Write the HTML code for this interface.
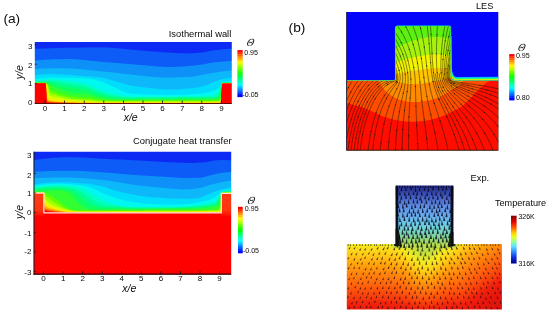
<!DOCTYPE html>
<html><head><meta charset="utf-8"><title>figure</title>
<style>
html,body{margin:0;padding:0;background:#fff;}
body{width:550px;height:314px;overflow:hidden;}
svg{display:block;font-family:"Liberation Sans", sans-serif;fill:#0a0a0a;}
</style></head><body>
<svg width="550" height="314" viewBox="0 0 550 314">
<defs>
<filter id="bl" x="-5%" y="-5%" width="110%" height="110%"><feGaussianBlur stdDeviation="0.45"/></filter>
<filter id="bl2" x="-5%" y="-5%" width="110%" height="110%"><feGaussianBlur stdDeviation="0.3"/></filter>
<linearGradient id="ribg" x1="0" y1="0" x2="0" y2="1"><stop offset="0" stop-color="#ff3a14"/><stop offset="0.75" stop-color="#ff3410"/><stop offset="1" stop-color="#ff0800"/></linearGradient>
<clipPath id="cples"><rect x="346.5" y="12.0" width="151.8" height="138.2"/></clipPath>
<clipPath id="cpsolid"><path d="M344.5,80.8 L393.6,80.8 Q395.8,80.8 395.8,78.6 L395.8,27.6 Q395.8,26.3 397.1,26.3 L449.1,26.3 Q450.4,26.3 450.4,27.6 L450.4,76.3 Q450.7,80.8 455.4,80.8 L500.3,80.8 L500.3,152.2 L344.5,152.2 Z"/></clipPath>
<clipPath id="cpexp"><path d="M346.8,244.0 H395.5 V185.5 H453.5 V244.0 H501.9 V309.6 H346.8 Z"/></clipPath>
<filter id="bl3" x="-5%" y="-5%" width="110%" height="110%"><feGaussianBlur stdDeviation="1.2"/></filter>
<filter id="bl4" x="-5%" y="-5%" width="110%" height="110%"><feGaussianBlur stdDeviation="0.35"/></filter>
<linearGradient id="expg" gradientUnits="userSpaceOnUse" x1="0" y1="185.5" x2="0" y2="250.0"><stop offset="0.000" stop-color="#262a88"/><stop offset="0.070" stop-color="#2e3a9c"/><stop offset="0.163" stop-color="#4058bc"/><stop offset="0.256" stop-color="#5478d4"/><stop offset="0.349" stop-color="#6294e4"/><stop offset="0.457" stop-color="#68a8ec"/><stop offset="0.566" stop-color="#6cc4ea"/><stop offset="0.659" stop-color="#72d4d8"/><stop offset="0.767" stop-color="#7ad4a4"/><stop offset="0.845" stop-color="#94d874"/><stop offset="0.907" stop-color="#b0dc50"/><stop offset="1.000" stop-color="#c8e23c"/></linearGradient>
<linearGradient id="jetg" x1="0" y1="0" x2="0" y2="1"><stop offset="0" stop-color="#800000"/><stop offset="0.12" stop-color="#e00000"/><stop offset="0.25" stop-color="#ff5a00"/><stop offset="0.36" stop-color="#ffd000"/><stop offset="0.45" stop-color="#e8ff20"/><stop offset="0.55" stop-color="#90ffa0"/><stop offset="0.64" stop-color="#60e0ff"/><stop offset="0.75" stop-color="#3090ff"/><stop offset="0.87" stop-color="#1030e0"/><stop offset="1" stop-color="#000080"/></linearGradient>
</defs>
<rect width="550" height="314" fill="#ffffff"/>
<clipPath id="cpa1"><rect x="34.8" y="42.0" width="197.0" height="61.9"/></clipPath>
<g clip-path="url(#cpa1)"><g filter="url(#bl)">
<rect x="31.8" y="39.0" width="203.0" height="67.3" fill="#0a2cf5"/>
<path d="M31.8,107.3 L31.8,49.05 L32.8,49.00 L33.8,48.95 L34.8,48.91 L35.8,48.86 L36.8,48.82 L37.8,48.77 L38.8,48.73 L39.8,48.69 L40.8,48.64 L41.8,48.60 L42.8,48.56 L43.8,48.52 L44.8,48.47 L45.8,48.43 L46.8,48.39 L47.8,48.36 L48.8,48.32 L49.8,48.28 L50.8,48.24 L51.8,48.21 L52.8,48.17 L53.8,48.14 L54.8,48.11 L55.8,48.08 L56.8,48.05 L57.8,48.02 L58.8,47.99 L59.8,47.96 L60.8,47.94 L61.8,47.92 L62.8,47.89 L63.8,47.87 L64.8,47.85 L65.8,47.83 L66.8,47.82 L67.8,47.80 L68.8,47.79 L69.8,47.78 L70.8,47.76 L71.8,47.75 L72.8,47.74 L73.8,47.72 L74.8,47.71 L75.8,47.70 L76.8,47.69 L77.8,47.67 L78.8,47.66 L79.8,47.65 L80.8,47.64 L81.8,47.63 L82.8,47.62 L83.8,47.61 L84.8,47.60 L85.8,47.59 L86.8,47.58 L87.8,47.57 L88.8,47.56 L89.8,47.55 L90.8,47.55 L91.8,47.54 L92.8,47.53 L93.8,47.53 L94.8,47.52 L95.8,47.52 L96.8,47.51 L97.8,47.51 L98.8,47.51 L99.8,47.50 L100.8,47.50 L101.8,47.50 L102.8,47.50 L103.8,47.50 L104.8,47.52 L105.8,47.54 L106.8,47.57 L107.8,47.60 L108.8,47.65 L109.8,47.70 L110.8,47.76 L111.8,47.83 L112.8,47.90 L113.8,47.97 L114.8,48.06 L115.8,48.14 L116.8,48.23 L117.8,48.32 L118.8,48.42 L119.8,48.52 L120.8,48.62 L121.8,48.72 L122.8,48.82 L123.8,48.93 L124.8,49.03 L125.8,49.14 L126.8,49.24 L127.8,49.34 L128.8,49.44 L129.8,49.54 L130.8,49.64 L131.8,49.73 L132.8,49.82 L133.8,49.90 L134.8,49.98 L135.8,50.06 L136.8,50.14 L137.8,50.22 L138.8,50.30 L139.8,50.38 L140.8,50.47 L141.8,50.55 L142.8,50.63 L143.8,50.72 L144.8,50.80 L145.8,50.88 L146.8,50.97 L147.8,51.05 L148.8,51.14 L149.8,51.22 L150.8,51.30 L151.8,51.39 L152.8,51.47 L153.8,51.55 L154.8,51.63 L155.8,51.71 L156.8,51.79 L157.8,51.87 L158.8,51.95 L159.8,52.02 L160.8,52.10 L161.8,52.17 L162.8,52.24 L163.8,52.31 L164.8,52.38 L165.8,52.44 L166.8,52.51 L167.8,52.57 L168.8,52.63 L169.8,52.69 L170.8,52.75 L171.8,52.81 L172.8,52.87 L173.8,52.93 L174.8,52.99 L175.8,53.06 L176.8,53.12 L177.8,53.17 L178.8,53.22 L179.8,53.27 L180.8,53.31 L181.8,53.35 L182.8,53.37 L183.8,53.39 L184.8,53.40 L185.8,53.40 L186.8,53.39 L187.8,53.37 L188.8,53.34 L189.8,53.31 L190.8,53.27 L191.8,53.22 L192.8,53.17 L193.8,53.12 L194.8,53.06 L195.8,52.99 L196.8,52.93 L197.8,52.86 L198.8,52.79 L199.8,52.71 L200.8,52.63 L201.8,52.52 L202.8,52.39 L203.8,52.23 L204.8,52.06 L205.8,51.87 L206.8,51.67 L207.8,51.47 L208.8,51.27 L209.8,51.06 L210.8,50.87 L211.8,50.68 L212.8,50.51 L213.8,50.36 L214.8,50.22 L215.8,50.11 L216.8,49.99 L217.8,49.88 L218.8,49.77 L219.8,49.67 L220.8,49.56 L221.8,49.46 L222.8,49.37 L223.8,49.27 L224.8,49.19 L225.8,49.10 L226.8,49.02 L227.8,48.95 L228.8,48.88 L229.8,48.82 L230.8,48.76 L231.8,48.71 L232.8,48.66 L233.8,48.63 L234.8,48.60 L234.8,107.3 Z" fill="#0a5cf8"/>
<path d="M31.8,107.3 L31.8,60.96 L32.8,60.85 L33.8,60.73 L34.8,60.62 L35.8,60.52 L36.8,60.42 L37.8,60.32 L38.8,60.23 L39.8,60.14 L40.8,60.06 L41.8,59.98 L42.8,59.90 L43.8,59.83 L44.8,59.77 L45.8,59.70 L46.8,59.64 L47.8,59.59 L48.8,59.54 L49.8,59.49 L50.8,59.44 L51.8,59.40 L52.8,59.36 L53.8,59.32 L54.8,59.29 L55.8,59.26 L56.8,59.23 L57.8,59.21 L58.8,59.19 L59.8,59.17 L60.8,59.15 L61.8,59.14 L62.8,59.13 L63.8,59.12 L64.8,59.11 L65.8,59.10 L66.8,59.10 L67.8,59.10 L68.8,59.10 L69.8,59.11 L70.8,59.13 L71.8,59.16 L72.8,59.20 L73.8,59.24 L74.8,59.29 L75.8,59.35 L76.8,59.41 L77.8,59.48 L78.8,59.55 L79.8,59.63 L80.8,59.71 L81.8,59.80 L82.8,59.89 L83.8,59.98 L84.8,60.08 L85.8,60.18 L86.8,60.28 L87.8,60.38 L88.8,60.49 L89.8,60.59 L90.8,60.70 L91.8,60.81 L92.8,60.91 L93.8,61.02 L94.8,61.12 L95.8,61.23 L96.8,61.33 L97.8,61.43 L98.8,61.53 L99.8,61.62 L100.8,61.71 L101.8,61.80 L102.8,61.88 L103.8,61.96 L104.8,62.05 L105.8,62.13 L106.8,62.21 L107.8,62.29 L108.8,62.37 L109.8,62.46 L110.8,62.54 L111.8,62.62 L112.8,62.70 L113.8,62.79 L114.8,62.87 L115.8,62.95 L116.8,63.04 L117.8,63.12 L118.8,63.20 L119.8,63.28 L120.8,63.37 L121.8,63.45 L122.8,63.53 L123.8,63.61 L124.8,63.69 L125.8,63.78 L126.8,63.86 L127.8,63.94 L128.8,64.02 L129.8,64.10 L130.8,64.17 L131.8,64.25 L132.8,64.33 L133.8,64.41 L134.8,64.48 L135.8,64.56 L136.8,64.64 L137.8,64.73 L138.8,64.81 L139.8,64.90 L140.8,64.99 L141.8,65.08 L142.8,65.18 L143.8,65.27 L144.8,65.36 L145.8,65.46 L146.8,65.56 L147.8,65.65 L148.8,65.74 L149.8,65.84 L150.8,65.93 L151.8,66.02 L152.8,66.11 L153.8,66.20 L154.8,66.28 L155.8,66.36 L156.8,66.44 L157.8,66.51 L158.8,66.58 L159.8,66.65 L160.8,66.71 L161.8,66.76 L162.8,66.82 L163.8,66.86 L164.8,66.90 L165.8,66.93 L166.8,66.96 L167.8,66.98 L168.8,66.99 L169.8,67.00 L170.8,67.00 L171.8,66.98 L172.8,66.96 L173.8,66.93 L174.8,66.90 L175.8,66.85 L176.8,66.81 L177.8,66.75 L178.8,66.70 L179.8,66.64 L180.8,66.57 L181.8,66.51 L182.8,66.44 L183.8,66.38 L184.8,66.31 L185.8,66.25 L186.8,66.18 L187.8,66.10 L188.8,66.02 L189.8,65.93 L190.8,65.83 L191.8,65.74 L192.8,65.63 L193.8,65.53 L194.8,65.42 L195.8,65.31 L196.8,65.19 L197.8,65.07 L198.8,64.95 L199.8,64.82 L200.8,64.69 L201.8,64.55 L202.8,64.38 L203.8,64.21 L204.8,64.03 L205.8,63.84 L206.8,63.65 L207.8,63.46 L208.8,63.27 L209.8,63.08 L210.8,62.90 L211.8,62.73 L212.8,62.58 L213.8,62.44 L214.8,62.32 L215.8,62.22 L216.8,62.11 L217.8,62.01 L218.8,61.91 L219.8,61.81 L220.8,61.72 L221.8,61.63 L222.8,61.54 L223.8,61.46 L224.8,61.38 L225.8,61.31 L226.8,61.25 L227.8,61.18 L228.8,61.13 L229.8,61.08 L230.8,61.04 L231.8,61.01 L232.8,60.98 L233.8,60.96 L234.8,60.95 L234.8,107.3 Z" fill="#0a90f8"/>
<path d="M31.8,107.3 L31.8,69.23 L32.8,69.15 L33.8,69.08 L34.8,69.01 L35.8,68.95 L36.8,68.89 L37.8,68.83 L38.8,68.78 L39.8,68.73 L40.8,68.68 L41.8,68.64 L42.8,68.60 L43.8,68.56 L44.8,68.52 L45.8,68.49 L46.8,68.46 L47.8,68.44 L48.8,68.41 L49.8,68.39 L50.8,68.37 L51.8,68.36 L52.8,68.34 L53.8,68.33 L54.8,68.32 L55.8,68.31 L56.8,68.31 L57.8,68.30 L58.8,68.30 L59.8,68.30 L60.8,68.30 L61.8,68.31 L62.8,68.32 L63.8,68.34 L64.8,68.37 L65.8,68.40 L66.8,68.43 L67.8,68.47 L68.8,68.52 L69.8,68.57 L70.8,68.62 L71.8,68.68 L72.8,68.74 L73.8,68.81 L74.8,68.88 L75.8,68.95 L76.8,69.03 L77.8,69.10 L78.8,69.19 L79.8,69.27 L80.8,69.36 L81.8,69.45 L82.8,69.54 L83.8,69.63 L84.8,69.72 L85.8,69.82 L86.8,69.92 L87.8,70.02 L88.8,70.11 L89.8,70.21 L90.8,70.31 L91.8,70.41 L92.8,70.51 L93.8,70.62 L94.8,70.72 L95.8,70.81 L96.8,70.91 L97.8,71.01 L98.8,71.11 L99.8,71.20 L100.8,71.30 L101.8,71.39 L102.8,71.48 L103.8,71.57 L104.8,71.67 L105.8,71.76 L106.8,71.86 L107.8,71.96 L108.8,72.07 L109.8,72.18 L110.8,72.29 L111.8,72.40 L112.8,72.51 L113.8,72.62 L114.8,72.74 L115.8,72.85 L116.8,72.97 L117.8,73.09 L118.8,73.21 L119.8,73.32 L120.8,73.44 L121.8,73.56 L122.8,73.68 L123.8,73.79 L124.8,73.91 L125.8,74.03 L126.8,74.14 L127.8,74.25 L128.8,74.36 L129.8,74.47 L130.8,74.58 L131.8,74.68 L132.8,74.79 L133.8,74.88 L134.8,74.98 L135.8,75.08 L136.8,75.18 L137.8,75.28 L138.8,75.38 L139.8,75.49 L140.8,75.60 L141.8,75.71 L142.8,75.82 L143.8,75.93 L144.8,76.05 L145.8,76.16 L146.8,76.27 L147.8,76.37 L148.8,76.48 L149.8,76.58 L150.8,76.68 L151.8,76.78 L152.8,76.87 L153.8,76.96 L154.8,77.05 L155.8,77.12 L156.8,77.20 L157.8,77.26 L158.8,77.32 L159.8,77.37 L160.8,77.41 L161.8,77.45 L162.8,77.48 L163.8,77.49 L164.8,77.50 L165.8,77.50 L166.8,77.50 L167.8,77.49 L168.8,77.48 L169.8,77.48 L170.8,77.46 L171.8,77.45 L172.8,77.44 L173.8,77.42 L174.8,77.40 L175.8,77.38 L176.8,77.36 L177.8,77.33 L178.8,77.31 L179.8,77.28 L180.8,77.25 L181.8,77.22 L182.8,77.18 L183.8,77.15 L184.8,77.11 L185.8,77.08 L186.8,77.04 L187.8,77.00 L188.8,76.95 L189.8,76.91 L190.8,76.85 L191.8,76.77 L192.8,76.66 L193.8,76.53 L194.8,76.37 L195.8,76.20 L196.8,76.02 L197.8,75.83 L198.8,75.62 L199.8,75.42 L200.8,75.21 L201.8,75.01 L202.8,74.81 L203.8,74.61 L204.8,74.43 L205.8,74.26 L206.8,74.09 L207.8,73.91 L208.8,73.73 L209.8,73.55 L210.8,73.36 L211.8,73.18 L212.8,73.00 L213.8,72.82 L214.8,72.64 L215.8,72.47 L216.8,72.30 L217.8,72.14 L218.8,71.98 L219.8,71.83 L220.8,71.69 L221.8,71.54 L222.8,71.41 L223.8,71.27 L224.8,71.14 L225.8,71.01 L226.8,70.89 L227.8,70.77 L228.8,70.65 L229.8,70.54 L230.8,70.43 L231.8,70.32 L232.8,70.22 L233.8,70.12 L234.8,70.03 L234.8,107.3 Z" fill="#0ab8fa"/>
<path d="M31.8,107.3 L31.8,75.35 L32.8,75.24 L33.8,75.13 L34.8,75.02 L35.8,74.92 L36.8,74.82 L37.8,74.72 L38.8,74.63 L39.8,74.55 L40.8,74.47 L41.8,74.40 L42.8,74.33 L43.8,74.28 L44.8,74.23 L45.8,74.18 L46.8,74.15 L47.8,74.12 L48.8,74.11 L49.8,74.10 L50.8,74.10 L51.8,74.11 L52.8,74.13 L53.8,74.15 L54.8,74.18 L55.8,74.21 L56.8,74.25 L57.8,74.30 L58.8,74.34 L59.8,74.39 L60.8,74.45 L61.8,74.50 L62.8,74.56 L63.8,74.62 L64.8,74.68 L65.8,74.74 L66.8,74.81 L67.8,74.87 L68.8,74.93 L69.8,74.99 L70.8,75.05 L71.8,75.11 L72.8,75.19 L73.8,75.26 L74.8,75.34 L75.8,75.42 L76.8,75.51 L77.8,75.59 L78.8,75.68 L79.8,75.77 L80.8,75.85 L81.8,75.94 L82.8,76.02 L83.8,76.11 L84.8,76.18 L85.8,76.26 L86.8,76.33 L87.8,76.39 L88.8,76.45 L89.8,76.51 L90.8,76.57 L91.8,76.63 L92.8,76.69 L93.8,76.76 L94.8,76.83 L95.8,76.90 L96.8,76.98 L97.8,77.07 L98.8,77.17 L99.8,77.28 L100.8,77.41 L101.8,77.58 L102.8,77.78 L103.8,78.01 L104.8,78.26 L105.8,78.53 L106.8,78.82 L107.8,79.10 L108.8,79.39 L109.8,79.68 L110.8,79.95 L111.8,80.21 L112.8,80.48 L113.8,80.76 L114.8,81.03 L115.8,81.31 L116.8,81.60 L117.8,81.88 L118.8,82.16 L119.8,82.44 L120.8,82.73 L121.8,83.03 L122.8,83.33 L123.8,83.64 L124.8,83.95 L125.8,84.25 L126.8,84.54 L127.8,84.80 L128.8,85.05 L129.8,85.26 L130.8,85.45 L131.8,85.63 L132.8,85.81 L133.8,85.97 L134.8,86.14 L135.8,86.29 L136.8,86.45 L137.8,86.59 L138.8,86.73 L139.8,86.87 L140.8,87.00 L141.8,87.13 L142.8,87.25 L143.8,87.36 L144.8,87.48 L145.8,87.59 L146.8,87.69 L147.8,87.79 L148.8,87.89 L149.8,87.98 L150.8,88.07 L151.8,88.17 L152.8,88.26 L153.8,88.36 L154.8,88.45 L155.8,88.54 L156.8,88.64 L157.8,88.73 L158.8,88.82 L159.8,88.90 L160.8,88.98 L161.8,89.06 L162.8,89.14 L163.8,89.20 L164.8,89.27 L165.8,89.32 L166.8,89.37 L167.8,89.42 L168.8,89.45 L169.8,89.48 L170.8,89.49 L171.8,89.50 L172.8,89.50 L173.8,89.48 L174.8,89.46 L175.8,89.43 L176.8,89.39 L177.8,89.35 L178.8,89.29 L179.8,89.23 L180.8,89.17 L181.8,89.10 L182.8,89.02 L183.8,88.94 L184.8,88.86 L185.8,88.78 L186.8,88.69 L187.8,88.60 L188.8,88.51 L189.8,88.42 L190.8,88.32 L191.8,88.22 L192.8,88.10 L193.8,87.96 L194.8,87.82 L195.8,87.66 L196.8,87.50 L197.8,87.32 L198.8,87.14 L199.8,86.94 L200.8,86.73 L201.8,86.48 L202.8,86.21 L203.8,85.92 L204.8,85.60 L205.8,85.28 L206.8,84.94 L207.8,84.59 L208.8,84.22 L209.8,83.81 L210.8,83.38 L211.8,82.94 L212.8,82.50 L213.8,82.08 L214.8,81.68 L215.8,81.29 L216.8,80.90 L217.8,80.50 L218.8,80.13 L219.8,79.79 L220.8,79.49 L221.8,79.26 L222.8,79.05 L223.8,78.85 L224.8,78.65 L225.8,78.47 L226.8,78.30 L227.8,78.15 L228.8,78.02 L229.8,77.92 L230.8,77.85 L231.8,77.80 L232.8,77.80 L233.8,77.83 L234.8,77.90 L234.8,107.3 Z" fill="#05dcfc"/>
<path d="M31.8,107.3 L31.8,78.43 L32.8,78.47 L33.8,78.49 L34.8,78.50 L35.8,78.50 L36.8,78.48 L37.8,78.46 L38.8,78.42 L39.8,78.38 L40.8,78.33 L41.8,78.27 L42.8,78.21 L43.8,78.15 L44.8,78.08 L45.8,78.01 L46.8,77.90 L47.8,77.74 L48.8,77.59 L49.8,77.50 L50.8,77.50 L51.8,77.50 L52.8,77.50 L53.8,77.50 L54.8,77.50 L55.8,77.51 L56.8,77.55 L57.8,77.61 L58.8,77.66 L59.8,77.70 L60.8,77.71 L61.8,77.72 L62.8,77.73 L63.8,77.74 L64.8,77.74 L65.8,77.75 L66.8,77.75 L67.8,77.76 L68.8,77.76 L69.8,77.77 L70.8,77.78 L71.8,77.79 L72.8,77.80 L73.8,77.81 L74.8,77.83 L75.8,77.85 L76.8,77.88 L77.8,77.92 L78.8,77.95 L79.8,78.00 L80.8,78.04 L81.8,78.09 L82.8,78.15 L83.8,78.21 L84.8,78.27 L85.8,78.34 L86.8,78.41 L87.8,78.48 L88.8,78.57 L89.8,78.69 L90.8,78.83 L91.8,79.00 L92.8,79.19 L93.8,79.40 L94.8,79.63 L95.8,79.87 L96.8,80.13 L97.8,80.39 L98.8,80.67 L99.8,80.94 L100.8,81.24 L101.8,81.58 L102.8,81.96 L103.8,82.37 L104.8,82.81 L105.8,83.27 L106.8,83.75 L107.8,84.25 L108.8,84.75 L109.8,85.25 L110.8,85.75 L111.8,86.25 L112.8,86.72 L113.8,87.18 L114.8,87.62 L115.8,88.04 L116.8,88.49 L117.8,88.96 L118.8,89.43 L119.8,89.92 L120.8,90.40 L121.8,90.87 L122.8,91.32 L123.8,91.76 L124.8,92.16 L125.8,92.52 L126.8,92.85 L127.8,93.12 L128.8,93.33 L129.8,93.48 L130.8,93.58 L131.8,93.67 L132.8,93.76 L133.8,93.84 L134.8,93.92 L135.8,93.99 L136.8,94.06 L137.8,94.12 L138.8,94.18 L139.8,94.23 L140.8,94.28 L141.8,94.33 L142.8,94.38 L143.8,94.42 L144.8,94.45 L145.8,94.49 L146.8,94.52 L147.8,94.55 L148.8,94.57 L149.8,94.60 L150.8,94.62 L151.8,94.64 L152.8,94.66 L153.8,94.68 L154.8,94.70 L155.8,94.72 L156.8,94.74 L157.8,94.76 L158.8,94.78 L159.8,94.79 L160.8,94.81 L161.8,94.82 L162.8,94.84 L163.8,94.85 L164.8,94.86 L165.8,94.87 L166.8,94.88 L167.8,94.89 L168.8,94.89 L169.8,94.90 L170.8,94.90 L171.8,94.90 L172.8,94.90 L173.8,94.89 L174.8,94.88 L175.8,94.87 L176.8,94.85 L177.8,94.83 L178.8,94.81 L179.8,94.78 L180.8,94.75 L181.8,94.71 L182.8,94.68 L183.8,94.63 L184.8,94.59 L185.8,94.54 L186.8,94.49 L187.8,94.44 L188.8,94.38 L189.8,94.33 L190.8,94.26 L191.8,94.20 L192.8,94.14 L193.8,94.07 L194.8,94.00 L195.8,93.92 L196.8,93.85 L197.8,93.77 L198.8,93.70 L199.8,93.62 L200.8,93.53 L201.8,93.42 L202.8,93.29 L203.8,93.15 L204.8,92.98 L205.8,92.80 L206.8,92.60 L207.8,92.38 L208.8,92.15 L209.8,91.91 L210.8,91.65 L211.8,91.36 L212.8,90.99 L213.8,90.56 L214.8,90.09 L215.8,89.64 L216.8,89.20 L217.8,88.65 L218.8,87.89 L219.8,86.38 L220.8,83.95 L221.8,81.82 L222.8,81.62 L223.8,81.54 L224.8,81.47 L225.8,81.41 L226.8,81.37 L227.8,81.34 L228.8,81.32 L229.8,81.31 L230.8,81.30 L231.8,81.30 L232.8,81.30 L233.8,81.30 L234.8,81.30 L234.8,107.3 Z" fill="#00f8f0"/>
<path d="M31.8,107.3 L31.8,80.45 L32.8,80.47 L33.8,80.49 L34.8,80.50 L35.8,80.50 L36.8,80.48 L37.8,80.46 L38.8,80.43 L39.8,80.39 L40.8,80.34 L41.8,80.29 L42.8,80.23 L43.8,80.16 L44.8,80.09 L45.8,80.01 L46.8,79.86 L47.8,79.60 L48.8,79.35 L49.8,79.20 L50.8,79.22 L51.8,79.29 L52.8,79.38 L53.8,79.49 L54.8,79.58 L55.8,79.66 L56.8,79.74 L57.8,79.82 L58.8,79.90 L59.8,79.98 L60.8,80.07 L61.8,80.17 L62.8,80.27 L63.8,80.37 L64.8,80.47 L65.8,80.58 L66.8,80.69 L67.8,80.81 L68.8,80.93 L69.8,81.06 L70.8,81.19 L71.8,81.33 L72.8,81.47 L73.8,81.62 L74.8,81.78 L75.8,81.94 L76.8,82.11 L77.8,82.29 L78.8,82.47 L79.8,82.66 L80.8,82.87 L81.8,83.08 L82.8,83.30 L83.8,83.53 L84.8,83.77 L85.8,84.01 L86.8,84.27 L87.8,84.54 L88.8,84.84 L89.8,85.18 L90.8,85.56 L91.8,85.97 L92.8,86.40 L93.8,86.85 L94.8,87.31 L95.8,87.77 L96.8,88.22 L97.8,88.65 L98.8,89.05 L99.8,89.43 L100.8,89.78 L101.8,90.12 L102.8,90.47 L103.8,90.80 L104.8,91.14 L105.8,91.46 L106.8,91.78 L107.8,92.09 L108.8,92.39 L109.8,92.69 L110.8,92.97 L111.8,93.24 L112.8,93.49 L113.8,93.73 L114.8,93.96 L115.8,94.17 L116.8,94.40 L117.8,94.63 L118.8,94.85 L119.8,95.08 L120.8,95.30 L121.8,95.51 L122.8,95.71 L123.8,95.89 L124.8,96.06 L125.8,96.20 L126.8,96.32 L127.8,96.41 L128.8,96.47 L129.8,96.50 L130.8,96.50 L131.8,96.50 L132.8,96.49 L133.8,96.49 L134.8,96.49 L135.8,96.48 L136.8,96.47 L137.8,96.47 L138.8,96.46 L139.8,96.45 L140.8,96.44 L141.8,96.44 L142.8,96.43 L143.8,96.42 L144.8,96.42 L145.8,96.41 L146.8,96.41 L147.8,96.40 L148.8,96.40 L149.8,96.40 L150.8,96.40 L151.8,96.40 L152.8,96.40 L153.8,96.40 L154.8,96.40 L155.8,96.40 L156.8,96.40 L157.8,96.40 L158.8,96.40 L159.8,96.40 L160.8,96.40 L161.8,96.40 L162.8,96.40 L163.8,96.40 L164.8,96.40 L165.8,96.40 L166.8,96.40 L167.8,96.40 L168.8,96.40 L169.8,96.40 L170.8,96.40 L171.8,96.40 L172.8,96.40 L173.8,96.40 L174.8,96.39 L175.8,96.39 L176.8,96.38 L177.8,96.38 L178.8,96.37 L179.8,96.36 L180.8,96.35 L181.8,96.34 L182.8,96.32 L183.8,96.31 L184.8,96.30 L185.8,96.28 L186.8,96.26 L187.8,96.25 L188.8,96.23 L189.8,96.21 L190.8,96.19 L191.8,96.17 L192.8,96.15 L193.8,96.13 L194.8,96.11 L195.8,96.09 L196.8,96.07 L197.8,96.05 L198.8,96.03 L199.8,96.00 L200.8,95.98 L201.8,95.96 L202.8,95.94 L203.8,95.91 L204.8,95.88 L205.8,95.85 L206.8,95.81 L207.8,95.77 L208.8,95.72 L209.8,95.67 L210.8,95.61 L211.8,95.54 L212.8,95.43 L213.8,95.27 L214.8,95.05 L215.8,94.62 L216.8,93.70 L217.8,92.41 L218.8,90.84 L219.8,88.57 L220.8,85.21 L221.8,82.42 L222.8,82.28 L223.8,82.26 L224.8,82.24 L225.8,82.23 L226.8,82.22 L227.8,82.21 L228.8,82.20 L229.8,82.20 L230.8,82.20 L231.8,82.20 L232.8,82.20 L233.8,82.20 L234.8,82.20 L234.8,107.3 Z" fill="#00ffc0"/>
<path d="M31.8,107.3 L31.8,81.65 L32.8,81.68 L33.8,81.69 L34.8,81.70 L35.8,81.70 L36.8,81.69 L37.8,81.67 L38.8,81.64 L39.8,81.61 L40.8,81.57 L41.8,81.53 L42.8,81.48 L43.8,81.42 L44.8,81.37 L45.8,81.31 L46.8,81.20 L47.8,81.04 L48.8,80.89 L49.8,80.80 L50.8,80.84 L51.8,80.97 L52.8,81.15 L53.8,81.37 L54.8,81.57 L55.8,81.74 L56.8,81.92 L57.8,82.11 L58.8,82.29 L59.8,82.47 L60.8,82.63 L61.8,82.79 L62.8,82.95 L63.8,83.10 L64.8,83.24 L65.8,83.39 L66.8,83.53 L67.8,83.68 L68.8,83.83 L69.8,83.98 L70.8,84.14 L71.8,84.30 L72.8,84.47 L73.8,84.64 L74.8,84.81 L75.8,84.98 L76.8,85.15 L77.8,85.32 L78.8,85.50 L79.8,85.68 L80.8,85.87 L81.8,86.06 L82.8,86.26 L83.8,86.48 L84.8,86.70 L85.8,86.93 L86.8,87.18 L87.8,87.45 L88.8,87.74 L89.8,88.09 L90.8,88.48 L91.8,88.92 L92.8,89.37 L93.8,89.85 L94.8,90.32 L95.8,90.80 L96.8,91.26 L97.8,91.69 L98.8,92.09 L99.8,92.44 L100.8,92.75 L101.8,93.06 L102.8,93.36 L103.8,93.65 L104.8,93.94 L105.8,94.22 L106.8,94.49 L107.8,94.75 L108.8,94.99 L109.8,95.23 L110.8,95.45 L111.8,95.65 L112.8,95.84 L113.8,96.02 L114.8,96.17 L115.8,96.31 L116.8,96.46 L117.8,96.60 L118.8,96.74 L119.8,96.88 L120.8,97.01 L121.8,97.13 L122.8,97.25 L123.8,97.36 L124.8,97.45 L125.8,97.53 L126.8,97.60 L127.8,97.65 L128.8,97.69 L129.8,97.70 L130.8,97.70 L131.8,97.70 L132.8,97.69 L133.8,97.68 L134.8,97.68 L135.8,97.67 L136.8,97.66 L137.8,97.64 L138.8,97.63 L139.8,97.62 L140.8,97.60 L141.8,97.59 L142.8,97.58 L143.8,97.56 L144.8,97.55 L145.8,97.54 L146.8,97.53 L147.8,97.52 L148.8,97.51 L149.8,97.50 L150.8,97.50 L151.8,97.49 L152.8,97.48 L153.8,97.48 L154.8,97.47 L155.8,97.47 L156.8,97.46 L157.8,97.46 L158.8,97.46 L159.8,97.45 L160.8,97.45 L161.8,97.44 L162.8,97.44 L163.8,97.44 L164.8,97.43 L165.8,97.43 L166.8,97.42 L167.8,97.42 L168.8,97.42 L169.8,97.41 L170.8,97.41 L171.8,97.40 L172.8,97.40 L173.8,97.39 L174.8,97.38 L175.8,97.38 L176.8,97.37 L177.8,97.37 L178.8,97.36 L179.8,97.36 L180.8,97.35 L181.8,97.35 L182.8,97.34 L183.8,97.33 L184.8,97.33 L185.8,97.32 L186.8,97.31 L187.8,97.31 L188.8,97.30 L189.8,97.29 L190.8,97.28 L191.8,97.28 L192.8,97.27 L193.8,97.26 L194.8,97.25 L195.8,97.24 L196.8,97.23 L197.8,97.22 L198.8,97.21 L199.8,97.20 L200.8,97.19 L201.8,97.18 L202.8,97.17 L203.8,97.15 L204.8,97.14 L205.8,97.12 L206.8,97.10 L207.8,97.08 L208.8,97.06 L209.8,97.03 L210.8,97.01 L211.8,96.98 L212.8,96.94 L213.8,96.89 L214.8,96.82 L215.8,96.63 L216.8,96.15 L217.8,95.36 L218.8,94.26 L219.8,91.39 L220.8,86.46 L221.8,82.76 L222.8,82.60 L223.8,82.60 L224.8,82.60 L225.8,82.60 L226.8,82.60 L227.8,82.60 L228.8,82.60 L229.8,82.60 L230.8,82.60 L231.8,82.60 L232.8,82.60 L233.8,82.60 L234.8,82.60 L234.8,107.3 Z" fill="#00ff90"/>
<path d="M31.8,107.3 L31.8,82.42 L32.8,82.37 L33.8,82.34 L34.8,82.31 L35.8,82.28 L36.8,82.26 L37.8,82.24 L38.8,82.23 L39.8,82.22 L40.8,82.21 L41.8,82.21 L42.8,82.20 L43.8,82.20 L44.8,82.20 L45.8,82.20 L46.8,82.42 L47.8,82.49 L48.8,82.53 L49.8,82.58 L50.8,82.72 L51.8,82.96 L52.8,83.27 L53.8,83.61 L54.8,83.94 L55.8,84.25 L56.8,84.59 L57.8,84.94 L58.8,85.26 L59.8,85.55 L60.8,85.79 L61.8,86.01 L62.8,86.22 L63.8,86.42 L64.8,86.61 L65.8,86.79 L66.8,86.96 L67.8,87.13 L68.8,87.30 L69.8,87.46 L70.8,87.63 L71.8,87.79 L72.8,87.97 L73.8,88.14 L74.8,88.30 L75.8,88.45 L76.8,88.60 L77.8,88.75 L78.8,88.89 L79.8,89.04 L80.8,89.18 L81.8,89.34 L82.8,89.49 L83.8,89.66 L84.8,89.84 L85.8,90.03 L86.8,90.23 L87.8,90.45 L88.8,90.71 L89.8,91.02 L90.8,91.37 L91.8,91.77 L92.8,92.18 L93.8,92.62 L94.8,93.06 L95.8,93.49 L96.8,93.90 L97.8,94.29 L98.8,94.64 L99.8,94.95 L100.8,95.21 L101.8,95.47 L102.8,95.73 L103.8,95.98 L104.8,96.23 L105.8,96.47 L106.8,96.70 L107.8,96.92 L108.8,97.12 L109.8,97.31 L110.8,97.48 L111.8,97.64 L112.8,97.78 L113.8,97.89 L114.8,97.98 L115.8,98.06 L116.8,98.13 L117.8,98.20 L118.8,98.27 L119.8,98.34 L120.8,98.40 L121.8,98.45 L122.8,98.51 L123.8,98.55 L124.8,98.60 L125.8,98.63 L126.8,98.66 L127.8,98.68 L128.8,98.69 L129.8,98.70 L130.8,98.70 L131.8,98.70 L132.8,98.69 L133.8,98.68 L134.8,98.68 L135.8,98.67 L136.8,98.66 L137.8,98.64 L138.8,98.63 L139.8,98.62 L140.8,98.60 L141.8,98.59 L142.8,98.58 L143.8,98.56 L144.8,98.55 L145.8,98.54 L146.8,98.53 L147.8,98.52 L148.8,98.51 L149.8,98.50 L150.8,98.50 L151.8,98.49 L152.8,98.48 L153.8,98.48 L154.8,98.47 L155.8,98.47 L156.8,98.46 L157.8,98.46 L158.8,98.45 L159.8,98.45 L160.8,98.44 L161.8,98.44 L162.8,98.44 L163.8,98.43 L164.8,98.43 L165.8,98.42 L166.8,98.42 L167.8,98.42 L168.8,98.41 L169.8,98.41 L170.8,98.40 L171.8,98.40 L172.8,98.40 L173.8,98.39 L174.8,98.39 L175.8,98.39 L176.8,98.38 L177.8,98.38 L178.8,98.38 L179.8,98.37 L180.8,98.37 L181.8,98.37 L182.8,98.36 L183.8,98.36 L184.8,98.36 L185.8,98.36 L186.8,98.35 L187.8,98.35 L188.8,98.35 L189.8,98.34 L190.8,98.34 L191.8,98.34 L192.8,98.33 L193.8,98.33 L194.8,98.32 L195.8,98.32 L196.8,98.32 L197.8,98.31 L198.8,98.31 L199.8,98.30 L200.8,98.30 L201.8,98.29 L202.8,98.28 L203.8,98.28 L204.8,98.27 L205.8,98.26 L206.8,98.25 L207.8,98.24 L208.8,98.23 L209.8,98.22 L210.8,98.20 L211.8,98.18 L212.8,98.14 L213.8,98.09 L214.8,98.02 L215.8,97.90 L216.8,97.66 L217.8,97.26 L218.8,96.65 L219.8,93.91 L220.8,88.24 L221.8,83.06 L222.8,82.80 L223.8,82.80 L224.8,82.80 L225.8,82.80 L226.8,82.80 L227.8,82.80 L228.8,82.80 L229.8,82.80 L230.8,82.80 L231.8,82.80 L232.8,82.80 L233.8,82.80 L234.8,82.80 L234.8,107.3 Z" fill="#10ff60"/>
<path d="M31.8,107.3 L31.8,82.60 L32.8,82.60 L33.8,82.60 L34.8,82.60 L35.8,82.60 L36.8,82.60 L37.8,82.60 L38.8,82.60 L39.8,82.60 L40.8,82.60 L41.8,82.60 L42.8,82.60 L43.8,82.60 L44.8,82.60 L45.8,82.60 L46.8,83.09 L47.8,83.48 L48.8,83.93 L49.8,84.86 L50.8,85.42 L51.8,85.86 L52.8,86.22 L53.8,86.56 L54.8,86.92 L55.8,87.33 L56.8,87.75 L57.8,88.17 L58.8,88.57 L59.8,88.93 L60.8,89.26 L61.8,89.59 L62.8,89.91 L63.8,90.22 L64.8,90.52 L65.8,90.82 L66.8,91.10 L67.8,91.37 L68.8,91.62 L69.8,91.86 L70.8,92.08 L71.8,92.28 L72.8,92.47 L73.8,92.63 L74.8,92.77 L75.8,92.90 L76.8,93.02 L77.8,93.13 L78.8,93.23 L79.8,93.33 L80.8,93.43 L81.8,93.53 L82.8,93.63 L83.8,93.73 L84.8,93.85 L85.8,93.97 L86.8,94.11 L87.8,94.27 L88.8,94.45 L89.8,94.67 L90.8,94.93 L91.8,95.21 L92.8,95.52 L93.8,95.83 L94.8,96.14 L95.8,96.45 L96.8,96.74 L97.8,97.02 L98.8,97.26 L99.8,97.46 L100.8,97.64 L101.8,97.81 L102.8,97.99 L103.8,98.16 L104.8,98.32 L105.8,98.48 L106.8,98.63 L107.8,98.77 L108.8,98.90 L109.8,99.02 L110.8,99.13 L111.8,99.22 L112.8,99.30 L113.8,99.36 L114.8,99.39 L115.8,99.42 L116.8,99.44 L117.8,99.46 L118.8,99.48 L119.8,99.50 L120.8,99.52 L121.8,99.54 L122.8,99.55 L123.8,99.56 L124.8,99.57 L125.8,99.58 L126.8,99.59 L127.8,99.59 L128.8,99.60 L129.8,99.60 L130.8,99.60 L131.8,99.60 L132.8,99.60 L133.8,99.59 L134.8,99.59 L135.8,99.59 L136.8,99.58 L137.8,99.58 L138.8,99.57 L139.8,99.56 L140.8,99.56 L141.8,99.55 L142.8,99.54 L143.8,99.54 L144.8,99.53 L145.8,99.52 L146.8,99.52 L147.8,99.51 L148.8,99.51 L149.8,99.50 L150.8,99.50 L151.8,99.49 L152.8,99.49 L153.8,99.48 L154.8,99.48 L155.8,99.47 L156.8,99.47 L157.8,99.46 L158.8,99.46 L159.8,99.45 L160.8,99.45 L161.8,99.44 L162.8,99.44 L163.8,99.44 L164.8,99.43 L165.8,99.43 L166.8,99.42 L167.8,99.42 L168.8,99.41 L169.8,99.41 L170.8,99.40 L171.8,99.40 L172.8,99.40 L173.8,99.39 L174.8,99.39 L175.8,99.38 L176.8,99.38 L177.8,99.37 L178.8,99.37 L179.8,99.36 L180.8,99.36 L181.8,99.36 L182.8,99.35 L183.8,99.35 L184.8,99.34 L185.8,99.34 L186.8,99.33 L187.8,99.33 L188.8,99.32 L189.8,99.32 L190.8,99.32 L191.8,99.31 L192.8,99.31 L193.8,99.31 L194.8,99.31 L195.8,99.30 L196.8,99.30 L197.8,99.30 L198.8,99.30 L199.8,99.30 L200.8,99.30 L201.8,99.30 L202.8,99.30 L203.8,99.30 L204.8,99.30 L205.8,99.30 L206.8,99.30 L207.8,99.30 L208.8,99.30 L209.8,99.30 L210.8,99.30 L211.8,99.30 L212.8,99.28 L213.8,99.25 L214.8,99.21 L215.8,99.15 L216.8,99.05 L217.8,98.86 L218.8,98.57 L219.8,97.14 L220.8,92.30 L221.8,83.42 L222.8,83.00 L223.8,83.00 L224.8,83.00 L225.8,83.00 L226.8,83.00 L227.8,83.00 L228.8,83.00 L229.8,83.00 L230.8,83.00 L231.8,83.00 L232.8,83.00 L233.8,83.00 L234.8,83.00 L234.8,107.3 Z" fill="#30ff30"/>
<path d="M31.8,107.3 L31.8,82.80 L32.8,82.80 L33.8,82.80 L34.8,82.80 L35.8,82.80 L36.8,82.80 L37.8,82.80 L38.8,82.80 L39.8,82.80 L40.8,82.80 L41.8,82.80 L42.8,82.80 L43.8,82.80 L44.8,82.80 L45.8,82.80 L46.8,83.56 L47.8,84.35 L48.8,85.41 L49.8,89.16 L50.8,90.07 L51.8,90.55 L52.8,90.87 L53.8,91.13 L54.8,91.43 L55.8,91.81 L56.8,92.19 L57.8,92.56 L58.8,92.91 L59.8,93.24 L60.8,93.54 L61.8,93.85 L62.8,94.15 L63.8,94.45 L64.8,94.74 L65.8,95.03 L66.8,95.30 L67.8,95.55 L68.8,95.79 L69.8,96.00 L70.8,96.19 L71.8,96.35 L72.8,96.48 L73.8,96.58 L74.8,96.67 L75.8,96.75 L76.8,96.82 L77.8,96.88 L78.8,96.93 L79.8,96.98 L80.8,97.03 L81.8,97.08 L82.8,97.13 L83.8,97.19 L84.8,97.25 L85.8,97.32 L86.8,97.39 L87.8,97.48 L88.8,97.59 L89.8,97.73 L90.8,97.89 L91.8,98.07 L92.8,98.26 L93.8,98.46 L94.8,98.66 L95.8,98.86 L96.8,99.04 L97.8,99.21 L98.8,99.36 L99.8,99.48 L100.8,99.58 L101.8,99.67 L102.8,99.77 L103.8,99.87 L104.8,99.96 L105.8,100.04 L106.8,100.13 L107.8,100.20 L108.8,100.27 L109.8,100.34 L110.8,100.39 L111.8,100.43 L112.8,100.47 L113.8,100.49 L114.8,100.50 L115.8,100.50 L116.8,100.50 L117.8,100.50 L118.8,100.50 L119.8,100.50 L120.8,100.50 L121.8,100.50 L122.8,100.50 L123.8,100.50 L124.8,100.50 L125.8,100.50 L126.8,100.50 L127.8,100.50 L128.8,100.50 L129.8,100.50 L130.8,100.50 L131.8,100.50 L132.8,100.49 L133.8,100.49 L134.8,100.49 L135.8,100.48 L136.8,100.47 L137.8,100.47 L138.8,100.46 L139.8,100.45 L140.8,100.44 L141.8,100.44 L142.8,100.43 L143.8,100.42 L144.8,100.42 L145.8,100.41 L146.8,100.41 L147.8,100.40 L148.8,100.40 L149.8,100.40 L150.8,100.40 L151.8,100.40 L152.8,100.40 L153.8,100.40 L154.8,100.40 L155.8,100.40 L156.8,100.40 L157.8,100.40 L158.8,100.40 L159.8,100.40 L160.8,100.40 L161.8,100.40 L162.8,100.40 L163.8,100.40 L164.8,100.40 L165.8,100.40 L166.8,100.40 L167.8,100.40 L168.8,100.40 L169.8,100.40 L170.8,100.40 L171.8,100.40 L172.8,100.40 L173.8,100.40 L174.8,100.40 L175.8,100.39 L176.8,100.39 L177.8,100.39 L178.8,100.39 L179.8,100.38 L180.8,100.38 L181.8,100.37 L182.8,100.37 L183.8,100.36 L184.8,100.36 L185.8,100.35 L186.8,100.35 L187.8,100.34 L188.8,100.34 L189.8,100.33 L190.8,100.33 L191.8,100.32 L192.8,100.32 L193.8,100.31 L194.8,100.31 L195.8,100.31 L196.8,100.30 L197.8,100.30 L198.8,100.30 L199.8,100.30 L200.8,100.30 L201.8,100.30 L202.8,100.30 L203.8,100.30 L204.8,100.30 L205.8,100.30 L206.8,100.30 L207.8,100.30 L208.8,100.30 L209.8,100.30 L210.8,100.30 L211.8,100.29 L212.8,100.27 L213.8,100.24 L214.8,100.21 L215.8,100.18 L216.8,100.15 L217.8,100.10 L218.8,100.02 L219.8,99.49 L220.8,96.37 L221.8,83.85 L222.8,83.10 L223.8,83.10 L224.8,83.10 L225.8,83.10 L226.8,83.10 L227.8,83.10 L228.8,83.10 L229.8,83.10 L230.8,83.10 L231.8,83.10 L232.8,83.10 L233.8,83.10 L234.8,83.10 L234.8,107.3 Z" fill="#60ff00"/>
<path d="M31.8,107.3 L31.8,83.00 L32.8,83.00 L33.8,83.00 L34.8,83.00 L35.8,83.00 L36.8,83.00 L37.8,83.00 L38.8,83.00 L39.8,83.00 L40.8,83.00 L41.8,83.00 L42.8,83.00 L43.8,83.00 L44.8,83.00 L45.8,83.00 L46.8,84.03 L47.8,85.32 L48.8,87.67 L49.8,92.14 L50.8,93.03 L51.8,93.47 L52.8,93.76 L53.8,93.98 L54.8,94.24 L55.8,94.56 L56.8,94.88 L57.8,95.18 L58.8,95.48 L59.8,95.75 L60.8,96.01 L61.8,96.27 L62.8,96.53 L63.8,96.79 L64.8,97.05 L65.8,97.30 L66.8,97.53 L67.8,97.76 L68.8,97.97 L69.8,98.15 L70.8,98.32 L71.8,98.46 L72.8,98.58 L73.8,98.67 L74.8,98.75 L75.8,98.83 L76.8,98.89 L77.8,98.95 L78.8,99.00 L79.8,99.05 L80.8,99.10 L81.8,99.14 L82.8,99.19 L83.8,99.24 L84.8,99.29 L85.8,99.35 L86.8,99.41 L87.8,99.48 L88.8,99.57 L89.8,99.67 L90.8,99.78 L91.8,99.90 L92.8,100.03 L93.8,100.16 L94.8,100.29 L95.8,100.42 L96.8,100.53 L97.8,100.63 L98.8,100.72 L99.8,100.79 L100.8,100.84 L101.8,100.89 L102.8,100.94 L103.8,100.99 L104.8,101.04 L105.8,101.08 L106.8,101.12 L107.8,101.16 L108.8,101.19 L109.8,101.22 L110.8,101.25 L111.8,101.27 L112.8,101.29 L113.8,101.30 L114.8,101.30 L115.8,101.30 L116.8,101.30 L117.8,101.30 L118.8,101.30 L119.8,101.30 L120.8,101.30 L121.8,101.30 L122.8,101.30 L123.8,101.30 L124.8,101.30 L125.8,101.30 L126.8,101.30 L127.8,101.30 L128.8,101.30 L129.8,101.30 L130.8,101.30 L131.8,101.30 L132.8,101.29 L133.8,101.29 L134.8,101.29 L135.8,101.28 L136.8,101.27 L137.8,101.27 L138.8,101.26 L139.8,101.25 L140.8,101.24 L141.8,101.24 L142.8,101.23 L143.8,101.22 L144.8,101.22 L145.8,101.21 L146.8,101.21 L147.8,101.20 L148.8,101.20 L149.8,101.20 L150.8,101.20 L151.8,101.20 L152.8,101.20 L153.8,101.20 L154.8,101.20 L155.8,101.20 L156.8,101.20 L157.8,101.20 L158.8,101.20 L159.8,101.20 L160.8,101.20 L161.8,101.20 L162.8,101.20 L163.8,101.20 L164.8,101.20 L165.8,101.20 L166.8,101.20 L167.8,101.20 L168.8,101.20 L169.8,101.20 L170.8,101.20 L171.8,101.20 L172.8,101.20 L173.8,101.20 L174.8,101.20 L175.8,101.20 L176.8,101.20 L177.8,101.20 L178.8,101.20 L179.8,101.20 L180.8,101.20 L181.8,101.20 L182.8,101.20 L183.8,101.20 L184.8,101.20 L185.8,101.20 L186.8,101.20 L187.8,101.20 L188.8,101.20 L189.8,101.20 L190.8,101.20 L191.8,101.20 L192.8,101.20 L193.8,101.20 L194.8,101.20 L195.8,101.20 L196.8,101.20 L197.8,101.20 L198.8,101.20 L199.8,101.20 L200.8,101.20 L201.8,101.20 L202.8,101.20 L203.8,101.20 L204.8,101.20 L205.8,101.20 L206.8,101.20 L207.8,101.20 L208.8,101.20 L209.8,101.20 L210.8,101.20 L211.8,101.19 L212.8,101.17 L213.8,101.14 L214.8,101.11 L215.8,101.08 L216.8,101.07 L217.8,101.05 L218.8,101.01 L219.8,100.82 L220.8,99.86 L221.8,85.63 L222.8,83.20 L223.8,83.20 L224.8,83.20 L225.8,83.20 L226.8,83.20 L227.8,83.20 L228.8,83.20 L229.8,83.20 L230.8,83.20 L231.8,83.20 L232.8,83.20 L233.8,83.20 L234.8,83.20 L234.8,107.3 Z" fill="#a0ff00"/>
<path d="M31.8,107.3 L31.8,83.10 L32.8,83.10 L33.8,83.10 L34.8,83.10 L35.8,83.10 L36.8,83.10 L37.8,83.10 L38.8,83.10 L39.8,83.10 L40.8,83.10 L41.8,83.10 L42.8,83.10 L43.8,83.10 L44.8,83.10 L45.8,83.10 L46.8,84.57 L47.8,87.37 L48.8,92.71 L49.8,95.41 L50.8,95.95 L51.8,96.25 L52.8,96.44 L53.8,96.59 L54.8,96.76 L55.8,96.97 L56.8,97.18 L57.8,97.38 L58.8,97.57 L59.8,97.76 L60.8,97.95 L61.8,98.15 L62.8,98.34 L63.8,98.54 L64.8,98.74 L65.8,98.94 L66.8,99.12 L67.8,99.30 L68.8,99.47 L69.8,99.63 L70.8,99.77 L71.8,99.88 L72.8,99.98 L73.8,100.06 L74.8,100.13 L75.8,100.20 L76.8,100.26 L77.8,100.31 L78.8,100.36 L79.8,100.41 L80.8,100.45 L81.8,100.49 L82.8,100.54 L83.8,100.58 L84.8,100.63 L85.8,100.68 L86.8,100.73 L87.8,100.79 L88.8,100.86 L89.8,100.94 L90.8,101.03 L91.8,101.12 L92.8,101.23 L93.8,101.32 L94.8,101.42 L95.8,101.51 L96.8,101.58 L97.8,101.64 L98.8,101.68 L99.8,101.70 L100.8,101.70 L101.8,101.70 L102.8,101.70 L103.8,101.70 L104.8,101.70 L105.8,101.70 L106.8,101.70 L107.8,101.70 L108.8,101.70 L109.8,101.70 L110.8,101.70 L111.8,101.70 L112.8,101.70 L113.8,101.70 L114.8,101.70 L115.8,101.70 L116.8,101.70 L117.8,101.70 L118.8,101.70 L119.8,101.70 L120.8,101.70 L121.8,101.70 L122.8,101.70 L123.8,101.70 L124.8,101.70 L125.8,101.70 L126.8,101.70 L127.8,101.70 L128.8,101.70 L129.8,101.70 L130.8,101.70 L131.8,101.70 L132.8,101.70 L133.8,101.70 L134.8,101.70 L135.8,101.70 L136.8,101.70 L137.8,101.70 L138.8,101.70 L139.8,101.70 L140.8,101.70 L141.8,101.70 L142.8,101.70 L143.8,101.70 L144.8,101.70 L145.8,101.70 L146.8,101.70 L147.8,101.70 L148.8,101.70 L149.8,101.70 L150.8,101.70 L151.8,101.70 L152.8,101.70 L153.8,101.70 L154.8,101.70 L155.8,101.70 L156.8,101.70 L157.8,101.70 L158.8,101.70 L159.8,101.70 L160.8,101.70 L161.8,101.70 L162.8,101.70 L163.8,101.70 L164.8,101.70 L165.8,101.70 L166.8,101.70 L167.8,101.70 L168.8,101.70 L169.8,101.70 L170.8,101.70 L171.8,101.70 L172.8,101.70 L173.8,101.70 L174.8,101.70 L175.8,101.70 L176.8,101.70 L177.8,101.70 L178.8,101.70 L179.8,101.70 L180.8,101.70 L181.8,101.70 L182.8,101.70 L183.8,101.70 L184.8,101.70 L185.8,101.70 L186.8,101.70 L187.8,101.70 L188.8,101.70 L189.8,101.70 L190.8,101.70 L191.8,101.70 L192.8,101.70 L193.8,101.70 L194.8,101.70 L195.8,101.70 L196.8,101.70 L197.8,101.70 L198.8,101.70 L199.8,101.70 L200.8,101.70 L201.8,101.70 L202.8,101.70 L203.8,101.70 L204.8,101.70 L205.8,101.70 L206.8,101.70 L207.8,101.70 L208.8,101.70 L209.8,101.70 L210.8,101.70 L211.8,101.70 L212.8,101.70 L213.8,101.70 L214.8,101.70 L215.8,101.70 L216.8,101.70 L217.8,101.70 L218.8,101.70 L219.8,101.61 L220.8,101.34 L221.8,86.72 L222.8,83.25 L223.8,83.25 L224.8,83.25 L225.8,83.25 L226.8,83.25 L227.8,83.25 L228.8,83.25 L229.8,83.25 L230.8,83.25 L231.8,83.25 L232.8,83.25 L233.8,83.25 L234.8,83.25 L234.8,107.3 Z" fill="#d8ff00"/>
<path d="M31.8,107.3 L31.8,83.20 L32.8,83.20 L33.8,83.20 L34.8,83.20 L35.8,83.20 L36.8,83.20 L37.8,83.20 L38.8,83.20 L39.8,83.20 L40.8,83.20 L41.8,83.20 L42.8,83.20 L43.8,83.20 L44.8,83.20 L45.8,83.20 L46.8,86.41 L47.8,96.91 L48.8,97.96 L49.8,98.53 L50.8,98.80 L51.8,98.98 L52.8,99.12 L53.8,99.24 L54.8,99.37 L55.8,99.52 L56.8,99.67 L57.8,99.81 L58.8,99.95 L59.8,100.08 L60.8,100.19 L61.8,100.31 L62.8,100.42 L63.8,100.53 L64.8,100.63 L65.8,100.74 L66.8,100.83 L67.8,100.93 L68.8,101.02 L69.8,101.10 L70.8,101.17 L71.8,101.23 L72.8,101.29 L73.8,101.34 L74.8,101.38 L75.8,101.42 L76.8,101.46 L77.8,101.50 L78.8,101.53 L79.8,101.56 L80.8,101.59 L81.8,101.62 L82.8,101.65 L83.8,101.67 L84.8,101.70 L85.8,101.73 L86.8,101.76 L87.8,101.79 L88.8,101.83 L89.8,101.87 L90.8,101.91 L91.8,101.95 L92.8,102.00 L93.8,102.04 L94.8,102.08 L95.8,102.12 L96.8,102.15 L97.8,102.18 L98.8,102.19 L99.8,102.20 L100.8,102.20 L101.8,102.20 L102.8,102.20 L103.8,102.20 L104.8,102.20 L105.8,102.20 L106.8,102.20 L107.8,102.20 L108.8,102.20 L109.8,102.20 L110.8,102.20 L111.8,102.20 L112.8,102.20 L113.8,102.20 L114.8,102.20 L115.8,102.20 L116.8,102.20 L117.8,102.20 L118.8,102.20 L119.8,102.20 L120.8,102.20 L121.8,102.20 L122.8,102.20 L123.8,102.20 L124.8,102.20 L125.8,102.20 L126.8,102.20 L127.8,102.20 L128.8,102.20 L129.8,102.20 L130.8,102.20 L131.8,102.20 L132.8,102.20 L133.8,102.20 L134.8,102.20 L135.8,102.20 L136.8,102.20 L137.8,102.20 L138.8,102.20 L139.8,102.20 L140.8,102.20 L141.8,102.20 L142.8,102.20 L143.8,102.20 L144.8,102.20 L145.8,102.20 L146.8,102.20 L147.8,102.20 L148.8,102.20 L149.8,102.20 L150.8,102.20 L151.8,102.20 L152.8,102.20 L153.8,102.20 L154.8,102.20 L155.8,102.20 L156.8,102.20 L157.8,102.20 L158.8,102.20 L159.8,102.20 L160.8,102.20 L161.8,102.20 L162.8,102.20 L163.8,102.20 L164.8,102.20 L165.8,102.20 L166.8,102.20 L167.8,102.20 L168.8,102.20 L169.8,102.20 L170.8,102.20 L171.8,102.20 L172.8,102.20 L173.8,102.20 L174.8,102.20 L175.8,102.20 L176.8,102.20 L177.8,102.20 L178.8,102.20 L179.8,102.20 L180.8,102.20 L181.8,102.20 L182.8,102.20 L183.8,102.20 L184.8,102.20 L185.8,102.20 L186.8,102.20 L187.8,102.20 L188.8,102.20 L189.8,102.20 L190.8,102.20 L191.8,102.20 L192.8,102.20 L193.8,102.20 L194.8,102.20 L195.8,102.20 L196.8,102.20 L197.8,102.20 L198.8,102.20 L199.8,102.20 L200.8,102.20 L201.8,102.20 L202.8,102.20 L203.8,102.20 L204.8,102.20 L205.8,102.20 L206.8,102.20 L207.8,102.20 L208.8,102.20 L209.8,102.20 L210.8,102.20 L211.8,102.20 L212.8,102.20 L213.8,102.20 L214.8,102.20 L215.8,102.20 L216.8,102.20 L217.8,102.20 L218.8,102.20 L219.8,102.17 L220.8,102.08 L221.8,87.00 L222.8,83.30 L223.8,83.30 L224.8,83.30 L225.8,83.30 L226.8,83.30 L227.8,83.30 L228.8,83.30 L229.8,83.30 L230.8,83.30 L231.8,83.30 L232.8,83.30 L233.8,83.30 L234.8,83.30 L234.8,107.3 Z" fill="#ffe800"/>
<path d="M31.8,107.3 L31.8,83.30 L32.8,83.30 L33.8,83.30 L34.8,83.30 L35.8,83.30 L36.8,83.30 L37.8,83.30 L38.8,83.30 L39.8,83.30 L40.8,83.30 L41.8,83.30 L42.8,83.30 L43.8,83.30 L44.8,83.30 L45.8,83.30 L46.8,98.16 L47.8,99.71 L48.8,100.40 L49.8,100.76 L50.8,100.94 L51.8,101.08 L52.8,101.19 L53.8,101.29 L54.8,101.38 L55.8,101.48 L56.8,101.57 L57.8,101.65 L58.8,101.72 L59.8,101.79 L60.8,101.84 L61.8,101.89 L62.8,101.94 L63.8,101.99 L64.8,102.03 L65.8,102.07 L66.8,102.11 L67.8,102.14 L68.8,102.18 L69.8,102.21 L70.8,102.24 L71.8,102.27 L72.8,102.29 L73.8,102.32 L74.8,102.35 L75.8,102.37 L76.8,102.40 L77.8,102.42 L78.8,102.44 L79.8,102.46 L80.8,102.48 L81.8,102.50 L82.8,102.52 L83.8,102.54 L84.8,102.56 L85.8,102.57 L86.8,102.59 L87.8,102.60 L88.8,102.61 L89.8,102.62 L90.8,102.63 L91.8,102.64 L92.8,102.66 L93.8,102.67 L94.8,102.67 L95.8,102.68 L96.8,102.69 L97.8,102.69 L98.8,102.70 L99.8,102.70 L100.8,102.70 L101.8,102.70 L102.8,102.70 L103.8,102.70 L104.8,102.70 L105.8,102.70 L106.8,102.70 L107.8,102.70 L108.8,102.70 L109.8,102.70 L110.8,102.70 L111.8,102.70 L112.8,102.70 L113.8,102.70 L114.8,102.70 L115.8,102.70 L116.8,102.70 L117.8,102.70 L118.8,102.70 L119.8,102.70 L120.8,102.70 L121.8,102.70 L122.8,102.70 L123.8,102.70 L124.8,102.70 L125.8,102.70 L126.8,102.70 L127.8,102.70 L128.8,102.70 L129.8,102.70 L130.8,102.70 L131.8,102.70 L132.8,102.70 L133.8,102.70 L134.8,102.70 L135.8,102.70 L136.8,102.70 L137.8,102.70 L138.8,102.70 L139.8,102.70 L140.8,102.70 L141.8,102.70 L142.8,102.70 L143.8,102.70 L144.8,102.70 L145.8,102.70 L146.8,102.70 L147.8,102.70 L148.8,102.70 L149.8,102.70 L150.8,102.70 L151.8,102.70 L152.8,102.70 L153.8,102.70 L154.8,102.70 L155.8,102.70 L156.8,102.70 L157.8,102.70 L158.8,102.70 L159.8,102.70 L160.8,102.70 L161.8,102.70 L162.8,102.70 L163.8,102.70 L164.8,102.70 L165.8,102.70 L166.8,102.70 L167.8,102.70 L168.8,102.70 L169.8,102.70 L170.8,102.70 L171.8,102.70 L172.8,102.70 L173.8,102.70 L174.8,102.70 L175.8,102.70 L176.8,102.70 L177.8,102.70 L178.8,102.70 L179.8,102.70 L180.8,102.70 L181.8,102.70 L182.8,102.70 L183.8,102.70 L184.8,102.70 L185.8,102.70 L186.8,102.70 L187.8,102.70 L188.8,102.70 L189.8,102.70 L190.8,102.70 L191.8,102.70 L192.8,102.70 L193.8,102.70 L194.8,102.70 L195.8,102.70 L196.8,102.70 L197.8,102.70 L198.8,102.70 L199.8,102.70 L200.8,102.70 L201.8,102.70 L202.8,102.70 L203.8,102.70 L204.8,102.70 L205.8,102.70 L206.8,102.70 L207.8,102.70 L208.8,102.70 L209.8,102.70 L210.8,102.70 L211.8,102.70 L212.8,102.70 L213.8,102.70 L214.8,102.70 L215.8,102.70 L216.8,102.70 L217.8,102.70 L218.8,102.70 L219.8,102.70 L220.8,102.70 L221.8,87.23 L222.8,83.40 L223.8,83.40 L224.8,83.40 L225.8,83.40 L226.8,83.40 L227.8,83.40 L228.8,83.40 L229.8,83.40 L230.8,83.40 L231.8,83.40 L232.8,83.40 L233.8,83.40 L234.8,83.40 L234.8,107.3 Z" fill="#ffb000"/>
<path d="M31.8,107.3 L31.8,83.40 L32.8,83.40 L33.8,83.40 L34.8,83.40 L35.8,83.40 L36.8,83.40 L37.8,83.40 L38.8,83.40 L39.8,83.40 L40.8,83.40 L41.8,83.40 L42.8,83.40 L43.8,83.40 L44.8,83.40 L45.8,83.40 L46.8,99.94 L47.8,100.93 L48.8,101.36 L49.8,101.57 L50.8,101.69 L51.8,101.78 L52.8,101.86 L53.8,101.92 L54.8,101.99 L55.8,102.05 L56.8,102.12 L57.8,102.18 L58.8,102.24 L59.8,102.29 L60.8,102.34 L61.8,102.39 L62.8,102.43 L63.8,102.47 L64.8,102.52 L65.8,102.56 L66.8,102.60 L67.8,102.63 L68.8,102.67 L69.8,102.70 L70.8,102.74 L71.8,102.77 L72.8,102.79 L73.8,102.82 L74.8,102.85 L75.8,102.87 L76.8,102.90 L77.8,102.92 L78.8,102.94 L79.8,102.96 L80.8,102.98 L81.8,103.00 L82.8,103.02 L83.8,103.04 L84.8,103.06 L85.8,103.07 L86.8,103.09 L87.8,103.10 L88.8,103.11 L89.8,103.12 L90.8,103.13 L91.8,103.14 L92.8,103.16 L93.8,103.17 L94.8,103.17 L95.8,103.18 L96.8,103.19 L97.8,103.19 L98.8,103.20 L99.8,103.20 L100.8,103.20 L101.8,103.20 L102.8,103.20 L103.8,103.20 L104.8,103.20 L105.8,103.20 L106.8,103.20 L107.8,103.20 L108.8,103.20 L109.8,103.20 L110.8,103.20 L111.8,103.20 L112.8,103.20 L113.8,103.20 L114.8,103.20 L115.8,103.20 L116.8,103.20 L117.8,103.20 L118.8,103.20 L119.8,103.20 L120.8,103.20 L121.8,103.20 L122.8,103.20 L123.8,103.20 L124.8,103.20 L125.8,103.20 L126.8,103.20 L127.8,103.20 L128.8,103.20 L129.8,103.20 L130.8,103.20 L131.8,103.20 L132.8,103.20 L133.8,103.20 L134.8,103.20 L135.8,103.20 L136.8,103.20 L137.8,103.20 L138.8,103.20 L139.8,103.20 L140.8,103.20 L141.8,103.20 L142.8,103.20 L143.8,103.20 L144.8,103.20 L145.8,103.20 L146.8,103.20 L147.8,103.20 L148.8,103.20 L149.8,103.20 L150.8,103.20 L151.8,103.20 L152.8,103.20 L153.8,103.20 L154.8,103.20 L155.8,103.20 L156.8,103.20 L157.8,103.20 L158.8,103.20 L159.8,103.20 L160.8,103.20 L161.8,103.20 L162.8,103.20 L163.8,103.20 L164.8,103.20 L165.8,103.20 L166.8,103.20 L167.8,103.20 L168.8,103.20 L169.8,103.20 L170.8,103.20 L171.8,103.20 L172.8,103.20 L173.8,103.20 L174.8,103.20 L175.8,103.20 L176.8,103.20 L177.8,103.20 L178.8,103.20 L179.8,103.20 L180.8,103.20 L181.8,103.20 L182.8,103.20 L183.8,103.20 L184.8,103.20 L185.8,103.20 L186.8,103.20 L187.8,103.20 L188.8,103.20 L189.8,103.20 L190.8,103.20 L191.8,103.20 L192.8,103.20 L193.8,103.20 L194.8,103.20 L195.8,103.20 L196.8,103.20 L197.8,103.20 L198.8,103.20 L199.8,103.20 L200.8,103.20 L201.8,103.20 L202.8,103.20 L203.8,103.20 L204.8,103.20 L205.8,103.20 L206.8,103.20 L207.8,103.20 L208.8,103.20 L209.8,103.20 L210.8,103.20 L211.8,103.20 L212.8,103.20 L213.8,103.20 L214.8,103.20 L215.8,103.20 L216.8,103.20 L217.8,103.20 L218.8,103.20 L219.8,103.20 L220.8,103.20 L221.8,87.41 L222.8,83.50 L223.8,83.50 L224.8,83.50 L225.8,83.50 L226.8,83.50 L227.8,83.50 L228.8,83.50 L229.8,83.50 L230.8,83.50 L231.8,83.50 L232.8,83.50 L233.8,83.50 L234.8,83.50 L234.8,107.3 Z" fill="#ff7000"/>
<path d="M31.8,107.3 L31.8,83.50 L32.8,83.50 L33.8,83.50 L34.8,83.50 L35.8,83.50 L36.8,83.50 L37.8,83.50 L38.8,83.50 L39.8,83.50 L40.8,83.50 L41.8,83.50 L42.8,83.50 L43.8,83.50 L44.8,83.50 L45.8,83.50 L46.8,101.28 L47.8,101.88 L48.8,102.12 L49.8,102.19 L50.8,102.25 L51.8,102.32 L52.8,102.38 L53.8,102.44 L54.8,102.49 L55.8,102.54 L56.8,102.58 L57.8,102.62 L58.8,102.66 L59.8,102.69 L60.8,102.73 L61.8,102.76 L62.8,102.80 L63.8,102.84 L64.8,102.87 L65.8,102.90 L66.8,102.94 L67.8,102.97 L68.8,103.00 L69.8,103.03 L70.8,103.05 L71.8,103.08 L72.8,103.10 L73.8,103.11 L74.8,103.13 L75.8,103.15 L76.8,103.16 L77.8,103.18 L78.8,103.19 L79.8,103.21 L80.8,103.22 L81.8,103.23 L82.8,103.24 L83.8,103.26 L84.8,103.27 L85.8,103.28 L86.8,103.29 L87.8,103.30 L88.8,103.31 L89.8,103.32 L90.8,103.33 L91.8,103.34 L92.8,103.35 L93.8,103.36 L94.8,103.37 L95.8,103.38 L96.8,103.39 L97.8,103.39 L98.8,103.40 L99.8,103.40 L100.8,103.40 L101.8,103.40 L102.8,103.40 L103.8,103.40 L104.8,103.40 L105.8,103.40 L106.8,103.40 L107.8,103.40 L108.8,103.40 L109.8,103.40 L110.8,103.40 L111.8,103.40 L112.8,103.40 L113.8,103.40 L114.8,103.40 L115.8,103.40 L116.8,103.40 L117.8,103.40 L118.8,103.40 L119.8,103.40 L120.8,103.40 L121.8,103.40 L122.8,103.40 L123.8,103.40 L124.8,103.40 L125.8,103.40 L126.8,103.40 L127.8,103.40 L128.8,103.40 L129.8,103.40 L130.8,103.40 L131.8,103.40 L132.8,103.40 L133.8,103.40 L134.8,103.40 L135.8,103.40 L136.8,103.40 L137.8,103.40 L138.8,103.40 L139.8,103.40 L140.8,103.40 L141.8,103.40 L142.8,103.40 L143.8,103.40 L144.8,103.40 L145.8,103.40 L146.8,103.40 L147.8,103.40 L148.8,103.40 L149.8,103.40 L150.8,103.40 L151.8,103.40 L152.8,103.40 L153.8,103.40 L154.8,103.40 L155.8,103.40 L156.8,103.40 L157.8,103.40 L158.8,103.40 L159.8,103.40 L160.8,103.40 L161.8,103.40 L162.8,103.40 L163.8,103.40 L164.8,103.40 L165.8,103.40 L166.8,103.40 L167.8,103.40 L168.8,103.40 L169.8,103.40 L170.8,103.40 L171.8,103.40 L172.8,103.40 L173.8,103.40 L174.8,103.40 L175.8,103.40 L176.8,103.40 L177.8,103.40 L178.8,103.40 L179.8,103.40 L180.8,103.40 L181.8,103.40 L182.8,103.40 L183.8,103.40 L184.8,103.40 L185.8,103.40 L186.8,103.40 L187.8,103.40 L188.8,103.40 L189.8,103.40 L190.8,103.40 L191.8,103.40 L192.8,103.40 L193.8,103.40 L194.8,103.40 L195.8,103.40 L196.8,103.40 L197.8,103.40 L198.8,103.40 L199.8,103.40 L200.8,103.40 L201.8,103.40 L202.8,103.40 L203.8,103.40 L204.8,103.40 L205.8,103.40 L206.8,103.40 L207.8,103.40 L208.8,103.40 L209.8,103.40 L210.8,103.40 L211.8,103.40 L212.8,103.40 L213.8,103.40 L214.8,103.40 L215.8,103.40 L216.8,103.40 L217.8,103.40 L218.8,103.40 L219.8,103.40 L220.8,103.40 L221.8,87.53 L222.8,83.60 L223.8,83.60 L224.8,83.60 L225.8,83.60 L226.8,83.60 L227.8,83.60 L228.8,83.60 L229.8,83.60 L230.8,83.60 L231.8,83.60 L232.8,83.60 L233.8,83.60 L234.8,83.60 L234.8,107.3 Z" fill="#ff3000"/>
<path d="M31.8,107.3 L31.8,83.60 L32.8,83.60 L33.8,83.60 L34.8,83.60 L35.8,83.60 L36.8,83.60 L37.8,83.60 L38.8,83.60 L39.8,83.60 L40.8,83.60 L41.8,83.60 L42.8,83.60 L43.8,83.60 L44.8,83.60 L45.8,83.60 L46.8,102.34 L47.8,102.64 L48.8,102.76 L49.8,102.79 L50.8,102.82 L51.8,102.84 L52.8,102.86 L53.8,102.88 L54.8,102.90 L55.8,102.92 L56.8,102.93 L57.8,102.95 L58.8,102.97 L59.8,103.00 L60.8,103.02 L61.8,103.05 L62.8,103.08 L63.8,103.12 L64.8,103.16 L65.8,103.19 L66.8,103.23 L67.8,103.27 L68.8,103.30 L69.8,103.33 L70.8,103.36 L71.8,103.38 L72.8,103.40 L73.8,103.41 L74.8,103.42 L75.8,103.43 L76.8,103.43 L77.8,103.44 L78.8,103.45 L79.8,103.45 L80.8,103.46 L81.8,103.46 L82.8,103.47 L83.8,103.47 L84.8,103.48 L85.8,103.49 L86.8,103.49 L87.8,103.50 L88.8,103.51 L89.8,103.52 L90.8,103.53 L91.8,103.54 L92.8,103.55 L93.8,103.56 L94.8,103.57 L95.8,103.58 L96.8,103.59 L97.8,103.59 L98.8,103.60 L99.8,103.60 L100.8,103.60 L101.8,103.60 L102.8,103.60 L103.8,103.60 L104.8,103.60 L105.8,103.60 L106.8,103.60 L107.8,103.60 L108.8,103.60 L109.8,103.60 L110.8,103.60 L111.8,103.60 L112.8,103.60 L113.8,103.60 L114.8,103.60 L115.8,103.60 L116.8,103.60 L117.8,103.60 L118.8,103.60 L119.8,103.60 L120.8,103.60 L121.8,103.60 L122.8,103.60 L123.8,103.60 L124.8,103.60 L125.8,103.60 L126.8,103.60 L127.8,103.60 L128.8,103.60 L129.8,103.60 L130.8,103.60 L131.8,103.60 L132.8,103.60 L133.8,103.60 L134.8,103.60 L135.8,103.60 L136.8,103.60 L137.8,103.60 L138.8,103.60 L139.8,103.60 L140.8,103.60 L141.8,103.60 L142.8,103.60 L143.8,103.60 L144.8,103.60 L145.8,103.60 L146.8,103.60 L147.8,103.60 L148.8,103.60 L149.8,103.60 L150.8,103.60 L151.8,103.60 L152.8,103.60 L153.8,103.60 L154.8,103.60 L155.8,103.60 L156.8,103.60 L157.8,103.60 L158.8,103.60 L159.8,103.60 L160.8,103.60 L161.8,103.60 L162.8,103.60 L163.8,103.60 L164.8,103.60 L165.8,103.60 L166.8,103.60 L167.8,103.60 L168.8,103.60 L169.8,103.60 L170.8,103.60 L171.8,103.60 L172.8,103.60 L173.8,103.60 L174.8,103.60 L175.8,103.60 L176.8,103.60 L177.8,103.60 L178.8,103.60 L179.8,103.60 L180.8,103.60 L181.8,103.60 L182.8,103.60 L183.8,103.60 L184.8,103.60 L185.8,103.60 L186.8,103.60 L187.8,103.60 L188.8,103.60 L189.8,103.60 L190.8,103.60 L191.8,103.60 L192.8,103.60 L193.8,103.60 L194.8,103.60 L195.8,103.60 L196.8,103.60 L197.8,103.60 L198.8,103.60 L199.8,103.60 L200.8,103.60 L201.8,103.60 L202.8,103.60 L203.8,103.60 L204.8,103.60 L205.8,103.60 L206.8,103.60 L207.8,103.60 L208.8,103.60 L209.8,103.60 L210.8,103.60 L211.8,103.60 L212.8,103.60 L213.8,103.60 L214.8,103.60 L215.8,103.60 L216.8,103.60 L217.8,103.60 L218.8,103.60 L219.8,103.60 L220.8,103.60 L221.8,87.65 L222.8,83.70 L223.8,83.70 L224.8,83.70 L225.8,83.70 L226.8,83.70 L227.8,83.70 L228.8,83.70 L229.8,83.70 L230.8,83.70 L231.8,83.70 L232.8,83.70 L233.8,83.70 L234.8,83.70 L234.8,107.3 Z" fill="#ff0000"/>
<rect x="31.8" y="83.7" width="14.0" height="23.6" fill="#ff0000"/>
<rect x="221.8" y="83.8" width="13.0" height="23.6" fill="#ff0000"/>
</g></g>
<rect x="34.8" y="103.1" width="197.0" height="0.8" fill="#3a0c00"/>
<rect x="44.60" y="100.50" width="0.8" height="3.0" fill="#111"/><text x="45.00" y="110.60" font-size="8.00" text-anchor="middle"  >0</text><rect x="64.20" y="100.50" width="0.8" height="3.0" fill="#111"/><text x="64.60" y="110.60" font-size="8.00" text-anchor="middle"  >1</text><rect x="83.80" y="100.50" width="0.8" height="3.0" fill="#111"/><text x="84.20" y="110.60" font-size="8.00" text-anchor="middle"  >2</text><rect x="103.40" y="100.50" width="0.8" height="3.0" fill="#111"/><text x="103.80" y="110.60" font-size="8.00" text-anchor="middle"  >3</text><rect x="123.00" y="100.50" width="0.8" height="3.0" fill="#111"/><text x="123.40" y="110.60" font-size="8.00" text-anchor="middle"  >4</text><rect x="142.60" y="100.50" width="0.8" height="3.0" fill="#111"/><text x="143.00" y="110.60" font-size="8.00" text-anchor="middle"  >5</text><rect x="162.20" y="100.50" width="0.8" height="3.0" fill="#111"/><text x="162.60" y="110.60" font-size="8.00" text-anchor="middle"  >6</text><rect x="181.80" y="100.50" width="0.8" height="3.0" fill="#111"/><text x="182.20" y="110.60" font-size="8.00" text-anchor="middle"  >7</text><rect x="201.40" y="100.50" width="0.8" height="3.0" fill="#111"/><text x="201.80" y="110.60" font-size="8.00" text-anchor="middle"  >8</text><rect x="221.00" y="100.50" width="0.8" height="3.0" fill="#111"/><text x="221.40" y="110.60" font-size="8.00" text-anchor="middle"  >9</text><rect x="34.80" y="102.90" width="2.2" height="0.8" fill="#222"/><text x="32.40" y="105.36" font-size="8.00" text-anchor="end"  >0</text><rect x="34.80" y="83.35" width="2.2" height="0.8" fill="#222"/><text x="32.40" y="85.76" font-size="8.00" text-anchor="end"  >1</text><rect x="34.80" y="63.80" width="2.2" height="0.8" fill="#222"/><text x="32.40" y="67.96" font-size="8.00" text-anchor="end"  >2</text><rect x="34.80" y="44.25" width="2.2" height="0.8" fill="#222"/><text x="32.40" y="48.86" font-size="8.00" text-anchor="end"  >3</text>
<text x="130.70" y="120.80" font-size="10.50" text-anchor="middle" font-style="italic" >x/e</text>
<text transform="translate(23.2,72.2) rotate(-90)" font-size="10.5" text-anchor="middle" font-style="italic">y/e</text>
<text x="231.30" y="36.70" font-size="9.40" text-anchor="end"  >Isothermal wall</text>
<rect x="237.40" y="50.10" width="5.30" height="2.42" fill="#ff0000"/><rect x="237.40" y="52.22" width="5.30" height="2.42" fill="#ff3000"/><rect x="237.40" y="54.35" width="5.30" height="2.42" fill="#ff6100"/><rect x="237.40" y="56.47" width="5.30" height="2.42" fill="#ff9100"/><rect x="237.40" y="58.59" width="5.30" height="2.42" fill="#ffc200"/><rect x="237.40" y="60.71" width="5.30" height="2.42" fill="#fff200"/><rect x="237.40" y="62.84" width="5.30" height="2.42" fill="#daff00"/><rect x="237.40" y="64.96" width="5.30" height="2.42" fill="#aaff00"/><rect x="237.40" y="67.08" width="5.30" height="2.42" fill="#79ff00"/><rect x="237.40" y="69.20" width="5.30" height="2.42" fill="#48ff00"/><rect x="237.40" y="71.33" width="5.30" height="2.42" fill="#18ff00"/><rect x="237.40" y="73.45" width="5.30" height="2.42" fill="#00ff18"/><rect x="237.40" y="75.57" width="5.30" height="2.42" fill="#00ff48"/><rect x="237.40" y="77.70" width="5.30" height="2.42" fill="#00ff79"/><rect x="237.40" y="79.82" width="5.30" height="2.42" fill="#00ffa9"/><rect x="237.40" y="81.94" width="5.30" height="2.42" fill="#00ffda"/><rect x="237.40" y="84.06" width="5.30" height="2.42" fill="#00f2ff"/><rect x="237.40" y="86.19" width="5.30" height="2.42" fill="#00c2ff"/><rect x="237.40" y="88.31" width="5.30" height="2.42" fill="#0091ff"/><rect x="237.40" y="90.43" width="5.30" height="2.42" fill="#0061ff"/><rect x="237.40" y="92.55" width="5.30" height="2.42" fill="#0030ff"/><rect x="237.40" y="94.68" width="5.30" height="2.42" fill="#0000ff"/>
<text x="244.20" y="54.70" font-size="7.10" text-anchor="start"  >0.95</text>
<text x="242.40" y="97.20" font-size="7.10" text-anchor="start"  >-0.05</text>
<text transform="translate(249.60,46.40) skewX(-14) scale(0.92,1)" font-size="11.00" text-anchor="middle" font-style="italic" font-family="'Liberation Serif', serif">Θ</text>
<text x="3.40" y="23.30" font-size="13.70" text-anchor="start"  >(a)</text>
<clipPath id="cpa2"><rect x="33.8" y="151.7" width="197.4" height="122.8"/></clipPath>
<g clip-path="url(#cpa2)"><g filter="url(#bl)">
<rect x="30.8" y="148.7" width="203.4" height="128.3" fill="#0a2cf5"/>
<path d="M30.8,214.8 L30.8,160.59 L31.3,160.51 L31.8,160.43 L32.3,160.35 L32.8,160.28 L33.3,160.20 L33.8,160.13 L34.3,160.06 L34.8,159.98 L35.3,159.91 L35.8,159.84 L36.3,159.77 L36.8,159.70 L37.3,159.63 L37.8,159.56 L38.3,159.50 L38.8,159.43 L39.3,159.37 L39.8,159.30 L40.3,159.24 L40.8,159.18 L41.3,159.11 L41.8,159.05 L42.3,158.99 L42.8,158.93 L43.3,158.88 L43.8,158.82 L44.3,158.76 L44.8,158.71 L45.3,158.65 L45.8,158.60 L46.3,158.54 L46.8,158.49 L47.3,158.44 L47.8,158.39 L48.3,158.34 L48.8,158.29 L49.3,158.25 L49.8,158.20 L50.3,158.16 L50.8,158.11 L51.3,158.07 L51.8,158.03 L52.3,157.99 L52.8,157.95 L53.3,157.91 L53.8,157.87 L54.3,157.83 L54.8,157.79 L55.3,157.76 L55.8,157.72 L56.3,157.69 L56.8,157.66 L57.3,157.63 L57.8,157.60 L58.3,157.57 L58.8,157.54 L59.3,157.51 L59.8,157.49 L60.3,157.46 L60.8,157.44 L61.3,157.42 L61.8,157.40 L62.3,157.38 L62.8,157.36 L63.3,157.34 L63.8,157.32 L64.3,157.30 L64.8,157.29 L65.3,157.28 L65.8,157.26 L66.3,157.25 L66.8,157.24 L67.3,157.23 L67.8,157.22 L68.3,157.22 L68.8,157.21 L69.3,157.21 L69.8,157.20 L70.3,157.20 L70.8,157.20 L71.3,157.20 L71.8,157.20 L72.3,157.21 L72.8,157.21 L73.3,157.22 L73.8,157.22 L74.3,157.23 L74.8,157.24 L75.3,157.25 L75.8,157.27 L76.3,157.28 L76.8,157.30 L77.3,157.31 L77.8,157.33 L78.3,157.35 L78.8,157.37 L79.3,157.39 L79.8,157.41 L80.3,157.43 L80.8,157.46 L81.3,157.48 L81.8,157.51 L82.3,157.53 L82.8,157.56 L83.3,157.59 L83.8,157.61 L84.3,157.64 L84.8,157.67 L85.3,157.70 L85.8,157.73 L86.3,157.76 L86.8,157.79 L87.3,157.83 L87.8,157.86 L88.3,157.89 L88.8,157.92 L89.3,157.95 L89.8,157.99 L90.3,158.02 L90.8,158.05 L91.3,158.09 L91.8,158.12 L92.3,158.15 L92.8,158.19 L93.3,158.22 L93.8,158.25 L94.3,158.29 L94.8,158.32 L95.3,158.35 L95.8,158.38 L96.3,158.42 L96.8,158.45 L97.3,158.48 L97.8,158.51 L98.3,158.54 L98.8,158.57 L99.3,158.60 L99.8,158.63 L100.3,158.66 L100.8,158.69 L101.3,158.71 L101.8,158.74 L102.3,158.77 L102.8,158.79 L103.3,158.81 L103.8,158.84 L104.3,158.86 L104.8,158.89 L105.3,158.91 L105.8,158.93 L106.3,158.96 L106.8,158.98 L107.3,159.00 L107.8,159.03 L108.3,159.05 L108.8,159.07 L109.3,159.10 L109.8,159.12 L110.3,159.14 L110.8,159.17 L111.3,159.19 L111.8,159.21 L112.3,159.23 L112.8,159.26 L113.3,159.28 L113.8,159.30 L114.3,159.33 L114.8,159.35 L115.3,159.37 L115.8,159.39 L116.3,159.42 L116.8,159.44 L117.3,159.46 L117.8,159.48 L118.3,159.51 L118.8,159.53 L119.3,159.55 L119.8,159.57 L120.3,159.60 L120.8,159.62 L121.3,159.64 L121.8,159.67 L122.3,159.69 L122.8,159.71 L123.3,159.73 L123.8,159.76 L124.3,159.78 L124.8,159.80 L125.3,159.83 L125.8,159.85 L126.3,159.87 L126.8,159.90 L127.3,159.92 L127.8,159.94 L128.3,159.97 L128.8,159.99 L129.3,160.02 L129.8,160.04 L130.3,160.07 L130.8,160.09 L131.3,160.11 L131.8,160.14 L132.3,160.16 L132.8,160.19 L133.3,160.21 L133.8,160.24 L134.3,160.26 L134.8,160.29 L135.3,160.32 L135.8,160.34 L136.3,160.37 L136.8,160.39 L137.3,160.42 L137.8,160.45 L138.3,160.48 L138.8,160.51 L139.3,160.53 L139.8,160.56 L140.3,160.59 L140.8,160.62 L141.3,160.65 L141.8,160.68 L142.3,160.71 L142.8,160.74 L143.3,160.77 L143.8,160.80 L144.3,160.83 L144.8,160.86 L145.3,160.89 L145.8,160.92 L146.3,160.95 L146.8,160.98 L147.3,161.01 L147.8,161.05 L148.3,161.08 L148.8,161.11 L149.3,161.14 L149.8,161.17 L150.3,161.20 L150.8,161.23 L151.3,161.26 L151.8,161.30 L152.3,161.33 L152.8,161.36 L153.3,161.39 L153.8,161.42 L154.3,161.45 L154.8,161.48 L155.3,161.51 L155.8,161.54 L156.3,161.57 L156.8,161.60 L157.3,161.63 L157.8,161.66 L158.3,161.69 L158.8,161.72 L159.3,161.75 L159.8,161.78 L160.3,161.81 L160.8,161.84 L161.3,161.87 L161.8,161.89 L162.3,161.92 L162.8,161.95 L163.3,161.98 L163.8,162.00 L164.3,162.03 L164.8,162.05 L165.3,162.08 L165.8,162.11 L166.3,162.13 L166.8,162.15 L167.3,162.18 L167.8,162.20 L168.3,162.22 L168.8,162.25 L169.3,162.27 L169.8,162.29 L170.3,162.31 L170.8,162.33 L171.3,162.36 L171.8,162.38 L172.3,162.40 L172.8,162.43 L173.3,162.45 L173.8,162.47 L174.3,162.50 L174.8,162.52 L175.3,162.54 L175.8,162.57 L176.3,162.59 L176.8,162.61 L177.3,162.64 L177.8,162.66 L178.3,162.68 L178.8,162.70 L179.3,162.73 L179.8,162.75 L180.3,162.77 L180.8,162.79 L181.3,162.81 L181.8,162.83 L182.3,162.85 L182.8,162.86 L183.3,162.88 L183.8,162.90 L184.3,162.91 L184.8,162.93 L185.3,162.94 L185.8,162.95 L186.3,162.96 L186.8,162.97 L187.3,162.98 L187.8,162.99 L188.3,162.99 L188.8,163.00 L189.3,163.00 L189.8,163.00 L190.3,163.00 L190.8,163.00 L191.3,162.99 L191.8,162.99 L192.3,162.98 L192.8,162.97 L193.3,162.96 L193.8,162.94 L194.3,162.93 L194.8,162.91 L195.3,162.89 L195.8,162.87 L196.3,162.85 L196.8,162.83 L197.3,162.80 L197.8,162.78 L198.3,162.75 L198.8,162.72 L199.3,162.70 L199.8,162.67 L200.3,162.63 L200.8,162.60 L201.3,162.57 L201.8,162.53 L202.3,162.50 L202.8,162.46 L203.3,162.43 L203.8,162.39 L204.3,162.35 L204.8,162.32 L205.3,162.27 L205.8,162.22 L206.3,162.16 L206.8,162.08 L207.3,161.99 L207.8,161.90 L208.3,161.80 L208.8,161.69 L209.3,161.59 L209.8,161.47 L210.3,161.36 L210.8,161.25 L211.3,161.14 L211.8,161.03 L212.3,160.93 L212.8,160.83 L213.3,160.74 L213.8,160.65 L214.3,160.58 L214.8,160.52 L215.3,160.47 L215.8,160.42 L216.3,160.37 L216.8,160.32 L217.3,160.27 L217.8,160.22 L218.3,160.18 L218.8,160.14 L219.3,160.10 L219.8,160.07 L220.3,160.04 L220.8,160.02 L221.3,160.01 L221.8,160.00 L222.3,160.00 L222.8,160.00 L223.3,160.01 L223.8,160.01 L224.3,160.02 L224.8,160.03 L225.3,160.04 L225.8,160.05 L226.3,160.07 L226.8,160.09 L227.3,160.11 L227.8,160.14 L228.3,160.17 L228.8,160.20 L229.3,160.24 L229.8,160.28 L230.3,160.32 L230.8,160.37 L231.3,160.42 L231.8,160.48 L232.3,160.54 L232.8,160.60 L233.3,160.67 L233.8,160.75 L234.2,214.8 Z" fill="#0a5cf8"/>
<path d="M30.8,214.8 L30.8,172.17 L31.3,172.12 L31.8,172.08 L32.3,172.04 L32.8,172.00 L33.3,171.96 L33.8,171.92 L34.3,171.88 L34.8,171.84 L35.3,171.80 L35.8,171.76 L36.3,171.73 L36.8,171.69 L37.3,171.66 L37.8,171.63 L38.3,171.59 L38.8,171.56 L39.3,171.53 L39.8,171.50 L40.3,171.47 L40.8,171.44 L41.3,171.41 L41.8,171.38 L42.3,171.35 L42.8,171.33 L43.3,171.30 L43.8,171.28 L44.3,171.25 L44.8,171.23 L45.3,171.21 L45.8,171.18 L46.3,171.16 L46.8,171.14 L47.3,171.12 L47.8,171.10 L48.3,171.08 L48.8,171.06 L49.3,171.04 L49.8,171.02 L50.3,171.01 L50.8,170.99 L51.3,170.97 L51.8,170.96 L52.3,170.94 L52.8,170.93 L53.3,170.92 L53.8,170.90 L54.3,170.89 L54.8,170.88 L55.3,170.86 L55.8,170.85 L56.3,170.84 L56.8,170.83 L57.3,170.82 L57.8,170.81 L58.3,170.80 L58.8,170.79 L59.3,170.79 L59.8,170.78 L60.3,170.77 L60.8,170.76 L61.3,170.76 L61.8,170.75 L62.3,170.75 L62.8,170.74 L63.3,170.73 L63.8,170.73 L64.3,170.73 L64.8,170.72 L65.3,170.72 L65.8,170.72 L66.3,170.71 L66.8,170.71 L67.3,170.71 L67.8,170.71 L68.3,170.70 L68.8,170.70 L69.3,170.70 L69.8,170.70 L70.3,170.70 L70.8,170.70 L71.3,170.70 L71.8,170.70 L72.3,170.70 L72.8,170.71 L73.3,170.72 L73.8,170.72 L74.3,170.73 L74.8,170.74 L75.3,170.75 L75.8,170.76 L76.3,170.78 L76.8,170.79 L77.3,170.81 L77.8,170.82 L78.3,170.84 L78.8,170.86 L79.3,170.88 L79.8,170.90 L80.3,170.92 L80.8,170.95 L81.3,170.97 L81.8,171.00 L82.3,171.02 L82.8,171.05 L83.3,171.07 L83.8,171.10 L84.3,171.13 L84.8,171.16 L85.3,171.19 L85.8,171.22 L86.3,171.25 L86.8,171.28 L87.3,171.31 L87.8,171.34 L88.3,171.38 L88.8,171.41 L89.3,171.44 L89.8,171.48 L90.3,171.51 L90.8,171.55 L91.3,171.58 L91.8,171.62 L92.3,171.65 L92.8,171.69 L93.3,171.72 L93.8,171.76 L94.3,171.80 L94.8,171.83 L95.3,171.87 L95.8,171.90 L96.3,171.94 L96.8,171.97 L97.3,172.01 L97.8,172.05 L98.3,172.08 L98.8,172.12 L99.3,172.15 L99.8,172.19 L100.3,172.22 L100.8,172.25 L101.3,172.29 L101.8,172.32 L102.3,172.35 L102.8,172.39 L103.3,172.42 L103.8,172.45 L104.3,172.49 L104.8,172.52 L105.3,172.56 L105.8,172.59 L106.3,172.63 L106.8,172.66 L107.3,172.70 L107.8,172.74 L108.3,172.78 L108.8,172.82 L109.3,172.86 L109.8,172.89 L110.3,172.94 L110.8,172.98 L111.3,173.02 L111.8,173.06 L112.3,173.10 L112.8,173.14 L113.3,173.18 L113.8,173.23 L114.3,173.27 L114.8,173.31 L115.3,173.36 L115.8,173.40 L116.3,173.44 L116.8,173.49 L117.3,173.53 L117.8,173.58 L118.3,173.62 L118.8,173.66 L119.3,173.71 L119.8,173.75 L120.3,173.80 L120.8,173.84 L121.3,173.89 L121.8,173.93 L122.3,173.97 L122.8,174.02 L123.3,174.06 L123.8,174.11 L124.3,174.15 L124.8,174.19 L125.3,174.24 L125.8,174.28 L126.3,174.32 L126.8,174.36 L127.3,174.41 L127.8,174.45 L128.3,174.49 L128.8,174.53 L129.3,174.57 L129.8,174.61 L130.3,174.65 L130.8,174.69 L131.3,174.73 L131.8,174.77 L132.3,174.80 L132.8,174.84 L133.3,174.88 L133.8,174.92 L134.3,174.95 L134.8,174.99 L135.3,175.02 L135.8,175.05 L136.3,175.09 L136.8,175.12 L137.3,175.16 L137.8,175.19 L138.3,175.22 L138.8,175.26 L139.3,175.29 L139.8,175.32 L140.3,175.35 L140.8,175.38 L141.3,175.42 L141.8,175.45 L142.3,175.48 L142.8,175.51 L143.3,175.54 L143.8,175.57 L144.3,175.60 L144.8,175.63 L145.3,175.66 L145.8,175.69 L146.3,175.72 L146.8,175.75 L147.3,175.78 L147.8,175.81 L148.3,175.84 L148.8,175.87 L149.3,175.90 L149.8,175.93 L150.3,175.96 L150.8,175.99 L151.3,176.02 L151.8,176.05 L152.3,176.08 L152.8,176.11 L153.3,176.13 L153.8,176.16 L154.3,176.19 L154.8,176.22 L155.3,176.25 L155.8,176.28 L156.3,176.31 L156.8,176.33 L157.3,176.36 L157.8,176.39 L158.3,176.42 L158.8,176.45 L159.3,176.48 L159.8,176.50 L160.3,176.53 L160.8,176.56 L161.3,176.59 L161.8,176.62 L162.3,176.65 L162.8,176.67 L163.3,176.70 L163.8,176.73 L164.3,176.76 L164.8,176.79 L165.3,176.82 L165.8,176.85 L166.3,176.88 L166.8,176.91 L167.3,176.94 L167.8,176.98 L168.3,177.01 L168.8,177.05 L169.3,177.08 L169.8,177.12 L170.3,177.15 L170.8,177.19 L171.3,177.23 L171.8,177.26 L172.3,177.30 L172.8,177.34 L173.3,177.37 L173.8,177.41 L174.3,177.44 L174.8,177.48 L175.3,177.51 L175.8,177.55 L176.3,177.58 L176.8,177.61 L177.3,177.64 L177.8,177.67 L178.3,177.70 L178.8,177.72 L179.3,177.75 L179.8,177.77 L180.3,177.79 L180.8,177.81 L181.3,177.83 L181.8,177.85 L182.3,177.86 L182.8,177.88 L183.3,177.89 L183.8,177.89 L184.3,177.90 L184.8,177.90 L185.3,177.90 L185.8,177.90 L186.3,177.90 L186.8,177.90 L187.3,177.90 L187.8,177.89 L188.3,177.89 L188.8,177.89 L189.3,177.88 L189.8,177.88 L190.3,177.88 L190.8,177.87 L191.3,177.86 L191.8,177.86 L192.3,177.85 L192.8,177.85 L193.3,177.84 L193.8,177.83 L194.3,177.82 L194.8,177.81 L195.3,177.81 L195.8,177.80 L196.3,177.79 L196.8,177.78 L197.3,177.77 L197.8,177.75 L198.3,177.74 L198.8,177.73 L199.3,177.72 L199.8,177.71 L200.3,177.69 L200.8,177.65 L201.3,177.60 L201.8,177.53 L202.3,177.45 L202.8,177.35 L203.3,177.24 L203.8,177.12 L204.3,176.99 L204.8,176.85 L205.3,176.71 L205.8,176.56 L206.3,176.42 L206.8,176.27 L207.3,176.12 L207.8,175.97 L208.3,175.83 L208.8,175.70 L209.3,175.57 L209.8,175.45 L210.3,175.33 L210.8,175.22 L211.3,175.10 L211.8,174.98 L212.3,174.86 L212.8,174.74 L213.3,174.61 L213.8,174.49 L214.3,174.37 L214.8,174.24 L215.3,174.12 L215.8,174.00 L216.3,173.88 L216.8,173.77 L217.3,173.65 L217.8,173.54 L218.3,173.44 L218.8,173.33 L219.3,173.23 L219.8,173.14 L220.3,173.05 L220.8,172.97 L221.3,172.89 L221.8,172.83 L222.3,172.76 L222.8,172.70 L223.3,172.64 L223.8,172.58 L224.3,172.52 L224.8,172.46 L225.3,172.41 L225.8,172.35 L226.3,172.30 L226.8,172.25 L227.3,172.21 L227.8,172.16 L228.3,172.12 L228.8,172.08 L229.3,172.04 L229.8,172.01 L230.3,171.98 L230.8,171.95 L231.3,171.93 L231.8,171.91 L232.3,171.89 L232.8,171.88 L233.3,171.87 L233.8,171.87 L234.2,214.8 Z" fill="#0a90f8"/>
<path d="M30.8,214.8 L30.8,178.53 L31.3,178.49 L31.8,178.46 L32.3,178.42 L32.8,178.38 L33.3,178.35 L33.8,178.31 L34.3,178.28 L34.8,178.25 L35.3,178.22 L35.8,178.19 L36.3,178.16 L36.8,178.13 L37.3,178.10 L37.8,178.07 L38.3,178.04 L38.8,178.02 L39.3,177.99 L39.8,177.97 L40.3,177.95 L40.8,177.92 L41.3,177.90 L41.8,177.88 L42.3,177.86 L42.8,177.84 L43.3,177.82 L43.8,177.80 L44.3,177.79 L44.8,177.77 L45.3,177.75 L45.8,177.74 L46.3,177.72 L46.8,177.71 L47.3,177.69 L47.8,177.68 L48.3,177.67 L48.8,177.66 L49.3,177.64 L49.8,177.63 L50.3,177.62 L50.8,177.61 L51.3,177.60 L51.8,177.60 L52.3,177.59 L52.8,177.58 L53.3,177.57 L53.8,177.56 L54.3,177.56 L54.8,177.55 L55.3,177.55 L55.8,177.54 L56.3,177.54 L56.8,177.53 L57.3,177.53 L57.8,177.52 L58.3,177.52 L58.8,177.52 L59.3,177.51 L59.8,177.51 L60.3,177.51 L60.8,177.51 L61.3,177.51 L61.8,177.50 L62.3,177.50 L62.8,177.50 L63.3,177.50 L63.8,177.50 L64.3,177.50 L64.8,177.50 L65.3,177.50 L65.8,177.50 L66.3,177.50 L66.8,177.51 L67.3,177.51 L67.8,177.52 L68.3,177.53 L68.8,177.54 L69.3,177.55 L69.8,177.56 L70.3,177.57 L70.8,177.59 L71.3,177.60 L71.8,177.62 L72.3,177.64 L72.8,177.65 L73.3,177.67 L73.8,177.69 L74.3,177.71 L74.8,177.74 L75.3,177.76 L75.8,177.79 L76.3,177.81 L76.8,177.84 L77.3,177.86 L77.8,177.89 L78.3,177.92 L78.8,177.95 L79.3,177.98 L79.8,178.01 L80.3,178.04 L80.8,178.08 L81.3,178.11 L81.8,178.15 L82.3,178.18 L82.8,178.22 L83.3,178.25 L83.8,178.29 L84.3,178.33 L84.8,178.37 L85.3,178.40 L85.8,178.44 L86.3,178.48 L86.8,178.52 L87.3,178.57 L87.8,178.61 L88.3,178.65 L88.8,178.69 L89.3,178.73 L89.8,178.78 L90.3,178.82 L90.8,178.87 L91.3,178.91 L91.8,178.95 L92.3,179.00 L92.8,179.04 L93.3,179.09 L93.8,179.14 L94.3,179.18 L94.8,179.23 L95.3,179.28 L95.8,179.32 L96.3,179.37 L96.8,179.42 L97.3,179.46 L97.8,179.51 L98.3,179.56 L98.8,179.60 L99.3,179.65 L99.8,179.70 L100.3,179.75 L100.8,179.79 L101.3,179.84 L101.8,179.89 L102.3,179.93 L102.8,179.98 L103.3,180.03 L103.8,180.08 L104.3,180.13 L104.8,180.18 L105.3,180.24 L105.8,180.30 L106.3,180.36 L106.8,180.42 L107.3,180.49 L107.8,180.55 L108.3,180.62 L108.8,180.69 L109.3,180.76 L109.8,180.84 L110.3,180.91 L110.8,180.99 L111.3,181.07 L111.8,181.15 L112.3,181.23 L112.8,181.31 L113.3,181.39 L113.8,181.47 L114.3,181.56 L114.8,181.64 L115.3,181.73 L115.8,181.82 L116.3,181.91 L116.8,181.99 L117.3,182.08 L117.8,182.17 L118.3,182.26 L118.8,182.35 L119.3,182.44 L119.8,182.53 L120.3,182.62 L120.8,182.71 L121.3,182.80 L121.8,182.89 L122.3,182.99 L122.8,183.08 L123.3,183.16 L123.8,183.25 L124.3,183.34 L124.8,183.43 L125.3,183.52 L125.8,183.61 L126.3,183.69 L126.8,183.78 L127.3,183.86 L127.8,183.95 L128.3,184.03 L128.8,184.11 L129.3,184.19 L129.8,184.27 L130.3,184.35 L130.8,184.42 L131.3,184.50 L131.8,184.57 L132.3,184.64 L132.8,184.71 L133.3,184.78 L133.8,184.85 L134.3,184.91 L134.8,184.98 L135.3,185.04 L135.8,185.10 L136.3,185.16 L136.8,185.22 L137.3,185.27 L137.8,185.33 L138.3,185.39 L138.8,185.45 L139.3,185.51 L139.8,185.56 L140.3,185.62 L140.8,185.68 L141.3,185.73 L141.8,185.79 L142.3,185.84 L142.8,185.90 L143.3,185.95 L143.8,186.00 L144.3,186.06 L144.8,186.11 L145.3,186.16 L145.8,186.21 L146.3,186.27 L146.8,186.32 L147.3,186.37 L147.8,186.42 L148.3,186.47 L148.8,186.52 L149.3,186.57 L149.8,186.62 L150.3,186.67 L150.8,186.72 L151.3,186.76 L151.8,186.81 L152.3,186.86 L152.8,186.91 L153.3,186.96 L153.8,187.00 L154.3,187.05 L154.8,187.10 L155.3,187.14 L155.8,187.19 L156.3,187.24 L156.8,187.28 L157.3,187.33 L157.8,187.37 L158.3,187.42 L158.8,187.46 L159.3,187.51 L159.8,187.55 L160.3,187.59 L160.8,187.64 L161.3,187.68 L161.8,187.73 L162.3,187.77 L162.8,187.81 L163.3,187.85 L163.8,187.90 L164.3,187.94 L164.8,187.98 L165.3,188.03 L165.8,188.07 L166.3,188.11 L166.8,188.16 L167.3,188.21 L167.8,188.26 L168.3,188.30 L168.8,188.35 L169.3,188.40 L169.8,188.45 L170.3,188.50 L170.8,188.55 L171.3,188.60 L171.8,188.65 L172.3,188.70 L172.8,188.75 L173.3,188.80 L173.8,188.85 L174.3,188.90 L174.8,188.94 L175.3,188.99 L175.8,189.03 L176.3,189.08 L176.8,189.12 L177.3,189.16 L177.8,189.20 L178.3,189.23 L178.8,189.27 L179.3,189.30 L179.8,189.33 L180.3,189.36 L180.8,189.39 L181.3,189.41 L181.8,189.43 L182.3,189.45 L182.8,189.47 L183.3,189.48 L183.8,189.49 L184.3,189.50 L184.8,189.50 L185.3,189.50 L185.8,189.49 L186.3,189.48 L186.8,189.47 L187.3,189.45 L187.8,189.42 L188.3,189.39 L188.8,189.36 L189.3,189.32 L189.8,189.28 L190.3,189.24 L190.8,189.19 L191.3,189.14 L191.8,189.08 L192.3,189.03 L192.8,188.97 L193.3,188.90 L193.8,188.84 L194.3,188.77 L194.8,188.70 L195.3,188.63 L195.8,188.56 L196.3,188.48 L196.8,188.41 L197.3,188.33 L197.8,188.25 L198.3,188.17 L198.8,188.09 L199.3,188.01 L199.8,187.93 L200.3,187.85 L200.8,187.75 L201.3,187.65 L201.8,187.53 L202.3,187.40 L202.8,187.26 L203.3,187.12 L203.8,186.97 L204.3,186.81 L204.8,186.65 L205.3,186.49 L205.8,186.32 L206.3,186.15 L206.8,185.99 L207.3,185.82 L207.8,185.66 L208.3,185.50 L208.8,185.34 L209.3,185.20 L209.8,185.05 L210.3,184.92 L210.8,184.78 L211.3,184.65 L211.8,184.51 L212.3,184.38 L212.8,184.24 L213.3,184.11 L213.8,183.97 L214.3,183.84 L214.8,183.71 L215.3,183.58 L215.8,183.45 L216.3,183.33 L216.8,183.21 L217.3,183.09 L217.8,182.97 L218.3,182.86 L218.8,182.75 L219.3,182.64 L219.8,182.54 L220.3,182.44 L220.8,182.35 L221.3,182.25 L221.8,182.16 L222.3,182.06 L222.8,181.97 L223.3,181.88 L223.8,181.79 L224.3,181.70 L224.8,181.62 L225.3,181.53 L225.8,181.45 L226.3,181.37 L226.8,181.29 L227.3,181.22 L227.8,181.14 L228.3,181.07 L228.8,181.00 L229.3,180.93 L229.8,180.86 L230.3,180.80 L230.8,180.74 L231.3,180.68 L231.8,180.62 L232.3,180.57 L232.8,180.52 L233.3,180.47 L233.8,180.42 L234.2,214.8 Z" fill="#0ab8fa"/>
<path d="M30.8,214.8 L30.8,184.86 L31.3,184.78 L31.8,184.69 L32.3,184.61 L32.8,184.53 L33.3,184.45 L33.8,184.37 L34.3,184.30 L34.8,184.22 L35.3,184.14 L35.8,184.07 L36.3,184.00 L36.8,183.92 L37.3,183.85 L37.8,183.78 L38.3,183.71 L38.8,183.65 L39.3,183.58 L39.8,183.51 L40.3,183.45 L40.8,183.39 L41.3,183.33 L41.8,183.27 L42.3,183.21 L42.8,183.15 L43.3,183.10 L43.8,183.04 L44.3,182.99 L44.8,182.94 L45.3,182.89 L45.8,182.84 L46.3,182.79 L46.8,182.75 L47.3,182.70 L47.8,182.66 L48.3,182.62 L48.8,182.58 L49.3,182.54 L49.8,182.51 L50.3,182.48 L50.8,182.44 L51.3,182.41 L51.8,182.39 L52.3,182.36 L52.8,182.34 L53.3,182.31 L53.8,182.29 L54.3,182.27 L54.8,182.26 L55.3,182.24 L55.8,182.23 L56.3,182.22 L56.8,182.21 L57.3,182.21 L57.8,182.20 L58.3,182.20 L58.8,182.20 L59.3,182.20 L59.8,182.20 L60.3,182.21 L60.8,182.21 L61.3,182.22 L61.8,182.23 L62.3,182.24 L62.8,182.25 L63.3,182.26 L63.8,182.27 L64.3,182.28 L64.8,182.30 L65.3,182.31 L65.8,182.33 L66.3,182.34 L66.8,182.36 L67.3,182.38 L67.8,182.40 L68.3,182.42 L68.8,182.44 L69.3,182.47 L69.8,182.49 L70.3,182.51 L70.8,182.54 L71.3,182.56 L71.8,182.59 L72.3,182.62 L72.8,182.65 L73.3,182.68 L73.8,182.70 L74.3,182.73 L74.8,182.76 L75.3,182.80 L75.8,182.83 L76.3,182.86 L76.8,182.89 L77.3,182.93 L77.8,182.96 L78.3,182.99 L78.8,183.03 L79.3,183.06 L79.8,183.10 L80.3,183.13 L80.8,183.17 L81.3,183.21 L81.8,183.24 L82.3,183.28 L82.8,183.32 L83.3,183.35 L83.8,183.39 L84.3,183.43 L84.8,183.47 L85.3,183.52 L85.8,183.57 L86.3,183.62 L86.8,183.67 L87.3,183.73 L87.8,183.79 L88.3,183.85 L88.8,183.91 L89.3,183.98 L89.8,184.05 L90.3,184.12 L90.8,184.20 L91.3,184.27 L91.8,184.35 L92.3,184.43 L92.8,184.52 L93.3,184.60 L93.8,184.69 L94.3,184.78 L94.8,184.87 L95.3,184.97 L95.8,185.06 L96.3,185.16 L96.8,185.26 L97.3,185.36 L97.8,185.46 L98.3,185.56 L98.8,185.67 L99.3,185.78 L99.8,185.88 L100.3,185.99 L100.8,186.10 L101.3,186.21 L101.8,186.33 L102.3,186.44 L102.8,186.55 L103.3,186.67 L103.8,186.80 L104.3,186.94 L104.8,187.09 L105.3,187.25 L105.8,187.41 L106.3,187.58 L106.8,187.76 L107.3,187.94 L107.8,188.12 L108.3,188.31 L108.8,188.50 L109.3,188.68 L109.8,188.87 L110.3,189.05 L110.8,189.23 L111.3,189.40 L111.8,189.57 L112.3,189.73 L112.8,189.88 L113.3,190.03 L113.8,190.17 L114.3,190.31 L114.8,190.44 L115.3,190.58 L115.8,190.72 L116.3,190.85 L116.8,190.98 L117.3,191.12 L117.8,191.25 L118.3,191.38 L118.8,191.51 L119.3,191.63 L119.8,191.76 L120.3,191.88 L120.8,192.01 L121.3,192.13 L121.8,192.25 L122.3,192.37 L122.8,192.48 L123.3,192.60 L123.8,192.71 L124.3,192.83 L124.8,192.94 L125.3,193.05 L125.8,193.16 L126.3,193.26 L126.8,193.37 L127.3,193.47 L127.8,193.57 L128.3,193.67 L128.8,193.77 L129.3,193.87 L129.8,193.96 L130.3,194.06 L130.8,194.15 L131.3,194.24 L131.8,194.33 L132.3,194.43 L132.8,194.52 L133.3,194.61 L133.8,194.70 L134.3,194.79 L134.8,194.88 L135.3,194.97 L135.8,195.05 L136.3,195.14 L136.8,195.23 L137.3,195.31 L137.8,195.40 L138.3,195.48 L138.8,195.56 L139.3,195.64 L139.8,195.72 L140.3,195.80 L140.8,195.88 L141.3,195.95 L141.8,196.03 L142.3,196.10 L142.8,196.17 L143.3,196.24 L143.8,196.31 L144.3,196.37 L144.8,196.44 L145.3,196.50 L145.8,196.56 L146.3,196.62 L146.8,196.68 L147.3,196.73 L147.8,196.78 L148.3,196.83 L148.8,196.88 L149.3,196.93 L149.8,196.97 L150.3,197.02 L150.8,197.06 L151.3,197.11 L151.8,197.15 L152.3,197.19 L152.8,197.24 L153.3,197.28 L153.8,197.32 L154.3,197.36 L154.8,197.40 L155.3,197.44 L155.8,197.48 L156.3,197.51 L156.8,197.55 L157.3,197.59 L157.8,197.63 L158.3,197.66 L158.8,197.70 L159.3,197.73 L159.8,197.77 L160.3,197.80 L160.8,197.83 L161.3,197.86 L161.8,197.90 L162.3,197.93 L162.8,197.96 L163.3,197.99 L163.8,198.01 L164.3,198.04 L164.8,198.07 L165.3,198.10 L165.8,198.12 L166.3,198.15 L166.8,198.18 L167.3,198.20 L167.8,198.22 L168.3,198.25 L168.8,198.27 L169.3,198.29 L169.8,198.31 L170.3,198.33 L170.8,198.35 L171.3,198.37 L171.8,198.39 L172.3,198.41 L172.8,198.43 L173.3,198.45 L173.8,198.47 L174.3,198.48 L174.8,198.50 L175.3,198.52 L175.8,198.54 L176.3,198.56 L176.8,198.58 L177.3,198.59 L177.8,198.61 L178.3,198.63 L178.8,198.64 L179.3,198.66 L179.8,198.67 L180.3,198.69 L180.8,198.70 L181.3,198.72 L181.8,198.73 L182.3,198.74 L182.8,198.75 L183.3,198.76 L183.8,198.77 L184.3,198.78 L184.8,198.78 L185.3,198.79 L185.8,198.79 L186.3,198.80 L186.8,198.80 L187.3,198.80 L187.8,198.80 L188.3,198.79 L188.8,198.78 L189.3,198.77 L189.8,198.76 L190.3,198.74 L190.8,198.72 L191.3,198.69 L191.8,198.66 L192.3,198.63 L192.8,198.60 L193.3,198.56 L193.8,198.52 L194.3,198.48 L194.8,198.44 L195.3,198.39 L195.8,198.34 L196.3,198.29 L196.8,198.23 L197.3,198.17 L197.8,198.11 L198.3,198.05 L198.8,197.99 L199.3,197.89 L199.8,197.76 L200.3,197.59 L200.8,197.40 L201.3,197.19 L201.8,196.97 L202.3,196.75 L202.8,196.53 L203.3,196.32 L203.8,196.12 L204.3,195.93 L204.8,195.73 L205.3,195.53 L205.8,195.33 L206.3,195.13 L206.8,194.92 L207.3,194.72 L207.8,194.51 L208.3,194.30 L208.8,194.09 L209.3,193.88 L209.8,193.68 L210.3,193.47 L210.8,193.26 L211.3,193.06 L211.8,192.85 L212.3,192.65 L212.8,192.45 L213.3,192.25 L213.8,192.06 L214.3,191.86 L214.8,191.67 L215.3,191.49 L215.8,191.30 L216.3,191.11 L216.8,190.91 L217.3,190.72 L217.8,190.53 L218.3,190.35 L218.8,190.16 L219.3,189.99 L219.8,189.82 L220.3,189.66 L220.8,189.51 L221.3,189.38 L221.8,189.25 L222.3,189.13 L222.8,189.01 L223.3,188.89 L223.8,188.78 L224.3,188.66 L224.8,188.55 L225.3,188.44 L225.8,188.34 L226.3,188.23 L226.8,188.14 L227.3,188.04 L227.8,187.95 L228.3,187.87 L228.8,187.79 L229.3,187.71 L229.8,187.64 L230.3,187.58 L230.8,187.52 L231.3,187.46 L231.8,187.42 L232.3,187.38 L232.8,187.34 L233.3,187.32 L233.8,187.30 L234.2,214.8 Z" fill="#05dcfc"/>
<path d="M30.8,214.8 L30.8,186.49 L31.3,186.40 L31.8,186.31 L32.3,186.22 L32.8,186.13 L33.3,186.05 L33.8,185.96 L34.3,185.88 L34.8,185.80 L35.3,185.72 L35.8,185.64 L36.3,185.56 L36.8,185.49 L37.3,185.41 L37.8,185.34 L38.3,185.27 L38.8,185.20 L39.3,185.13 L39.8,185.06 L40.3,185.00 L40.8,184.94 L41.3,184.87 L41.8,184.81 L42.3,184.76 L42.8,184.70 L43.3,184.64 L43.8,184.59 L44.3,184.54 L44.8,184.49 L45.3,184.44 L45.8,184.39 L46.3,184.35 L46.8,184.31 L47.3,184.26 L47.8,184.22 L48.3,184.19 L48.8,184.15 L49.3,184.12 L49.8,184.08 L50.3,184.05 L50.8,184.02 L51.3,183.99 L51.8,183.97 L52.3,183.94 L52.8,183.92 L53.3,183.90 L53.8,183.88 L54.3,183.87 L54.8,183.85 L55.3,183.84 L55.8,183.83 L56.3,183.82 L56.8,183.81 L57.3,183.81 L57.8,183.80 L58.3,183.80 L58.8,183.80 L59.3,183.80 L59.8,183.81 L60.3,183.81 L60.8,183.82 L61.3,183.83 L61.8,183.84 L62.3,183.85 L62.8,183.86 L63.3,183.88 L63.8,183.90 L64.3,183.92 L64.8,183.94 L65.3,183.96 L65.8,183.98 L66.3,184.01 L66.8,184.03 L67.3,184.06 L67.8,184.09 L68.3,184.12 L68.8,184.15 L69.3,184.19 L69.8,184.22 L70.3,184.26 L70.8,184.30 L71.3,184.34 L71.8,184.38 L72.3,184.42 L72.8,184.46 L73.3,184.50 L73.8,184.55 L74.3,184.60 L74.8,184.64 L75.3,184.69 L75.8,184.74 L76.3,184.79 L76.8,184.85 L77.3,184.90 L77.8,184.95 L78.3,185.01 L78.8,185.07 L79.3,185.12 L79.8,185.18 L80.3,185.24 L80.8,185.30 L81.3,185.37 L81.8,185.43 L82.3,185.49 L82.8,185.56 L83.3,185.62 L83.8,185.69 L84.3,185.76 L84.8,185.84 L85.3,185.94 L85.8,186.06 L86.3,186.18 L86.8,186.32 L87.3,186.46 L87.8,186.62 L88.3,186.79 L88.8,186.96 L89.3,187.15 L89.8,187.33 L90.3,187.53 L90.8,187.73 L91.3,187.94 L91.8,188.15 L92.3,188.36 L92.8,188.57 L93.3,188.79 L93.8,189.01 L94.3,189.22 L94.8,189.44 L95.3,189.65 L95.8,189.87 L96.3,190.08 L96.8,190.28 L97.3,190.50 L97.8,190.72 L98.3,190.96 L98.8,191.20 L99.3,191.44 L99.8,191.69 L100.3,191.94 L100.8,192.18 L101.3,192.43 L101.8,192.66 L102.3,192.89 L102.8,193.11 L103.3,193.33 L103.8,193.54 L104.3,193.74 L104.8,193.95 L105.3,194.16 L105.8,194.36 L106.3,194.57 L106.8,194.77 L107.3,194.97 L107.8,195.16 L108.3,195.36 L108.8,195.55 L109.3,195.74 L109.8,195.93 L110.3,196.11 L110.8,196.29 L111.3,196.47 L111.8,196.65 L112.3,196.82 L112.8,196.99 L113.3,197.16 L113.8,197.32 L114.3,197.48 L114.8,197.63 L115.3,197.78 L115.8,197.94 L116.3,198.09 L116.8,198.24 L117.3,198.39 L117.8,198.54 L118.3,198.69 L118.8,198.83 L119.3,198.98 L119.8,199.12 L120.3,199.27 L120.8,199.41 L121.3,199.54 L121.8,199.68 L122.3,199.82 L122.8,199.95 L123.3,200.08 L123.8,200.20 L124.3,200.33 L124.8,200.45 L125.3,200.57 L125.8,200.68 L126.3,200.79 L126.8,200.90 L127.3,201.00 L127.8,201.10 L128.3,201.20 L128.8,201.29 L129.3,201.38 L129.8,201.47 L130.3,201.55 L130.8,201.63 L131.3,201.71 L131.8,201.78 L132.3,201.86 L132.8,201.94 L133.3,202.01 L133.8,202.09 L134.3,202.16 L134.8,202.24 L135.3,202.31 L135.8,202.38 L136.3,202.45 L136.8,202.52 L137.3,202.59 L137.8,202.66 L138.3,202.72 L138.8,202.79 L139.3,202.85 L139.8,202.92 L140.3,202.98 L140.8,203.04 L141.3,203.10 L141.8,203.16 L142.3,203.22 L142.8,203.27 L143.3,203.33 L143.8,203.38 L144.3,203.43 L144.8,203.48 L145.3,203.53 L145.8,203.58 L146.3,203.63 L146.8,203.67 L147.3,203.71 L147.8,203.76 L148.3,203.80 L148.8,203.84 L149.3,203.87 L149.8,203.91 L150.3,203.94 L150.8,203.98 L151.3,204.01 L151.8,204.04 L152.3,204.06 L152.8,204.09 L153.3,204.11 L153.8,204.14 L154.3,204.16 L154.8,204.19 L155.3,204.21 L155.8,204.23 L156.3,204.26 L156.8,204.28 L157.3,204.30 L157.8,204.33 L158.3,204.35 L158.8,204.37 L159.3,204.39 L159.8,204.41 L160.3,204.43 L160.8,204.45 L161.3,204.47 L161.8,204.49 L162.3,204.51 L162.8,204.53 L163.3,204.54 L163.8,204.56 L164.3,204.57 L164.8,204.59 L165.3,204.60 L165.8,204.62 L166.3,204.63 L166.8,204.64 L167.3,204.65 L167.8,204.66 L168.3,204.67 L168.8,204.68 L169.3,204.68 L169.8,204.69 L170.3,204.69 L170.8,204.70 L171.3,204.70 L171.8,204.70 L172.3,204.70 L172.8,204.70 L173.3,204.69 L173.8,204.69 L174.3,204.68 L174.8,204.67 L175.3,204.66 L175.8,204.65 L176.3,204.63 L176.8,204.62 L177.3,204.60 L177.8,204.58 L178.3,204.56 L178.8,204.54 L179.3,204.52 L179.8,204.50 L180.3,204.47 L180.8,204.44 L181.3,204.42 L181.8,204.39 L182.3,204.36 L182.8,204.33 L183.3,204.30 L183.8,204.26 L184.3,204.23 L184.8,204.19 L185.3,204.16 L185.8,204.12 L186.3,204.08 L186.8,204.05 L187.3,204.01 L187.8,203.97 L188.3,203.93 L188.8,203.89 L189.3,203.84 L189.8,203.80 L190.3,203.76 L190.8,203.72 L191.3,203.67 L191.8,203.62 L192.3,203.56 L192.8,203.49 L193.3,203.42 L193.8,203.34 L194.3,203.25 L194.8,203.16 L195.3,203.07 L195.8,202.97 L196.3,202.87 L196.8,202.76 L197.3,202.65 L197.8,202.54 L198.3,202.43 L198.8,202.32 L199.3,202.20 L199.8,202.09 L200.3,201.98 L200.8,201.87 L201.3,201.76 L201.8,201.65 L202.3,201.54 L202.8,201.44 L203.3,201.34 L203.8,201.24 L204.3,201.14 L204.8,201.04 L205.3,200.94 L205.8,200.83 L206.3,200.72 L206.8,200.59 L207.3,200.46 L207.8,200.31 L208.3,200.15 L208.8,199.98 L209.3,199.80 L209.8,199.61 L210.3,199.41 L210.8,199.19 L211.3,198.97 L211.8,198.73 L212.3,198.49 L212.8,198.24 L213.3,197.97 L213.8,197.70 L214.3,197.41 L214.8,197.12 L215.3,196.81 L215.8,196.45 L216.3,196.06 L216.8,195.63 L217.3,195.18 L217.8,194.71 L218.3,194.24 L218.8,193.77 L219.3,193.31 L219.8,192.88 L220.3,192.48 L220.8,192.08 L221.3,191.65 L221.8,191.24 L222.3,190.89 L222.8,190.65 L223.3,190.54 L223.8,190.45 L224.3,190.36 L224.8,190.27 L225.3,190.20 L225.8,190.12 L226.3,190.06 L226.8,190.00 L227.3,189.94 L227.8,189.89 L228.3,189.85 L228.8,189.81 L229.3,189.78 L229.8,189.75 L230.3,189.73 L230.8,189.72 L231.3,189.71 L231.8,189.70 L232.3,189.70 L232.8,189.71 L233.3,189.72 L233.8,189.73 L234.2,214.8 Z" fill="#00f8f0"/>
<path d="M30.8,214.8 L30.8,188.05 L31.3,187.94 L31.8,187.84 L32.3,187.74 L32.8,187.64 L33.3,187.54 L33.8,187.45 L34.3,187.36 L34.8,187.27 L35.3,187.18 L35.8,187.09 L36.3,187.01 L36.8,186.93 L37.3,186.85 L37.8,186.78 L38.3,186.70 L38.8,186.63 L39.3,186.56 L39.8,186.49 L40.3,186.42 L40.8,186.36 L41.3,186.30 L41.8,186.24 L42.3,186.18 L42.8,186.12 L43.3,186.07 L43.8,186.02 L44.3,185.97 L44.8,185.92 L45.3,185.87 L45.8,185.83 L46.3,185.79 L46.8,185.75 L47.3,185.71 L47.8,185.67 L48.3,185.64 L48.8,185.60 L49.3,185.57 L49.8,185.54 L50.3,185.52 L50.8,185.49 L51.3,185.46 L51.8,185.44 L52.3,185.42 L52.8,185.40 L53.3,185.38 L53.8,185.37 L54.3,185.36 L54.8,185.34 L55.3,185.33 L55.8,185.32 L56.3,185.31 L56.8,185.31 L57.3,185.30 L57.8,185.30 L58.3,185.30 L58.8,185.30 L59.3,185.30 L59.8,185.31 L60.3,185.32 L60.8,185.33 L61.3,185.35 L61.8,185.36 L62.3,185.38 L62.8,185.40 L63.3,185.43 L63.8,185.46 L64.3,185.49 L64.8,185.52 L65.3,185.55 L65.8,185.59 L66.3,185.63 L66.8,185.67 L67.3,185.72 L67.8,185.76 L68.3,185.81 L68.8,185.86 L69.3,185.91 L69.8,185.96 L70.3,186.02 L70.8,186.08 L71.3,186.14 L71.8,186.20 L72.3,186.26 L72.8,186.32 L73.3,186.39 L73.8,186.46 L74.3,186.53 L74.8,186.60 L75.3,186.67 L75.8,186.74 L76.3,186.82 L76.8,186.89 L77.3,186.97 L77.8,187.05 L78.3,187.15 L78.8,187.27 L79.3,187.40 L79.8,187.55 L80.3,187.72 L80.8,187.90 L81.3,188.09 L81.8,188.30 L82.3,188.52 L82.8,188.75 L83.3,188.98 L83.8,189.23 L84.3,189.48 L84.8,189.74 L85.3,190.00 L85.8,190.27 L86.3,190.54 L86.8,190.81 L87.3,191.09 L87.8,191.36 L88.3,191.64 L88.8,191.91 L89.3,192.18 L89.8,192.44 L90.3,192.70 L90.8,192.96 L91.3,193.24 L91.8,193.53 L92.3,193.83 L92.8,194.14 L93.3,194.46 L93.8,194.78 L94.3,195.11 L94.8,195.45 L95.3,195.78 L95.8,196.12 L96.3,196.46 L96.8,196.80 L97.3,197.14 L97.8,197.47 L98.3,197.80 L98.8,198.12 L99.3,198.43 L99.8,198.74 L100.3,199.03 L100.8,199.32 L101.3,199.59 L101.8,199.85 L102.3,200.09 L102.8,200.31 L103.3,200.53 L103.8,200.73 L104.3,200.94 L104.8,201.14 L105.3,201.34 L105.8,201.54 L106.3,201.74 L106.8,201.93 L107.3,202.12 L107.8,202.31 L108.3,202.50 L108.8,202.68 L109.3,202.86 L109.8,203.03 L110.3,203.20 L110.8,203.36 L111.3,203.53 L111.8,203.68 L112.3,203.84 L112.8,203.99 L113.3,204.13 L113.8,204.27 L114.3,204.40 L114.8,204.53 L115.3,204.65 L115.8,204.77 L116.3,204.88 L116.8,204.99 L117.3,205.09 L117.8,205.18 L118.3,205.27 L118.8,205.35 L119.3,205.43 L119.8,205.51 L120.3,205.59 L120.8,205.66 L121.3,205.74 L121.8,205.81 L122.3,205.89 L122.8,205.96 L123.3,206.02 L123.8,206.09 L124.3,206.15 L124.8,206.21 L125.3,206.26 L125.8,206.32 L126.3,206.37 L126.8,206.41 L127.3,206.45 L127.8,206.49 L128.3,206.52 L128.8,206.55 L129.3,206.58 L129.8,206.59 L130.3,206.61 L130.8,206.62 L131.3,206.64 L131.8,206.65 L132.3,206.66 L132.8,206.67 L133.3,206.69 L133.8,206.70 L134.3,206.71 L134.8,206.72 L135.3,206.73 L135.8,206.74 L136.3,206.75 L136.8,206.76 L137.3,206.77 L137.8,206.78 L138.3,206.79 L138.8,206.80 L139.3,206.81 L139.8,206.82 L140.3,206.83 L140.8,206.83 L141.3,206.84 L141.8,206.85 L142.3,206.85 L142.8,206.86 L143.3,206.86 L143.8,206.87 L144.3,206.87 L144.8,206.88 L145.3,206.88 L145.8,206.89 L146.3,206.89 L146.8,206.89 L147.3,206.89 L147.8,206.90 L148.3,206.90 L148.8,206.90 L149.3,206.90 L149.8,206.90 L150.3,206.90 L150.8,206.90 L151.3,206.90 L151.8,206.90 L152.3,206.90 L152.8,206.90 L153.3,206.90 L153.8,206.90 L154.3,206.90 L154.8,206.89 L155.3,206.89 L155.8,206.89 L156.3,206.89 L156.8,206.89 L157.3,206.89 L157.8,206.89 L158.3,206.88 L158.8,206.88 L159.3,206.88 L159.8,206.88 L160.3,206.88 L160.8,206.87 L161.3,206.87 L161.8,206.87 L162.3,206.87 L162.8,206.86 L163.3,206.86 L163.8,206.86 L164.3,206.86 L164.8,206.85 L165.3,206.85 L165.8,206.85 L166.3,206.84 L166.8,206.84 L167.3,206.84 L167.8,206.83 L168.3,206.83 L168.8,206.83 L169.3,206.82 L169.8,206.82 L170.3,206.81 L170.8,206.81 L171.3,206.81 L171.8,206.80 L172.3,206.80 L172.8,206.79 L173.3,206.78 L173.8,206.78 L174.3,206.77 L174.8,206.76 L175.3,206.75 L175.8,206.73 L176.3,206.72 L176.8,206.70 L177.3,206.69 L177.8,206.67 L178.3,206.65 L178.8,206.63 L179.3,206.61 L179.8,206.59 L180.3,206.57 L180.8,206.55 L181.3,206.52 L181.8,206.50 L182.3,206.47 L182.8,206.45 L183.3,206.42 L183.8,206.39 L184.3,206.36 L184.8,206.33 L185.3,206.30 L185.8,206.27 L186.3,206.24 L186.8,206.21 L187.3,206.17 L187.8,206.14 L188.3,206.10 L188.8,206.07 L189.3,206.03 L189.8,206.00 L190.3,205.96 L190.8,205.93 L191.3,205.89 L191.8,205.85 L192.3,205.81 L192.8,205.77 L193.3,205.73 L193.8,205.70 L194.3,205.66 L194.8,205.62 L195.3,205.58 L195.8,205.53 L196.3,205.49 L196.8,205.44 L197.3,205.38 L197.8,205.33 L198.3,205.27 L198.8,205.21 L199.3,205.15 L199.8,205.08 L200.3,205.01 L200.8,204.94 L201.3,204.87 L201.8,204.79 L202.3,204.72 L202.8,204.64 L203.3,204.55 L203.8,204.47 L204.3,204.38 L204.8,204.29 L205.3,204.20 L205.8,204.11 L206.3,204.02 L206.8,203.92 L207.3,203.83 L207.8,203.74 L208.3,203.64 L208.8,203.54 L209.3,203.44 L209.8,203.33 L210.3,203.22 L210.8,203.10 L211.3,202.97 L211.8,202.83 L212.3,202.67 L212.8,202.51 L213.3,202.33 L213.8,202.14 L214.3,201.92 L214.8,201.70 L215.3,201.43 L215.8,201.06 L216.3,200.58 L216.8,200.01 L217.3,199.36 L217.8,198.64 L218.3,197.87 L218.8,197.05 L219.3,196.20 L219.8,195.31 L220.3,194.00 L220.8,192.64 L221.3,191.93 L221.8,191.61 L222.3,191.38 L222.8,191.23 L223.3,191.16 L223.8,191.09 L224.3,191.03 L224.8,190.98 L225.3,190.93 L225.8,190.88 L226.3,190.83 L226.8,190.79 L227.3,190.76 L227.8,190.73 L228.3,190.70 L228.8,190.67 L229.3,190.65 L229.8,190.63 L230.3,190.62 L230.8,190.61 L231.3,190.60 L231.8,190.60 L232.3,190.60 L232.8,190.60 L233.3,190.61 L233.8,190.62 L234.2,214.8 Z" fill="#00ffc0"/>
<path d="M30.8,214.8 L30.8,189.42 L31.3,189.30 L31.8,189.18 L32.3,189.06 L32.8,188.94 L33.3,188.83 L33.8,188.73 L34.3,188.63 L34.8,188.53 L35.3,188.43 L35.8,188.34 L36.3,188.25 L36.8,188.17 L37.3,188.09 L37.8,188.01 L38.3,187.93 L38.8,187.86 L39.3,187.79 L39.8,187.73 L40.3,187.66 L40.8,187.60 L41.3,187.54 L41.8,187.49 L42.3,187.44 L42.8,187.39 L43.3,187.34 L43.8,187.30 L44.3,187.26 L44.8,187.22 L45.3,187.18 L45.8,187.14 L46.3,187.11 L46.8,187.08 L47.3,187.05 L47.8,187.02 L48.3,187.00 L48.8,186.98 L49.3,186.95 L49.8,186.94 L50.3,186.92 L50.8,186.90 L51.3,186.89 L51.8,186.87 L52.3,186.86 L52.8,186.85 L53.3,186.84 L53.8,186.83 L54.3,186.82 L54.8,186.82 L55.3,186.81 L55.8,186.81 L56.3,186.81 L56.8,186.80 L57.3,186.80 L57.8,186.80 L58.3,186.80 L58.8,186.80 L59.3,186.81 L59.8,186.82 L60.3,186.84 L60.8,186.86 L61.3,186.89 L61.8,186.93 L62.3,186.97 L62.8,187.01 L63.3,187.06 L63.8,187.12 L64.3,187.18 L64.8,187.24 L65.3,187.31 L65.8,187.38 L66.3,187.45 L66.8,187.53 L67.3,187.61 L67.8,187.70 L68.3,187.79 L68.8,187.88 L69.3,187.97 L69.8,188.07 L70.3,188.17 L70.8,188.27 L71.3,188.38 L71.8,188.48 L72.3,188.59 L72.8,188.70 L73.3,188.81 L73.8,188.92 L74.3,189.05 L74.8,189.20 L75.3,189.37 L75.8,189.55 L76.3,189.76 L76.8,189.98 L77.3,190.21 L77.8,190.46 L78.3,190.71 L78.8,190.98 L79.3,191.26 L79.8,191.54 L80.3,191.83 L80.8,192.13 L81.3,192.43 L81.8,192.73 L82.3,193.04 L82.8,193.34 L83.3,193.64 L83.8,193.94 L84.3,194.24 L84.8,194.57 L85.3,194.91 L85.8,195.26 L86.3,195.63 L86.8,196.01 L87.3,196.40 L87.8,196.79 L88.3,197.18 L88.8,197.58 L89.3,197.97 L89.8,198.35 L90.3,198.73 L90.8,199.09 L91.3,199.45 L91.8,199.78 L92.3,200.10 L92.8,200.40 L93.3,200.69 L93.8,200.98 L94.3,201.27 L94.8,201.57 L95.3,201.86 L95.8,202.16 L96.3,202.45 L96.8,202.73 L97.3,203.01 L97.8,203.27 L98.3,203.53 L98.8,203.78 L99.3,204.01 L99.8,204.23 L100.3,204.44 L100.8,204.62 L101.3,204.79 L101.8,204.94 L102.3,205.06 L102.8,205.17 L103.3,205.25 L103.8,205.32 L104.3,205.39 L104.8,205.46 L105.3,205.52 L105.8,205.58 L106.3,205.64 L106.8,205.69 L107.3,205.74 L107.8,205.79 L108.3,205.84 L108.8,205.88 L109.3,205.92 L109.8,205.96 L110.3,206.00 L110.8,206.04 L111.3,206.08 L111.8,206.11 L112.3,206.15 L112.8,206.18 L113.3,206.21 L113.8,206.25 L114.3,206.28 L114.8,206.32 L115.3,206.35 L115.8,206.39 L116.3,206.42 L116.8,206.46 L117.3,206.50 L117.8,206.54 L118.3,206.58 L118.8,206.63 L119.3,206.67 L119.8,206.72 L120.3,206.78 L120.8,206.83 L121.3,206.89 L121.8,206.94 L122.3,207.00 L122.8,207.05 L123.3,207.11 L123.8,207.16 L124.3,207.22 L124.8,207.27 L125.3,207.32 L125.8,207.37 L126.3,207.41 L126.8,207.45 L127.3,207.49 L127.8,207.52 L128.3,207.55 L128.8,207.57 L129.3,207.59 L129.8,207.60 L130.3,207.60 L130.8,207.61 L131.3,207.61 L131.8,207.62 L132.3,207.62 L132.8,207.63 L133.3,207.63 L133.8,207.64 L134.3,207.64 L134.8,207.64 L135.3,207.65 L135.8,207.65 L136.3,207.65 L136.8,207.66 L137.3,207.66 L137.8,207.66 L138.3,207.67 L138.8,207.67 L139.3,207.67 L139.8,207.67 L140.3,207.68 L140.8,207.68 L141.3,207.68 L141.8,207.68 L142.3,207.69 L142.8,207.69 L143.3,207.69 L143.8,207.69 L144.3,207.69 L144.8,207.69 L145.3,207.69 L145.8,207.70 L146.3,207.70 L146.8,207.70 L147.3,207.70 L147.8,207.70 L148.3,207.70 L148.8,207.70 L149.3,207.70 L149.8,207.70 L150.3,207.70 L150.8,207.70 L151.3,207.70 L151.8,207.70 L152.3,207.70 L152.8,207.70 L153.3,207.69 L153.8,207.69 L154.3,207.69 L154.8,207.69 L155.3,207.69 L155.8,207.68 L156.3,207.68 L156.8,207.68 L157.3,207.67 L157.8,207.67 L158.3,207.66 L158.8,207.66 L159.3,207.66 L159.8,207.65 L160.3,207.65 L160.8,207.64 L161.3,207.64 L161.8,207.63 L162.3,207.63 L162.8,207.62 L163.3,207.62 L163.8,207.61 L164.3,207.60 L164.8,207.60 L165.3,207.59 L165.8,207.59 L166.3,207.58 L166.8,207.57 L167.3,207.57 L167.8,207.56 L168.3,207.55 L168.8,207.55 L169.3,207.54 L169.8,207.53 L170.3,207.52 L170.8,207.52 L171.3,207.51 L171.8,207.50 L172.3,207.50 L172.8,207.49 L173.3,207.48 L173.8,207.47 L174.3,207.46 L174.8,207.45 L175.3,207.44 L175.8,207.43 L176.3,207.42 L176.8,207.40 L177.3,207.39 L177.8,207.38 L178.3,207.36 L178.8,207.35 L179.3,207.34 L179.8,207.32 L180.3,207.30 L180.8,207.29 L181.3,207.27 L181.8,207.25 L182.3,207.23 L182.8,207.22 L183.3,207.20 L183.8,207.18 L184.3,207.16 L184.8,207.14 L185.3,207.11 L185.8,207.09 L186.3,207.07 L186.8,207.05 L187.3,207.02 L187.8,207.00 L188.3,206.98 L188.8,206.95 L189.3,206.93 L189.8,206.90 L190.3,206.87 L190.8,206.85 L191.3,206.82 L191.8,206.79 L192.3,206.76 L192.8,206.73 L193.3,206.70 L193.8,206.67 L194.3,206.64 L194.8,206.61 L195.3,206.58 L195.8,206.54 L196.3,206.51 L196.8,206.46 L197.3,206.42 L197.8,206.37 L198.3,206.31 L198.8,206.26 L199.3,206.20 L199.8,206.14 L200.3,206.08 L200.8,206.02 L201.3,205.95 L201.8,205.88 L202.3,205.81 L202.8,205.74 L203.3,205.67 L203.8,205.59 L204.3,205.52 L204.8,205.44 L205.3,205.37 L205.8,205.29 L206.3,205.22 L206.8,205.14 L207.3,205.07 L207.8,205.00 L208.3,204.93 L208.8,204.87 L209.3,204.80 L209.8,204.73 L210.3,204.65 L210.8,204.57 L211.3,204.48 L211.8,204.39 L212.3,204.28 L212.8,204.17 L213.3,204.04 L213.8,203.90 L214.3,203.74 L214.8,203.57 L215.3,203.36 L215.8,203.02 L216.3,202.56 L216.8,201.98 L217.3,201.29 L217.8,200.52 L218.3,199.66 L218.8,198.73 L219.3,197.75 L219.8,196.71 L220.3,195.24 L220.8,193.30 L221.3,192.32 L221.8,191.99 L222.3,191.76 L222.8,191.63 L223.3,191.56 L223.8,191.51 L224.3,191.46 L224.8,191.41 L225.3,191.37 L225.8,191.33 L226.3,191.29 L226.8,191.26 L227.3,191.23 L227.8,191.20 L228.3,191.18 L228.8,191.16 L229.3,191.14 L229.8,191.13 L230.3,191.12 L230.8,191.11 L231.3,191.10 L231.8,191.10 L232.3,191.10 L232.8,191.10 L233.3,191.11 L233.8,191.12 L234.2,214.8 Z" fill="#00ff90"/>
<path d="M30.8,214.8 L30.8,190.71 L31.3,190.58 L31.8,190.47 L32.3,190.35 L32.8,190.24 L33.3,190.14 L33.8,190.04 L34.3,189.94 L34.8,189.85 L35.3,189.76 L35.8,189.67 L36.3,189.59 L36.8,189.51 L37.3,189.43 L37.8,189.36 L38.3,189.29 L38.8,189.23 L39.3,189.17 L39.8,189.11 L40.3,189.05 L40.8,189.00 L41.3,188.95 L41.8,188.91 L42.3,188.86 L42.8,188.82 L43.3,188.78 L43.8,188.74 L44.3,188.71 L44.8,188.68 L45.3,188.65 L45.8,188.62 L46.3,188.60 L46.8,188.57 L47.3,188.55 L47.8,188.53 L48.3,188.52 L48.8,188.50 L49.3,188.48 L49.8,188.47 L50.3,188.46 L50.8,188.45 L51.3,188.44 L51.8,188.43 L52.3,188.43 L52.8,188.42 L53.3,188.42 L53.8,188.41 L54.3,188.41 L54.8,188.41 L55.3,188.40 L55.8,188.40 L56.3,188.40 L56.8,188.40 L57.3,188.40 L57.8,188.40 L58.3,188.40 L58.8,188.40 L59.3,188.41 L59.8,188.43 L60.3,188.46 L60.8,188.50 L61.3,188.55 L61.8,188.61 L62.3,188.68 L62.8,188.75 L63.3,188.83 L63.8,188.92 L64.3,189.01 L64.8,189.11 L65.3,189.22 L65.8,189.33 L66.3,189.45 L66.8,189.57 L67.3,189.70 L67.8,189.83 L68.3,189.96 L68.8,190.10 L69.3,190.24 L69.8,190.38 L70.3,190.53 L70.8,190.68 L71.3,190.83 L71.8,191.00 L72.3,191.21 L72.8,191.44 L73.3,191.70 L73.8,191.98 L74.3,192.28 L74.8,192.60 L75.3,192.93 L75.8,193.28 L76.3,193.64 L76.8,194.01 L77.3,194.38 L77.8,194.76 L78.3,195.15 L78.8,195.53 L79.3,195.91 L79.8,196.28 L80.3,196.65 L80.8,197.04 L81.3,197.45 L81.8,197.89 L82.3,198.34 L82.8,198.80 L83.3,199.26 L83.8,199.73 L84.3,200.19 L84.8,200.65 L85.3,201.09 L85.8,201.52 L86.3,201.92 L86.8,202.30 L87.3,202.65 L87.8,202.96 L88.3,203.26 L88.8,203.56 L89.3,203.85 L89.8,204.14 L90.3,204.42 L90.8,204.70 L91.3,204.97 L91.8,205.23 L92.3,205.48 L92.8,205.72 L93.3,205.94 L93.8,206.15 L94.3,206.34 L94.8,206.52 L95.3,206.68 L95.8,206.82 L96.3,206.94 L96.8,207.04 L97.3,207.13 L97.8,207.22 L98.3,207.31 L98.8,207.40 L99.3,207.48 L99.8,207.55 L100.3,207.62 L100.8,207.68 L101.3,207.72 L101.8,207.76 L102.3,207.79 L102.8,207.80 L103.3,207.80 L103.8,207.80 L104.3,207.80 L104.8,207.80 L105.3,207.80 L105.8,207.80 L106.3,207.80 L106.8,207.80 L107.3,207.80 L107.8,207.80 L108.3,207.80 L108.8,207.80 L109.3,207.80 L109.8,207.80 L110.3,207.80 L110.8,207.80 L111.3,207.80 L111.8,207.80 L112.3,207.80 L112.8,207.80 L113.3,207.80 L113.8,207.80 L114.3,207.80 L114.8,207.80 L115.3,207.80 L115.8,207.80 L116.3,207.80 L116.8,207.80 L117.3,207.80 L117.8,207.80 L118.3,207.80 L118.8,207.80 L119.3,207.81 L119.8,207.83 L120.3,207.85 L120.8,207.88 L121.3,207.92 L121.8,207.96 L122.3,208.00 L122.8,208.05 L123.3,208.10 L123.8,208.15 L124.3,208.21 L124.8,208.26 L125.3,208.31 L125.8,208.36 L126.3,208.40 L126.8,208.45 L127.3,208.49 L127.8,208.52 L128.3,208.55 L128.8,208.58 L129.3,208.59 L129.8,208.60 L130.3,208.60 L130.8,208.60 L131.3,208.60 L131.8,208.60 L132.3,208.59 L132.8,208.59 L133.3,208.59 L133.8,208.59 L134.3,208.58 L134.8,208.58 L135.3,208.58 L135.8,208.57 L136.3,208.57 L136.8,208.56 L137.3,208.56 L137.8,208.55 L138.3,208.54 L138.8,208.54 L139.3,208.53 L139.8,208.53 L140.3,208.52 L140.8,208.51 L141.3,208.51 L141.8,208.50 L142.3,208.49 L142.8,208.49 L143.3,208.48 L143.8,208.47 L144.3,208.47 L144.8,208.46 L145.3,208.45 L145.8,208.45 L146.3,208.44 L146.8,208.44 L147.3,208.43 L147.8,208.42 L148.3,208.42 L148.8,208.41 L149.3,208.41 L149.8,208.40 L150.3,208.40 L150.8,208.39 L151.3,208.39 L151.8,208.38 L152.3,208.38 L152.8,208.37 L153.3,208.37 L153.8,208.37 L154.3,208.36 L154.8,208.36 L155.3,208.35 L155.8,208.35 L156.3,208.35 L156.8,208.34 L157.3,208.34 L157.8,208.34 L158.3,208.33 L158.8,208.33 L159.3,208.32 L159.8,208.32 L160.3,208.32 L160.8,208.31 L161.3,208.31 L161.8,208.30 L162.3,208.30 L162.8,208.30 L163.3,208.29 L163.8,208.29 L164.3,208.28 L164.8,208.28 L165.3,208.27 L165.8,208.27 L166.3,208.26 L166.8,208.26 L167.3,208.25 L167.8,208.25 L168.3,208.24 L168.8,208.24 L169.3,208.23 L169.8,208.23 L170.3,208.22 L170.8,208.22 L171.3,208.21 L171.8,208.20 L172.3,208.20 L172.8,208.19 L173.3,208.18 L173.8,208.18 L174.3,208.17 L174.8,208.16 L175.3,208.15 L175.8,208.15 L176.3,208.14 L176.8,208.13 L177.3,208.12 L177.8,208.11 L178.3,208.11 L178.8,208.10 L179.3,208.09 L179.8,208.08 L180.3,208.07 L180.8,208.06 L181.3,208.05 L181.8,208.04 L182.3,208.03 L182.8,208.02 L183.3,208.01 L183.8,208.00 L184.3,207.99 L184.8,207.97 L185.3,207.96 L185.8,207.95 L186.3,207.94 L186.8,207.92 L187.3,207.91 L187.8,207.90 L188.3,207.88 L188.8,207.87 L189.3,207.85 L189.8,207.84 L190.3,207.82 L190.8,207.81 L191.3,207.79 L191.8,207.78 L192.3,207.76 L192.8,207.74 L193.3,207.72 L193.8,207.70 L194.3,207.69 L194.8,207.67 L195.3,207.65 L195.8,207.63 L196.3,207.61 L196.8,207.58 L197.3,207.56 L197.8,207.54 L198.3,207.52 L198.8,207.50 L199.3,207.47 L199.8,207.44 L200.3,207.40 L200.8,207.36 L201.3,207.32 L201.8,207.27 L202.3,207.22 L202.8,207.17 L203.3,207.11 L203.8,207.06 L204.3,206.99 L204.8,206.93 L205.3,206.87 L205.8,206.80 L206.3,206.73 L206.8,206.66 L207.3,206.59 L207.8,206.52 L208.3,206.45 L208.8,206.37 L209.3,206.30 L209.8,206.23 L210.3,206.16 L210.8,206.09 L211.3,206.03 L211.8,205.96 L212.3,205.89 L212.8,205.82 L213.3,205.73 L213.8,205.63 L214.3,205.50 L214.8,205.36 L215.3,205.17 L215.8,204.82 L216.3,204.31 L216.8,203.69 L217.3,202.95 L217.8,202.14 L218.3,201.27 L218.8,200.37 L219.3,199.40 L219.8,198.16 L220.3,196.65 L220.8,194.24 L221.3,192.60 L221.8,192.27 L222.3,192.05 L222.8,191.93 L223.3,191.87 L223.8,191.83 L224.3,191.78 L224.8,191.75 L225.3,191.71 L225.8,191.68 L226.3,191.65 L226.8,191.62 L227.3,191.60 L227.8,191.58 L228.3,191.56 L228.8,191.54 L229.3,191.53 L229.8,191.52 L230.3,191.51 L230.8,191.51 L231.3,191.50 L231.8,191.50 L232.3,191.50 L232.8,191.50 L233.3,191.51 L233.8,191.51 L234.2,214.8 Z" fill="#10ff60"/>
<path d="M30.8,214.8 L30.8,191.30 L31.3,191.30 L31.8,191.30 L32.3,191.30 L32.8,191.30 L33.3,191.30 L33.8,191.30 L34.3,191.30 L34.8,191.30 L35.3,191.30 L35.8,191.29 L36.3,191.29 L36.8,191.29 L37.3,191.29 L37.8,191.28 L38.3,191.28 L38.8,191.28 L39.3,191.27 L39.8,191.27 L40.3,191.26 L40.8,191.26 L41.3,191.25 L41.8,191.25 L42.3,191.24 L42.8,191.24 L43.3,191.23 L43.8,191.23 L44.3,191.22 L44.8,191.21 L45.3,191.21 L45.8,191.20 L46.3,191.19 L46.8,191.17 L47.3,191.14 L47.8,191.11 L48.3,191.07 L48.8,191.03 L49.3,190.98 L49.8,190.93 L50.3,190.88 L50.8,190.82 L51.3,190.77 L51.8,190.71 L52.3,190.65 L52.8,190.60 L53.3,190.54 L53.8,190.49 L54.3,190.44 L54.8,190.39 L55.3,190.35 L55.8,190.31 L56.3,190.27 L56.8,190.25 L57.3,190.22 L57.8,190.21 L58.3,190.20 L58.8,190.20 L59.3,190.22 L59.8,190.25 L60.3,190.30 L60.8,190.36 L61.3,190.44 L61.8,190.52 L62.3,190.62 L62.8,190.74 L63.3,190.86 L63.8,190.99 L64.3,191.14 L64.8,191.29 L65.3,191.45 L65.8,191.62 L66.3,191.80 L66.8,191.98 L67.3,192.18 L67.8,192.37 L68.3,192.58 L68.8,192.79 L69.3,193.08 L69.8,193.44 L70.3,193.86 L70.8,194.35 L71.3,194.87 L71.8,195.43 L72.3,196.02 L72.8,196.61 L73.3,197.21 L73.8,197.79 L74.3,198.36 L74.8,198.90 L75.3,199.41 L75.8,199.93 L76.3,200.48 L76.8,201.04 L77.3,201.61 L77.8,202.17 L78.3,202.72 L78.8,203.26 L79.3,203.77 L79.8,204.25 L80.3,204.69 L80.8,205.09 L81.3,205.44 L81.8,205.74 L82.3,206.05 L82.8,206.35 L83.3,206.64 L83.8,206.93 L84.3,207.21 L84.8,207.47 L85.3,207.73 L85.8,207.97 L86.3,208.20 L86.8,208.41 L87.3,208.61 L87.8,208.78 L88.3,208.93 L88.8,209.06 L89.3,209.17 L89.8,209.25 L90.3,209.30 L90.8,209.34 L91.3,209.37 L91.8,209.41 L92.3,209.44 L92.8,209.47 L93.3,209.50 L93.8,209.53 L94.3,209.56 L94.8,209.59 L95.3,209.61 L95.8,209.63 L96.3,209.66 L96.8,209.68 L97.3,209.70 L97.8,209.71 L98.3,209.73 L98.8,209.74 L99.3,209.76 L99.8,209.77 L100.3,209.78 L100.8,209.78 L101.3,209.79 L101.8,209.80 L102.3,209.80 L102.8,209.80 L103.3,209.80 L103.8,209.80 L104.3,209.79 L104.8,209.78 L105.3,209.76 L105.8,209.75 L106.3,209.73 L106.8,209.70 L107.3,209.68 L107.8,209.66 L108.3,209.63 L108.8,209.60 L109.3,209.57 L109.8,209.54 L110.3,209.51 L110.8,209.48 L111.3,209.45 L111.8,209.42 L112.3,209.39 L112.8,209.37 L113.3,209.34 L113.8,209.31 L114.3,209.29 L114.8,209.27 L115.3,209.25 L115.8,209.23 L116.3,209.22 L116.8,209.21 L117.3,209.20 L117.8,209.20 L118.3,209.20 L118.8,209.20 L119.3,209.21 L119.8,209.22 L120.3,209.23 L120.8,209.24 L121.3,209.26 L121.8,209.27 L122.3,209.29 L122.8,209.31 L123.3,209.32 L123.8,209.34 L124.3,209.36 L124.8,209.38 L125.3,209.40 L125.8,209.42 L126.3,209.43 L126.8,209.45 L127.3,209.46 L127.8,209.47 L128.3,209.48 L128.8,209.49 L129.3,209.50 L129.8,209.50 L130.3,209.50 L130.8,209.50 L131.3,209.50 L131.8,209.49 L132.3,209.49 L132.8,209.48 L133.3,209.48 L133.8,209.47 L134.3,209.46 L134.8,209.46 L135.3,209.45 L135.8,209.44 L136.3,209.43 L136.8,209.42 L137.3,209.41 L137.8,209.40 L138.3,209.38 L138.8,209.37 L139.3,209.36 L139.8,209.35 L140.3,209.33 L140.8,209.32 L141.3,209.31 L141.8,209.29 L142.3,209.28 L142.8,209.27 L143.3,209.25 L143.8,209.24 L144.3,209.23 L144.8,209.21 L145.3,209.20 L145.8,209.19 L146.3,209.18 L146.8,209.16 L147.3,209.15 L147.8,209.14 L148.3,209.13 L148.8,209.12 L149.3,209.11 L149.8,209.10 L150.3,209.10 L150.8,209.09 L151.3,209.08 L151.8,209.07 L152.3,209.06 L152.8,209.06 L153.3,209.05 L153.8,209.04 L154.3,209.03 L154.8,209.03 L155.3,209.02 L155.8,209.01 L156.3,209.01 L156.8,209.00 L157.3,208.99 L157.8,208.99 L158.3,208.98 L158.8,208.97 L159.3,208.97 L159.8,208.96 L160.3,208.95 L160.8,208.95 L161.3,208.94 L161.8,208.93 L162.3,208.93 L162.8,208.92 L163.3,208.92 L163.8,208.91 L164.3,208.90 L164.8,208.90 L165.3,208.89 L165.8,208.88 L166.3,208.88 L166.8,208.87 L167.3,208.86 L167.8,208.86 L168.3,208.85 L168.8,208.84 L169.3,208.84 L169.8,208.83 L170.3,208.82 L170.8,208.82 L171.3,208.81 L171.8,208.80 L172.3,208.80 L172.8,208.79 L173.3,208.78 L173.8,208.78 L174.3,208.77 L174.8,208.76 L175.3,208.76 L175.8,208.75 L176.3,208.75 L176.8,208.74 L177.3,208.73 L177.8,208.73 L178.3,208.72 L178.8,208.72 L179.3,208.71 L179.8,208.71 L180.3,208.70 L180.8,208.70 L181.3,208.69 L181.8,208.69 L182.3,208.68 L182.8,208.68 L183.3,208.67 L183.8,208.67 L184.3,208.66 L184.8,208.65 L185.3,208.65 L185.8,208.64 L186.3,208.64 L186.8,208.63 L187.3,208.62 L187.8,208.62 L188.3,208.61 L188.8,208.60 L189.3,208.60 L189.8,208.59 L190.3,208.58 L190.8,208.57 L191.3,208.56 L191.8,208.56 L192.3,208.55 L192.8,208.54 L193.3,208.53 L193.8,208.52 L194.3,208.51 L194.8,208.50 L195.3,208.49 L195.8,208.47 L196.3,208.46 L196.8,208.45 L197.3,208.44 L197.8,208.42 L198.3,208.41 L198.8,208.40 L199.3,208.38 L199.8,208.36 L200.3,208.34 L200.8,208.31 L201.3,208.28 L201.8,208.24 L202.3,208.20 L202.8,208.16 L203.3,208.12 L203.8,208.07 L204.3,208.02 L204.8,207.97 L205.3,207.91 L205.8,207.85 L206.3,207.79 L206.8,207.73 L207.3,207.66 L207.8,207.60 L208.3,207.53 L208.8,207.45 L209.3,207.38 L209.8,207.30 L210.3,207.23 L210.8,207.15 L211.3,207.06 L211.8,206.98 L212.3,206.90 L212.8,206.81 L213.3,206.72 L213.8,206.64 L214.3,206.55 L214.8,206.45 L215.3,206.35 L215.8,206.22 L216.3,206.07 L216.8,205.89 L217.3,205.64 L217.8,205.23 L218.3,204.67 L218.8,203.92 L219.3,203.00 L219.8,201.26 L220.3,198.72 L220.8,195.83 L221.3,192.98 L221.8,192.54 L222.3,192.33 L222.8,192.22 L223.3,192.18 L223.8,192.14 L224.3,192.11 L224.8,192.08 L225.3,192.05 L225.8,192.03 L226.3,192.01 L226.8,191.99 L227.3,191.97 L227.8,191.96 L228.3,191.94 L228.8,191.93 L229.3,191.92 L229.8,191.91 L230.3,191.91 L230.8,191.90 L231.3,191.90 L231.8,191.90 L232.3,191.90 L232.8,191.90 L233.3,191.90 L233.8,191.91 L234.2,214.8 Z" fill="#30ff30"/>
<path d="M30.8,214.8 L30.8,192.14 L31.3,192.11 L31.8,192.09 L32.3,192.06 L32.8,192.04 L33.3,192.02 L33.8,192.01 L34.3,191.99 L34.8,191.98 L35.3,191.96 L35.8,191.95 L36.3,191.94 L36.8,191.94 L37.3,191.93 L37.8,191.92 L38.3,191.92 L38.8,191.91 L39.3,191.91 L39.8,191.91 L40.3,191.90 L40.8,191.90 L41.3,191.90 L41.8,191.90 L42.3,191.90 L42.8,191.90 L43.3,191.90 L43.8,191.98 L44.3,192.32 L44.8,192.60 L45.3,192.69 L45.8,192.76 L46.3,192.88 L46.8,193.07 L47.3,193.31 L47.8,193.60 L48.3,193.92 L48.8,194.27 L49.3,194.62 L49.8,194.99 L50.3,195.34 L50.8,195.67 L51.3,195.99 L51.8,196.30 L52.3,196.61 L52.8,196.92 L53.3,197.24 L53.8,197.55 L54.3,197.87 L54.8,198.19 L55.3,198.52 L55.8,198.85 L56.3,199.18 L56.8,199.52 L57.3,199.86 L57.8,200.21 L58.3,200.59 L58.8,200.98 L59.3,201.39 L59.8,201.81 L60.3,202.24 L60.8,202.67 L61.3,203.11 L61.8,203.55 L62.3,203.99 L62.8,204.42 L63.3,204.85 L63.8,205.26 L64.3,205.66 L64.8,206.04 L65.3,206.39 L65.8,206.73 L66.3,207.04 L66.8,207.31 L67.3,207.56 L67.8,207.77 L68.3,207.99 L68.8,208.21 L69.3,208.42 L69.8,208.63 L70.3,208.84 L70.8,209.04 L71.3,209.23 L71.8,209.41 L72.3,209.58 L72.8,209.73 L73.3,209.88 L73.8,210.01 L74.3,210.12 L74.8,210.22 L75.3,210.30 L75.8,210.35 L76.3,210.39 L76.8,210.41 L77.3,210.43 L77.8,210.44 L78.3,210.46 L78.8,210.47 L79.3,210.48 L79.8,210.50 L80.3,210.51 L80.8,210.52 L81.3,210.53 L81.8,210.54 L82.3,210.55 L82.8,210.56 L83.3,210.57 L83.8,210.57 L84.3,210.58 L84.8,210.58 L85.3,210.59 L85.8,210.59 L86.3,210.60 L86.8,210.60 L87.3,210.60 L87.8,210.60 L88.3,210.60 L88.8,210.60 L89.3,210.60 L89.8,210.59 L90.3,210.59 L90.8,210.58 L91.3,210.58 L91.8,210.57 L92.3,210.56 L92.8,210.55 L93.3,210.54 L93.8,210.53 L94.3,210.52 L94.8,210.51 L95.3,210.50 L95.8,210.49 L96.3,210.48 L96.8,210.47 L97.3,210.46 L97.8,210.46 L98.3,210.45 L98.8,210.44 L99.3,210.43 L99.8,210.42 L100.3,210.42 L100.8,210.41 L101.3,210.41 L101.8,210.40 L102.3,210.40 L102.8,210.40 L103.3,210.40 L103.8,210.40 L104.3,210.40 L104.8,210.40 L105.3,210.40 L105.8,210.40 L106.3,210.40 L106.8,210.40 L107.3,210.40 L107.8,210.40 L108.3,210.40 L108.8,210.40 L109.3,210.40 L109.8,210.40 L110.3,210.40 L110.8,210.40 L111.3,210.40 L111.8,210.40 L112.3,210.40 L112.8,210.40 L113.3,210.40 L113.8,210.40 L114.3,210.40 L114.8,210.40 L115.3,210.40 L115.8,210.40 L116.3,210.40 L116.8,210.40 L117.3,210.40 L117.8,210.40 L118.3,210.40 L118.8,210.40 L119.3,210.40 L119.8,210.40 L120.3,210.40 L120.8,210.40 L121.3,210.40 L121.8,210.40 L122.3,210.40 L122.8,210.40 L123.3,210.40 L123.8,210.40 L124.3,210.40 L124.8,210.40 L125.3,210.40 L125.8,210.40 L126.3,210.40 L126.8,210.40 L127.3,210.40 L127.8,210.40 L128.3,210.40 L128.8,210.40 L129.3,210.40 L129.8,210.40 L130.3,210.40 L130.8,210.40 L131.3,210.40 L131.8,210.40 L132.3,210.40 L132.8,210.40 L133.3,210.40 L133.8,210.40 L134.3,210.40 L134.8,210.40 L135.3,210.40 L135.8,210.40 L136.3,210.40 L136.8,210.40 L137.3,210.40 L137.8,210.39 L138.3,210.39 L138.8,210.39 L139.3,210.39 L139.8,210.39 L140.3,210.39 L140.8,210.39 L141.3,210.39 L141.8,210.39 L142.3,210.39 L142.8,210.39 L143.3,210.38 L143.8,210.38 L144.3,210.38 L144.8,210.38 L145.3,210.38 L145.8,210.38 L146.3,210.38 L146.8,210.38 L147.3,210.38 L147.8,210.37 L148.3,210.37 L148.8,210.37 L149.3,210.37 L149.8,210.37 L150.3,210.37 L150.8,210.37 L151.3,210.36 L151.8,210.36 L152.3,210.36 L152.8,210.36 L153.3,210.36 L153.8,210.36 L154.3,210.36 L154.8,210.35 L155.3,210.35 L155.8,210.35 L156.3,210.35 L156.8,210.35 L157.3,210.35 L157.8,210.34 L158.3,210.34 L158.8,210.34 L159.3,210.34 L159.8,210.34 L160.3,210.34 L160.8,210.33 L161.3,210.33 L161.8,210.33 L162.3,210.33 L162.8,210.33 L163.3,210.33 L163.8,210.33 L164.3,210.32 L164.8,210.32 L165.3,210.32 L165.8,210.32 L166.3,210.32 L166.8,210.32 L167.3,210.31 L167.8,210.31 L168.3,210.31 L168.8,210.31 L169.3,210.31 L169.8,210.31 L170.3,210.31 L170.8,210.30 L171.3,210.30 L171.8,210.30 L172.3,210.30 L172.8,210.30 L173.3,210.30 L173.8,210.30 L174.3,210.29 L174.8,210.29 L175.3,210.29 L175.8,210.29 L176.3,210.29 L176.8,210.29 L177.3,210.29 L177.8,210.29 L178.3,210.28 L178.8,210.28 L179.3,210.28 L179.8,210.28 L180.3,210.28 L180.8,210.28 L181.3,210.28 L181.8,210.28 L182.3,210.27 L182.8,210.27 L183.3,210.27 L183.8,210.27 L184.3,210.27 L184.8,210.27 L185.3,210.27 L185.8,210.27 L186.3,210.26 L186.8,210.26 L187.3,210.26 L187.8,210.26 L188.3,210.26 L188.8,210.26 L189.3,210.25 L189.8,210.25 L190.3,210.25 L190.8,210.25 L191.3,210.25 L191.8,210.25 L192.3,210.24 L192.8,210.24 L193.3,210.24 L193.8,210.24 L194.3,210.23 L194.8,210.23 L195.3,210.23 L195.8,210.23 L196.3,210.22 L196.8,210.22 L197.3,210.22 L197.8,210.21 L198.3,210.21 L198.8,210.21 L199.3,210.20 L199.8,210.20 L200.3,210.20 L200.8,210.19 L201.3,210.19 L201.8,210.18 L202.3,210.18 L202.8,210.17 L203.3,210.16 L203.8,210.15 L204.3,210.14 L204.8,210.13 L205.3,210.12 L205.8,210.10 L206.3,210.09 L206.8,210.07 L207.3,210.05 L207.8,210.03 L208.3,210.01 L208.8,209.99 L209.3,209.97 L209.8,209.95 L210.3,209.92 L210.8,209.89 L211.3,209.86 L211.8,209.83 L212.3,209.80 L212.8,209.77 L213.3,209.73 L213.8,209.70 L214.3,209.66 L214.8,209.62 L215.3,209.57 L215.8,209.50 L216.3,209.39 L216.8,209.25 L217.3,209.08 L217.8,208.87 L218.3,208.62 L218.8,208.33 L219.3,207.96 L219.8,207.30 L220.3,206.09 L220.8,201.96 L221.3,194.33 L221.8,192.86 L222.3,192.62 L222.8,192.52 L223.3,192.48 L223.8,192.46 L224.3,192.44 L224.8,192.42 L225.3,192.40 L225.8,192.38 L226.3,192.37 L226.8,192.36 L227.3,192.34 L227.8,192.33 L228.3,192.33 L228.8,192.32 L229.3,192.31 L229.8,192.31 L230.3,192.30 L230.8,192.30 L231.3,192.30 L231.8,192.30 L232.3,192.30 L232.8,192.30 L233.3,192.30 L233.8,192.30 L234.2,214.8 Z" fill="#60ff00"/>
<path d="M30.8,214.8 L30.8,192.54 L31.3,192.51 L31.8,192.49 L32.3,192.46 L32.8,192.44 L33.3,192.42 L33.8,192.41 L34.3,192.39 L34.8,192.38 L35.3,192.36 L35.8,192.35 L36.3,192.34 L36.8,192.34 L37.3,192.33 L37.8,192.32 L38.3,192.32 L38.8,192.31 L39.3,192.31 L39.8,192.31 L40.3,192.30 L40.8,192.30 L41.3,192.30 L41.8,192.30 L42.3,192.30 L42.8,192.30 L43.3,192.30 L43.8,192.48 L44.3,193.30 L44.8,194.15 L45.3,194.97 L45.8,195.75 L46.3,196.33 L46.8,196.83 L47.3,197.29 L47.8,197.72 L48.3,198.11 L48.8,198.48 L49.3,198.84 L49.8,199.18 L50.3,199.52 L50.8,199.86 L51.3,200.21 L51.8,200.55 L52.3,200.88 L52.8,201.20 L53.3,201.51 L53.8,201.82 L54.3,202.12 L54.8,202.42 L55.3,202.71 L55.8,203.00 L56.3,203.30 L56.8,203.59 L57.3,203.88 L57.8,204.18 L58.3,204.49 L58.8,204.80 L59.3,205.12 L59.8,205.45 L60.3,205.77 L60.8,206.09 L61.3,206.41 L61.8,206.73 L62.3,207.03 L62.8,207.33 L63.3,207.61 L63.8,207.88 L64.3,208.12 L64.8,208.35 L65.3,208.56 L65.8,208.74 L66.3,208.89 L66.8,209.05 L67.3,209.20 L67.8,209.35 L68.3,209.50 L68.8,209.64 L69.3,209.78 L69.8,209.92 L70.3,210.05 L70.8,210.17 L71.3,210.29 L71.8,210.39 L72.3,210.49 L72.8,210.58 L73.3,210.66 L73.8,210.73 L74.3,210.79 L74.8,210.84 L75.3,210.87 L75.8,210.90 L76.3,210.90 L76.8,210.91 L77.3,210.92 L77.8,210.93 L78.3,210.93 L78.8,210.94 L79.3,210.95 L79.8,210.95 L80.3,210.96 L80.8,210.96 L81.3,210.97 L81.8,210.97 L82.3,210.98 L82.8,210.98 L83.3,210.98 L83.8,210.99 L84.3,210.99 L84.8,210.99 L85.3,210.99 L85.8,211.00 L86.3,211.00 L86.8,211.00 L87.3,211.00 L87.8,211.00 L88.3,211.00 L88.8,211.00 L89.3,211.00 L89.8,211.00 L90.3,211.00 L90.8,211.00 L91.3,211.00 L91.8,211.00 L92.3,211.00 L92.8,211.00 L93.3,211.00 L93.8,211.00 L94.3,211.00 L94.8,211.00 L95.3,210.99 L95.8,210.99 L96.3,210.99 L96.8,210.99 L97.3,210.99 L97.8,210.99 L98.3,210.99 L98.8,210.99 L99.3,210.99 L99.8,210.99 L100.3,210.99 L100.8,210.98 L101.3,210.98 L101.8,210.98 L102.3,210.98 L102.8,210.98 L103.3,210.98 L103.8,210.98 L104.3,210.98 L104.8,210.98 L105.3,210.97 L105.8,210.97 L106.3,210.97 L106.8,210.97 L107.3,210.97 L107.8,210.97 L108.3,210.97 L108.8,210.96 L109.3,210.96 L109.8,210.96 L110.3,210.96 L110.8,210.96 L111.3,210.96 L111.8,210.96 L112.3,210.95 L112.8,210.95 L113.3,210.95 L113.8,210.95 L114.3,210.95 L114.8,210.95 L115.3,210.94 L115.8,210.94 L116.3,210.94 L116.8,210.94 L117.3,210.94 L117.8,210.94 L118.3,210.93 L118.8,210.93 L119.3,210.93 L119.8,210.93 L120.3,210.93 L120.8,210.93 L121.3,210.93 L121.8,210.92 L122.3,210.92 L122.8,210.92 L123.3,210.92 L123.8,210.92 L124.3,210.92 L124.8,210.91 L125.3,210.91 L125.8,210.91 L126.3,210.91 L126.8,210.91 L127.3,210.91 L127.8,210.91 L128.3,210.90 L128.8,210.90 L129.3,210.90 L129.8,210.90 L130.3,210.90 L130.8,210.90 L131.3,210.90 L131.8,210.90 L132.3,210.89 L132.8,210.89 L133.3,210.89 L133.8,210.89 L134.3,210.89 L134.8,210.89 L135.3,210.89 L135.8,210.89 L136.3,210.89 L136.8,210.88 L137.3,210.88 L137.8,210.88 L138.3,210.88 L138.8,210.88 L139.3,210.88 L139.8,210.88 L140.3,210.88 L140.8,210.88 L141.3,210.87 L141.8,210.87 L142.3,210.87 L142.8,210.87 L143.3,210.87 L143.8,210.87 L144.3,210.87 L144.8,210.87 L145.3,210.87 L145.8,210.87 L146.3,210.87 L146.8,210.86 L147.3,210.86 L147.8,210.86 L148.3,210.86 L148.8,210.86 L149.3,210.86 L149.8,210.86 L150.3,210.86 L150.8,210.86 L151.3,210.86 L151.8,210.86 L152.3,210.86 L152.8,210.85 L153.3,210.85 L153.8,210.85 L154.3,210.85 L154.8,210.85 L155.3,210.85 L155.8,210.85 L156.3,210.85 L156.8,210.85 L157.3,210.85 L157.8,210.85 L158.3,210.84 L158.8,210.84 L159.3,210.84 L159.8,210.84 L160.3,210.84 L160.8,210.84 L161.3,210.84 L161.8,210.84 L162.3,210.84 L162.8,210.84 L163.3,210.83 L163.8,210.83 L164.3,210.83 L164.8,210.83 L165.3,210.83 L165.8,210.83 L166.3,210.83 L166.8,210.83 L167.3,210.83 L167.8,210.83 L168.3,210.82 L168.8,210.82 L169.3,210.82 L169.8,210.82 L170.3,210.82 L170.8,210.82 L171.3,210.82 L171.8,210.82 L172.3,210.81 L172.8,210.81 L173.3,210.81 L173.8,210.81 L174.3,210.81 L174.8,210.81 L175.3,210.81 L175.8,210.80 L176.3,210.80 L176.8,210.80 L177.3,210.80 L177.8,210.80 L178.3,210.80 L178.8,210.80 L179.3,210.79 L179.8,210.79 L180.3,210.79 L180.8,210.79 L181.3,210.79 L181.8,210.79 L182.3,210.78 L182.8,210.78 L183.3,210.78 L183.8,210.78 L184.3,210.78 L184.8,210.77 L185.3,210.77 L185.8,210.77 L186.3,210.77 L186.8,210.77 L187.3,210.76 L187.8,210.76 L188.3,210.76 L188.8,210.76 L189.3,210.76 L189.8,210.75 L190.3,210.75 L190.8,210.75 L191.3,210.75 L191.8,210.74 L192.3,210.74 L192.8,210.74 L193.3,210.74 L193.8,210.73 L194.3,210.73 L194.8,210.73 L195.3,210.73 L195.8,210.72 L196.3,210.72 L196.8,210.72 L197.3,210.72 L197.8,210.71 L198.3,210.71 L198.8,210.71 L199.3,210.70 L199.8,210.70 L200.3,210.70 L200.8,210.69 L201.3,210.69 L201.8,210.69 L202.3,210.68 L202.8,210.68 L203.3,210.67 L203.8,210.67 L204.3,210.66 L204.8,210.65 L205.3,210.65 L205.8,210.64 L206.3,210.63 L206.8,210.62 L207.3,210.61 L207.8,210.60 L208.3,210.59 L208.8,210.58 L209.3,210.56 L209.8,210.55 L210.3,210.54 L210.8,210.52 L211.3,210.50 L211.8,210.49 L212.3,210.47 L212.8,210.45 L213.3,210.43 L213.8,210.41 L214.3,210.38 L214.8,210.36 L215.3,210.34 L215.8,210.31 L216.3,210.28 L216.8,210.24 L217.3,210.17 L217.8,210.08 L218.3,209.97 L218.8,209.82 L219.3,209.63 L219.8,209.37 L220.3,208.64 L220.8,207.00 L221.3,196.61 L221.8,193.09 L222.3,193.02 L222.8,192.96 L223.3,192.91 L223.8,192.86 L224.3,192.82 L224.8,192.78 L225.3,192.75 L225.8,192.72 L226.3,192.70 L226.8,192.67 L227.3,192.66 L227.8,192.64 L228.3,192.63 L228.8,192.62 L229.3,192.61 L229.8,192.61 L230.3,192.60 L230.8,192.60 L231.3,192.60 L231.8,192.60 L232.3,192.60 L232.8,192.60 L233.3,192.60 L233.8,192.60 L234.2,214.8 Z" fill="#a0ff00"/>
<path d="M30.8,214.8 L30.8,192.84 L31.3,192.81 L31.8,192.79 L32.3,192.76 L32.8,192.74 L33.3,192.72 L33.8,192.71 L34.3,192.69 L34.8,192.68 L35.3,192.66 L35.8,192.65 L36.3,192.64 L36.8,192.64 L37.3,192.63 L37.8,192.62 L38.3,192.62 L38.8,192.61 L39.3,192.61 L39.8,192.61 L40.3,192.60 L40.8,192.60 L41.3,192.60 L41.8,192.60 L42.3,192.60 L42.8,192.60 L43.3,192.60 L43.8,193.24 L44.3,195.75 L44.8,197.55 L45.3,198.77 L45.8,199.72 L46.3,200.37 L46.8,200.93 L47.3,201.43 L47.8,201.88 L48.3,202.28 L48.8,202.64 L49.3,202.97 L49.8,203.29 L50.3,203.59 L50.8,203.88 L51.3,204.18 L51.8,204.46 L52.3,204.72 L52.8,204.98 L53.3,205.23 L53.8,205.46 L54.3,205.69 L54.8,205.91 L55.3,206.12 L55.8,206.33 L56.3,206.53 L56.8,206.73 L57.3,206.92 L57.8,207.12 L58.3,207.31 L58.8,207.51 L59.3,207.70 L59.8,207.89 L60.3,208.08 L60.8,208.27 L61.3,208.45 L61.8,208.63 L62.3,208.80 L62.8,208.97 L63.3,209.12 L63.8,209.27 L64.3,209.41 L64.8,209.54 L65.3,209.66 L65.8,209.76 L66.3,209.86 L66.8,209.95 L67.3,210.04 L67.8,210.13 L68.3,210.22 L68.8,210.30 L69.3,210.39 L69.8,210.47 L70.3,210.55 L70.8,210.63 L71.3,210.70 L71.8,210.77 L72.3,210.84 L72.8,210.91 L73.3,210.97 L73.8,211.02 L74.3,211.07 L74.8,211.12 L75.3,211.16 L75.8,211.20 L76.3,211.23 L76.8,211.26 L77.3,211.28 L77.8,211.30 L78.3,211.31 L78.8,211.31 L79.3,211.32 L79.8,211.33 L80.3,211.34 L80.8,211.35 L81.3,211.35 L81.8,211.36 L82.3,211.36 L82.8,211.37 L83.3,211.38 L83.8,211.38 L84.3,211.38 L84.8,211.39 L85.3,211.39 L85.8,211.39 L86.3,211.40 L86.8,211.40 L87.3,211.40 L87.8,211.40 L88.3,211.40 L88.8,211.40 L89.3,211.40 L89.8,211.40 L90.3,211.40 L90.8,211.40 L91.3,211.40 L91.8,211.40 L92.3,211.40 L92.8,211.40 L93.3,211.40 L93.8,211.40 L94.3,211.40 L94.8,211.40 L95.3,211.39 L95.8,211.39 L96.3,211.39 L96.8,211.39 L97.3,211.39 L97.8,211.39 L98.3,211.39 L98.8,211.39 L99.3,211.39 L99.8,211.39 L100.3,211.39 L100.8,211.38 L101.3,211.38 L101.8,211.38 L102.3,211.38 L102.8,211.38 L103.3,211.38 L103.8,211.38 L104.3,211.38 L104.8,211.38 L105.3,211.37 L105.8,211.37 L106.3,211.37 L106.8,211.37 L107.3,211.37 L107.8,211.37 L108.3,211.37 L108.8,211.36 L109.3,211.36 L109.8,211.36 L110.3,211.36 L110.8,211.36 L111.3,211.36 L111.8,211.36 L112.3,211.35 L112.8,211.35 L113.3,211.35 L113.8,211.35 L114.3,211.35 L114.8,211.35 L115.3,211.34 L115.8,211.34 L116.3,211.34 L116.8,211.34 L117.3,211.34 L117.8,211.34 L118.3,211.33 L118.8,211.33 L119.3,211.33 L119.8,211.33 L120.3,211.33 L120.8,211.33 L121.3,211.33 L121.8,211.32 L122.3,211.32 L122.8,211.32 L123.3,211.32 L123.8,211.32 L124.3,211.32 L124.8,211.31 L125.3,211.31 L125.8,211.31 L126.3,211.31 L126.8,211.31 L127.3,211.31 L127.8,211.31 L128.3,211.30 L128.8,211.30 L129.3,211.30 L129.8,211.30 L130.3,211.30 L130.8,211.30 L131.3,211.30 L131.8,211.30 L132.3,211.29 L132.8,211.29 L133.3,211.29 L133.8,211.29 L134.3,211.29 L134.8,211.29 L135.3,211.29 L135.8,211.29 L136.3,211.28 L136.8,211.28 L137.3,211.28 L137.8,211.28 L138.3,211.28 L138.8,211.28 L139.3,211.28 L139.8,211.28 L140.3,211.28 L140.8,211.27 L141.3,211.27 L141.8,211.27 L142.3,211.27 L142.8,211.27 L143.3,211.27 L143.8,211.27 L144.3,211.27 L144.8,211.27 L145.3,211.27 L145.8,211.26 L146.3,211.26 L146.8,211.26 L147.3,211.26 L147.8,211.26 L148.3,211.26 L148.8,211.26 L149.3,211.26 L149.8,211.26 L150.3,211.25 L150.8,211.25 L151.3,211.25 L151.8,211.25 L152.3,211.25 L152.8,211.25 L153.3,211.25 L153.8,211.25 L154.3,211.25 L154.8,211.25 L155.3,211.24 L155.8,211.24 L156.3,211.24 L156.8,211.24 L157.3,211.24 L157.8,211.24 L158.3,211.24 L158.8,211.24 L159.3,211.24 L159.8,211.24 L160.3,211.23 L160.8,211.23 L161.3,211.23 L161.8,211.23 L162.3,211.23 L162.8,211.23 L163.3,211.23 L163.8,211.23 L164.3,211.22 L164.8,211.22 L165.3,211.22 L165.8,211.22 L166.3,211.22 L166.8,211.22 L167.3,211.22 L167.8,211.22 L168.3,211.22 L168.8,211.21 L169.3,211.21 L169.8,211.21 L170.3,211.21 L170.8,211.21 L171.3,211.21 L171.8,211.21 L172.3,211.21 L172.8,211.20 L173.3,211.20 L173.8,211.20 L174.3,211.20 L174.8,211.20 L175.3,211.20 L175.8,211.20 L176.3,211.19 L176.8,211.19 L177.3,211.19 L177.8,211.19 L178.3,211.19 L178.8,211.19 L179.3,211.18 L179.8,211.18 L180.3,211.18 L180.8,211.18 L181.3,211.18 L181.8,211.18 L182.3,211.18 L182.8,211.17 L183.3,211.17 L183.8,211.17 L184.3,211.17 L184.8,211.17 L185.3,211.16 L185.8,211.16 L186.3,211.16 L186.8,211.16 L187.3,211.16 L187.8,211.16 L188.3,211.15 L188.8,211.15 L189.3,211.15 L189.8,211.15 L190.3,211.15 L190.8,211.14 L191.3,211.14 L191.8,211.14 L192.3,211.14 L192.8,211.13 L193.3,211.13 L193.8,211.13 L194.3,211.13 L194.8,211.13 L195.3,211.12 L195.8,211.12 L196.3,211.12 L196.8,211.12 L197.3,211.11 L197.8,211.11 L198.3,211.11 L198.8,211.11 L199.3,211.10 L199.8,211.10 L200.3,211.10 L200.8,211.10 L201.3,211.09 L201.8,211.09 L202.3,211.09 L202.8,211.09 L203.3,211.08 L203.8,211.08 L204.3,211.08 L204.8,211.08 L205.3,211.07 L205.8,211.07 L206.3,211.07 L206.8,211.06 L207.3,211.06 L207.8,211.05 L208.3,211.05 L208.8,211.05 L209.3,211.04 L209.8,211.04 L210.3,211.03 L210.8,211.02 L211.3,211.02 L211.8,211.01 L212.3,211.00 L212.8,210.99 L213.3,210.98 L213.8,210.98 L214.3,210.97 L214.8,210.95 L215.3,210.94 L215.8,210.93 L216.3,210.92 L216.8,210.91 L217.3,210.89 L217.8,210.85 L218.3,210.78 L218.8,210.68 L219.3,210.55 L219.8,210.38 L220.3,210.10 L220.8,209.19 L221.3,200.00 L221.8,193.20 L222.3,193.15 L222.8,193.10 L223.3,193.05 L223.8,193.02 L224.3,192.98 L224.8,192.95 L225.3,192.92 L225.8,192.90 L226.3,192.88 L226.8,192.86 L227.3,192.85 L227.8,192.83 L228.3,192.82 L228.8,192.82 L229.3,192.81 L229.8,192.81 L230.3,192.80 L230.8,192.80 L231.3,192.80 L231.8,192.80 L232.3,192.80 L232.8,192.80 L233.3,192.80 L233.8,192.80 L234.2,214.8 Z" fill="#d8ff00"/>
<path d="M30.8,214.8 L30.8,193.04 L31.3,193.01 L31.8,192.99 L32.3,192.96 L32.8,192.94 L33.3,192.92 L33.8,192.91 L34.3,192.89 L34.8,192.88 L35.3,192.86 L35.8,192.85 L36.3,192.84 L36.8,192.84 L37.3,192.83 L37.8,192.82 L38.3,192.82 L38.8,192.81 L39.3,192.81 L39.8,192.81 L40.3,192.80 L40.8,192.80 L41.3,192.80 L41.8,192.80 L42.3,192.80 L42.8,192.80 L43.3,192.80 L43.8,194.12 L44.3,198.76 L44.8,201.07 L45.3,202.50 L45.8,203.46 L46.3,203.99 L46.8,204.43 L47.3,204.83 L47.8,205.19 L48.3,205.50 L48.8,205.79 L49.3,206.04 L49.8,206.27 L50.3,206.48 L50.8,206.67 L51.3,206.85 L51.8,207.01 L52.3,207.18 L52.8,207.34 L53.3,207.50 L53.8,207.67 L54.3,207.83 L54.8,208.00 L55.3,208.16 L55.8,208.32 L56.3,208.47 L56.8,208.62 L57.3,208.76 L57.8,208.90 L58.3,209.04 L58.8,209.17 L59.3,209.30 L59.8,209.42 L60.3,209.54 L60.8,209.65 L61.3,209.76 L61.8,209.86 L62.3,209.96 L62.8,210.06 L63.3,210.14 L63.8,210.23 L64.3,210.30 L64.8,210.37 L65.3,210.44 L65.8,210.50 L66.3,210.57 L66.8,210.63 L67.3,210.70 L67.8,210.76 L68.3,210.82 L68.8,210.88 L69.3,210.94 L69.8,210.99 L70.3,211.05 L70.8,211.10 L71.3,211.16 L71.8,211.21 L72.3,211.26 L72.8,211.31 L73.3,211.35 L73.8,211.39 L74.3,211.43 L74.8,211.47 L75.3,211.51 L75.8,211.54 L76.3,211.57 L76.8,211.60 L77.3,211.62 L77.8,211.64 L78.3,211.66 L78.8,211.68 L79.3,211.69 L79.8,211.70 L80.3,211.70 L80.8,211.71 L81.3,211.71 L81.8,211.72 L82.3,211.72 L82.8,211.73 L83.3,211.73 L83.8,211.73 L84.3,211.74 L84.8,211.74 L85.3,211.75 L85.8,211.75 L86.3,211.75 L86.8,211.76 L87.3,211.76 L87.8,211.76 L88.3,211.77 L88.8,211.77 L89.3,211.77 L89.8,211.77 L90.3,211.78 L90.8,211.78 L91.3,211.78 L91.8,211.78 L92.3,211.78 L92.8,211.79 L93.3,211.79 L93.8,211.79 L94.3,211.79 L94.8,211.79 L95.3,211.79 L95.8,211.80 L96.3,211.80 L96.8,211.80 L97.3,211.80 L97.8,211.80 L98.3,211.80 L98.8,211.80 L99.3,211.80 L99.8,211.80 L100.3,211.80 L100.8,211.80 L101.3,211.80 L101.8,211.80 L102.3,211.80 L102.8,211.80 L103.3,211.80 L103.8,211.80 L104.3,211.80 L104.8,211.80 L105.3,211.80 L105.8,211.80 L106.3,211.80 L106.8,211.80 L107.3,211.80 L107.8,211.80 L108.3,211.80 L108.8,211.80 L109.3,211.80 L109.8,211.80 L110.3,211.80 L110.8,211.80 L111.3,211.80 L111.8,211.80 L112.3,211.80 L112.8,211.80 L113.3,211.80 L113.8,211.80 L114.3,211.79 L114.8,211.79 L115.3,211.79 L115.8,211.79 L116.3,211.79 L116.8,211.79 L117.3,211.79 L117.8,211.79 L118.3,211.79 L118.8,211.79 L119.3,211.79 L119.8,211.79 L120.3,211.79 L120.8,211.79 L121.3,211.79 L121.8,211.79 L122.3,211.79 L122.8,211.79 L123.3,211.79 L123.8,211.79 L124.3,211.79 L124.8,211.78 L125.3,211.78 L125.8,211.78 L126.3,211.78 L126.8,211.78 L127.3,211.78 L127.8,211.78 L128.3,211.78 L128.8,211.78 L129.3,211.78 L129.8,211.78 L130.3,211.78 L130.8,211.78 L131.3,211.78 L131.8,211.77 L132.3,211.77 L132.8,211.77 L133.3,211.77 L133.8,211.77 L134.3,211.77 L134.8,211.77 L135.3,211.77 L135.8,211.77 L136.3,211.77 L136.8,211.77 L137.3,211.77 L137.8,211.77 L138.3,211.76 L138.8,211.76 L139.3,211.76 L139.8,211.76 L140.3,211.76 L140.8,211.76 L141.3,211.76 L141.8,211.76 L142.3,211.76 L142.8,211.76 L143.3,211.76 L143.8,211.75 L144.3,211.75 L144.8,211.75 L145.3,211.75 L145.8,211.75 L146.3,211.75 L146.8,211.75 L147.3,211.75 L147.8,211.75 L148.3,211.74 L148.8,211.74 L149.3,211.74 L149.8,211.74 L150.3,211.74 L150.8,211.74 L151.3,211.74 L151.8,211.74 L152.3,211.74 L152.8,211.74 L153.3,211.73 L153.8,211.73 L154.3,211.73 L154.8,211.73 L155.3,211.73 L155.8,211.73 L156.3,211.73 L156.8,211.73 L157.3,211.72 L157.8,211.72 L158.3,211.72 L158.8,211.72 L159.3,211.72 L159.8,211.72 L160.3,211.72 L160.8,211.72 L161.3,211.71 L161.8,211.71 L162.3,211.71 L162.8,211.71 L163.3,211.71 L163.8,211.71 L164.3,211.71 L164.8,211.71 L165.3,211.70 L165.8,211.70 L166.3,211.70 L166.8,211.70 L167.3,211.70 L167.8,211.70 L168.3,211.70 L168.8,211.70 L169.3,211.69 L169.8,211.69 L170.3,211.69 L170.8,211.69 L171.3,211.69 L171.8,211.69 L172.3,211.69 L172.8,211.68 L173.3,211.68 L173.8,211.68 L174.3,211.68 L174.8,211.68 L175.3,211.68 L175.8,211.68 L176.3,211.67 L176.8,211.67 L177.3,211.67 L177.8,211.67 L178.3,211.67 L178.8,211.67 L179.3,211.67 L179.8,211.66 L180.3,211.66 L180.8,211.66 L181.3,211.66 L181.8,211.66 L182.3,211.66 L182.8,211.65 L183.3,211.65 L183.8,211.65 L184.3,211.65 L184.8,211.65 L185.3,211.65 L185.8,211.65 L186.3,211.64 L186.8,211.64 L187.3,211.64 L187.8,211.64 L188.3,211.64 L188.8,211.64 L189.3,211.63 L189.8,211.63 L190.3,211.63 L190.8,211.63 L191.3,211.63 L191.8,211.63 L192.3,211.63 L192.8,211.62 L193.3,211.62 L193.8,211.62 L194.3,211.62 L194.8,211.62 L195.3,211.62 L195.8,211.61 L196.3,211.61 L196.8,211.61 L197.3,211.61 L197.8,211.61 L198.3,211.61 L198.8,211.60 L199.3,211.60 L199.8,211.60 L200.3,211.60 L200.8,211.60 L201.3,211.60 L201.8,211.59 L202.3,211.59 L202.8,211.59 L203.3,211.59 L203.8,211.59 L204.3,211.59 L204.8,211.59 L205.3,211.59 L205.8,211.58 L206.3,211.58 L206.8,211.58 L207.3,211.58 L207.8,211.58 L208.3,211.58 L208.8,211.57 L209.3,211.57 L209.8,211.57 L210.3,211.57 L210.8,211.57 L211.3,211.56 L211.8,211.56 L212.3,211.56 L212.8,211.55 L213.3,211.55 L213.8,211.55 L214.3,211.54 L214.8,211.54 L215.3,211.53 L215.8,211.53 L216.3,211.52 L216.8,211.52 L217.3,211.51 L217.8,211.50 L218.3,211.49 L218.8,211.47 L219.3,211.42 L219.8,211.35 L220.3,211.25 L220.8,210.99 L221.3,207.05 L221.8,193.90 L222.3,193.27 L222.8,193.23 L223.3,193.20 L223.8,193.17 L224.3,193.14 L224.8,193.11 L225.3,193.09 L225.8,193.08 L226.3,193.06 L226.8,193.05 L227.3,193.04 L227.8,193.03 L228.3,193.02 L228.8,193.01 L229.3,193.01 L229.8,193.00 L230.3,193.00 L230.8,193.00 L231.3,193.00 L231.8,193.00 L232.3,193.00 L232.8,193.00 L233.3,193.00 L233.8,193.00 L234.2,214.8 Z" fill="#ffe800"/>
<path d="M30.8,214.8 L30.8,193.00 L31.3,193.00 L31.8,193.00 L32.3,193.00 L32.8,193.00 L33.3,193.00 L33.8,193.00 L34.3,193.00 L34.8,193.00 L35.3,193.00 L35.8,193.00 L36.3,193.00 L36.8,193.00 L37.3,193.00 L37.8,193.00 L38.3,193.00 L38.8,193.00 L39.3,193.00 L39.8,193.00 L40.3,193.00 L40.8,193.00 L41.3,193.00 L41.8,193.00 L42.3,193.00 L42.8,193.00 L43.3,193.00 L43.8,195.65 L44.3,203.39 L44.8,205.01 L45.3,205.85 L45.8,206.36 L46.3,206.69 L46.8,206.99 L47.3,207.26 L47.8,207.50 L48.3,207.71 L48.8,207.90 L49.3,208.08 L49.8,208.23 L50.3,208.37 L50.8,208.51 L51.3,208.63 L51.8,208.75 L52.3,208.87 L52.8,209.00 L53.3,209.12 L53.8,209.25 L54.3,209.39 L54.8,209.52 L55.3,209.64 L55.8,209.77 L56.3,209.89 L56.8,210.01 L57.3,210.13 L57.8,210.24 L58.3,210.35 L58.8,210.46 L59.3,210.56 L59.8,210.66 L60.3,210.76 L60.8,210.85 L61.3,210.94 L61.8,211.02 L62.3,211.10 L62.8,211.17 L63.3,211.24 L63.8,211.31 L64.3,211.38 L64.8,211.45 L65.3,211.52 L65.8,211.58 L66.3,211.65 L66.8,211.72 L67.3,211.78 L67.8,211.84 L68.3,211.90 L68.8,211.96 L69.3,212.02 L69.8,212.07 L70.3,212.12 L70.8,212.16 L71.3,212.21 L71.8,212.25 L72.3,212.28 L72.8,212.32 L73.3,212.34 L73.8,212.37 L74.3,212.38 L74.8,212.40 L75.3,212.40 L75.8,212.41 L76.3,212.42 L76.8,212.43 L77.3,212.44 L77.8,212.44 L78.3,212.45 L78.8,212.46 L79.3,212.46 L79.8,212.47 L80.3,212.48 L80.8,212.48 L81.3,212.49 L81.8,212.49 L82.3,212.50 L82.8,212.50 L83.3,212.51 L83.8,212.51 L84.3,212.52 L84.8,212.52 L85.3,212.53 L85.8,212.53 L86.3,212.54 L86.8,212.54 L87.3,212.54 L87.8,212.55 L88.3,212.55 L88.8,212.56 L89.3,212.56 L89.8,212.56 L90.3,212.56 L90.8,212.57 L91.3,212.57 L91.8,212.57 L92.3,212.58 L92.8,212.58 L93.3,212.58 L93.8,212.58 L94.3,212.58 L94.8,212.59 L95.3,212.59 L95.8,212.59 L96.3,212.59 L96.8,212.59 L97.3,212.59 L97.8,212.60 L98.3,212.60 L98.8,212.60 L99.3,212.60 L99.8,212.60 L100.3,212.60 L100.8,212.60 L101.3,212.60 L101.8,212.60 L102.3,212.60 L102.8,212.60 L103.3,212.61 L103.8,212.61 L104.3,212.61 L104.8,212.61 L105.3,212.61 L105.8,212.61 L106.3,212.61 L106.8,212.61 L107.3,212.61 L107.8,212.61 L108.3,212.61 L108.8,212.61 L109.3,212.62 L109.8,212.62 L110.3,212.62 L110.8,212.62 L111.3,212.62 L111.8,212.62 L112.3,212.62 L112.8,212.62 L113.3,212.62 L113.8,212.62 L114.3,212.62 L114.8,212.62 L115.3,212.62 L115.8,212.62 L116.3,212.63 L116.8,212.63 L117.3,212.63 L117.8,212.63 L118.3,212.63 L118.8,212.63 L119.3,212.63 L119.8,212.63 L120.3,212.63 L120.8,212.63 L121.3,212.63 L121.8,212.63 L122.3,212.63 L122.8,212.63 L123.3,212.64 L123.8,212.64 L124.3,212.64 L124.8,212.64 L125.3,212.64 L125.8,212.64 L126.3,212.64 L126.8,212.64 L127.3,212.64 L127.8,212.64 L128.3,212.64 L128.8,212.64 L129.3,212.64 L129.8,212.64 L130.3,212.64 L130.8,212.64 L131.3,212.65 L131.8,212.65 L132.3,212.65 L132.8,212.65 L133.3,212.65 L133.8,212.65 L134.3,212.65 L134.8,212.65 L135.3,212.65 L135.8,212.65 L136.3,212.65 L136.8,212.65 L137.3,212.65 L137.8,212.65 L138.3,212.65 L138.8,212.65 L139.3,212.65 L139.8,212.65 L140.3,212.66 L140.8,212.66 L141.3,212.66 L141.8,212.66 L142.3,212.66 L142.8,212.66 L143.3,212.66 L143.8,212.66 L144.3,212.66 L144.8,212.66 L145.3,212.66 L145.8,212.66 L146.3,212.66 L146.8,212.66 L147.3,212.66 L147.8,212.66 L148.3,212.66 L148.8,212.66 L149.3,212.66 L149.8,212.66 L150.3,212.67 L150.8,212.67 L151.3,212.67 L151.8,212.67 L152.3,212.67 L152.8,212.67 L153.3,212.67 L153.8,212.67 L154.3,212.67 L154.8,212.67 L155.3,212.67 L155.8,212.67 L156.3,212.67 L156.8,212.67 L157.3,212.67 L157.8,212.67 L158.3,212.67 L158.8,212.67 L159.3,212.67 L159.8,212.67 L160.3,212.67 L160.8,212.67 L161.3,212.67 L161.8,212.68 L162.3,212.68 L162.8,212.68 L163.3,212.68 L163.8,212.68 L164.3,212.68 L164.8,212.68 L165.3,212.68 L165.8,212.68 L166.3,212.68 L166.8,212.68 L167.3,212.68 L167.8,212.68 L168.3,212.68 L168.8,212.68 L169.3,212.68 L169.8,212.68 L170.3,212.68 L170.8,212.68 L171.3,212.68 L171.8,212.68 L172.3,212.68 L172.8,212.68 L173.3,212.68 L173.8,212.68 L174.3,212.68 L174.8,212.68 L175.3,212.68 L175.8,212.68 L176.3,212.68 L176.8,212.69 L177.3,212.69 L177.8,212.69 L178.3,212.69 L178.8,212.69 L179.3,212.69 L179.8,212.69 L180.3,212.69 L180.8,212.69 L181.3,212.69 L181.8,212.69 L182.3,212.69 L182.8,212.69 L183.3,212.69 L183.8,212.69 L184.3,212.69 L184.8,212.69 L185.3,212.69 L185.8,212.69 L186.3,212.69 L186.8,212.69 L187.3,212.69 L187.8,212.69 L188.3,212.69 L188.8,212.69 L189.3,212.69 L189.8,212.69 L190.3,212.69 L190.8,212.69 L191.3,212.69 L191.8,212.69 L192.3,212.69 L192.8,212.69 L193.3,212.69 L193.8,212.69 L194.3,212.69 L194.8,212.69 L195.3,212.69 L195.8,212.69 L196.3,212.69 L196.8,212.69 L197.3,212.69 L197.8,212.69 L198.3,212.69 L198.8,212.69 L199.3,212.70 L199.8,212.70 L200.3,212.70 L200.8,212.70 L201.3,212.70 L201.8,212.70 L202.3,212.70 L202.8,212.70 L203.3,212.70 L203.8,212.70 L204.3,212.70 L204.8,212.70 L205.3,212.70 L205.8,212.70 L206.3,212.70 L206.8,212.70 L207.3,212.70 L207.8,212.70 L208.3,212.70 L208.8,212.70 L209.3,212.70 L209.8,212.70 L210.3,212.70 L210.8,212.70 L211.3,212.70 L211.8,212.70 L212.3,212.70 L212.8,212.70 L213.3,212.70 L213.8,212.70 L214.3,212.70 L214.8,212.70 L215.3,212.70 L215.8,212.70 L216.3,212.70 L216.8,212.70 L217.3,212.70 L217.8,212.70 L218.3,212.70 L218.8,212.70 L219.3,212.70 L219.8,212.70 L220.3,212.70 L220.8,212.70 L221.3,212.70 L221.8,212.70 L222.3,212.70 L222.8,212.70 L223.3,212.70 L223.8,212.70 L224.3,212.70 L224.8,212.70 L225.3,212.70 L225.8,212.70 L226.3,212.70 L226.8,212.70 L227.3,212.70 L227.8,212.70 L228.3,212.70 L228.8,212.70 L229.3,212.70 L229.8,212.70 L230.3,212.70 L230.8,212.70 L231.3,212.70 L231.8,212.70 L232.3,212.70 L232.8,212.70 L233.3,212.70 L233.8,212.70 L234.2,214.8 Z" fill="#ffb000"/>
<path d="M30.8,214.8 L30.8,193.10 L31.3,193.10 L31.8,193.10 L32.3,193.10 L32.8,193.10 L33.3,193.10 L33.8,193.10 L34.3,193.10 L34.8,193.10 L35.3,193.10 L35.8,193.10 L36.3,193.10 L36.8,193.10 L37.3,193.10 L37.8,193.10 L38.3,193.10 L38.8,193.10 L39.3,193.10 L39.8,193.10 L40.3,193.10 L40.8,193.10 L41.3,193.10 L41.8,193.10 L42.3,193.10 L42.8,193.10 L43.3,193.10 L43.8,197.15 L44.3,206.50 L44.8,207.58 L45.3,208.24 L45.8,208.60 L46.3,208.82 L46.8,209.01 L47.3,209.17 L47.8,209.31 L48.3,209.44 L48.8,209.54 L49.3,209.64 L49.8,209.72 L50.3,209.80 L50.8,209.87 L51.3,209.94 L51.8,210.01 L52.3,210.08 L52.8,210.16 L53.3,210.24 L53.8,210.34 L54.3,210.43 L54.8,210.53 L55.3,210.63 L55.8,210.72 L56.3,210.82 L56.8,210.91 L57.3,211.00 L57.8,211.09 L58.3,211.18 L58.8,211.26 L59.3,211.34 L59.8,211.42 L60.3,211.50 L60.8,211.57 L61.3,211.64 L61.8,211.71 L62.3,211.78 L62.8,211.86 L63.3,211.93 L63.8,212.00 L64.3,212.07 L64.8,212.14 L65.3,212.20 L65.8,212.27 L66.3,212.33 L66.8,212.38 L67.3,212.43 L67.8,212.48 L68.3,212.52 L68.8,212.55 L69.3,212.58 L69.8,212.60 L70.3,212.61 L70.8,212.62 L71.3,212.63 L71.8,212.64 L72.3,212.65 L72.8,212.66 L73.3,212.67 L73.8,212.68 L74.3,212.68 L74.8,212.69 L75.3,212.70 L75.8,212.71 L76.3,212.72 L76.8,212.72 L77.3,212.73 L77.8,212.74 L78.3,212.75 L78.8,212.75 L79.3,212.76 L79.8,212.77 L80.3,212.77 L80.8,212.78 L81.3,212.79 L81.8,212.79 L82.3,212.80 L82.8,212.80 L83.3,212.81 L83.8,212.81 L84.3,212.82 L84.8,212.82 L85.3,212.83 L85.8,212.83 L86.3,212.84 L86.8,212.84 L87.3,212.84 L87.8,212.85 L88.3,212.85 L88.8,212.85 L89.3,212.86 L89.8,212.86 L90.3,212.86 L90.8,212.87 L91.3,212.87 L91.8,212.87 L92.3,212.88 L92.8,212.88 L93.3,212.88 L93.8,212.88 L94.3,212.88 L94.8,212.89 L95.3,212.89 L95.8,212.89 L96.3,212.89 L96.8,212.89 L97.3,212.89 L97.8,212.90 L98.3,212.90 L98.8,212.90 L99.3,212.90 L99.8,212.90 L100.3,212.90 L100.8,212.90 L101.3,212.90 L101.8,212.90 L102.3,212.90 L102.8,212.90 L103.3,212.91 L103.8,212.91 L104.3,212.91 L104.8,212.91 L105.3,212.91 L105.8,212.91 L106.3,212.91 L106.8,212.91 L107.3,212.91 L107.8,212.91 L108.3,212.91 L108.8,212.91 L109.3,212.92 L109.8,212.92 L110.3,212.92 L110.8,212.92 L111.3,212.92 L111.8,212.92 L112.3,212.92 L112.8,212.92 L113.3,212.92 L113.8,212.92 L114.3,212.92 L114.8,212.92 L115.3,212.92 L115.8,212.92 L116.3,212.93 L116.8,212.93 L117.3,212.93 L117.8,212.93 L118.3,212.93 L118.8,212.93 L119.3,212.93 L119.8,212.93 L120.3,212.93 L120.8,212.93 L121.3,212.93 L121.8,212.93 L122.3,212.93 L122.8,212.93 L123.3,212.94 L123.8,212.94 L124.3,212.94 L124.8,212.94 L125.3,212.94 L125.8,212.94 L126.3,212.94 L126.8,212.94 L127.3,212.94 L127.8,212.94 L128.3,212.94 L128.8,212.94 L129.3,212.94 L129.8,212.94 L130.3,212.94 L130.8,212.94 L131.3,212.95 L131.8,212.95 L132.3,212.95 L132.8,212.95 L133.3,212.95 L133.8,212.95 L134.3,212.95 L134.8,212.95 L135.3,212.95 L135.8,212.95 L136.3,212.95 L136.8,212.95 L137.3,212.95 L137.8,212.95 L138.3,212.95 L138.8,212.95 L139.3,212.95 L139.8,212.96 L140.3,212.96 L140.8,212.96 L141.3,212.96 L141.8,212.96 L142.3,212.96 L142.8,212.96 L143.3,212.96 L143.8,212.96 L144.3,212.96 L144.8,212.96 L145.3,212.96 L145.8,212.96 L146.3,212.96 L146.8,212.96 L147.3,212.96 L147.8,212.96 L148.3,212.96 L148.8,212.96 L149.3,212.96 L149.8,212.97 L150.3,212.97 L150.8,212.97 L151.3,212.97 L151.8,212.97 L152.3,212.97 L152.8,212.97 L153.3,212.97 L153.8,212.97 L154.3,212.97 L154.8,212.97 L155.3,212.97 L155.8,212.97 L156.3,212.97 L156.8,212.97 L157.3,212.97 L157.8,212.97 L158.3,212.97 L158.8,212.97 L159.3,212.97 L159.8,212.97 L160.3,212.97 L160.8,212.97 L161.3,212.97 L161.8,212.98 L162.3,212.98 L162.8,212.98 L163.3,212.98 L163.8,212.98 L164.3,212.98 L164.8,212.98 L165.3,212.98 L165.8,212.98 L166.3,212.98 L166.8,212.98 L167.3,212.98 L167.8,212.98 L168.3,212.98 L168.8,212.98 L169.3,212.98 L169.8,212.98 L170.3,212.98 L170.8,212.98 L171.3,212.98 L171.8,212.98 L172.3,212.98 L172.8,212.98 L173.3,212.98 L173.8,212.98 L174.3,212.98 L174.8,212.98 L175.3,212.98 L175.8,212.98 L176.3,212.98 L176.8,212.99 L177.3,212.99 L177.8,212.99 L178.3,212.99 L178.8,212.99 L179.3,212.99 L179.8,212.99 L180.3,212.99 L180.8,212.99 L181.3,212.99 L181.8,212.99 L182.3,212.99 L182.8,212.99 L183.3,212.99 L183.8,212.99 L184.3,212.99 L184.8,212.99 L185.3,212.99 L185.8,212.99 L186.3,212.99 L186.8,212.99 L187.3,212.99 L187.8,212.99 L188.3,212.99 L188.8,212.99 L189.3,212.99 L189.8,212.99 L190.3,212.99 L190.8,212.99 L191.3,212.99 L191.8,212.99 L192.3,212.99 L192.8,212.99 L193.3,212.99 L193.8,212.99 L194.3,212.99 L194.8,212.99 L195.3,212.99 L195.8,212.99 L196.3,212.99 L196.8,212.99 L197.3,212.99 L197.8,212.99 L198.3,212.99 L198.8,212.99 L199.3,213.00 L199.8,213.00 L200.3,213.00 L200.8,213.00 L201.3,213.00 L201.8,213.00 L202.3,213.00 L202.8,213.00 L203.3,213.00 L203.8,213.00 L204.3,213.00 L204.8,213.00 L205.3,213.00 L205.8,213.00 L206.3,213.00 L206.8,213.00 L207.3,213.00 L207.8,213.00 L208.3,213.00 L208.8,213.00 L209.3,213.00 L209.8,213.00 L210.3,213.00 L210.8,213.00 L211.3,213.00 L211.8,213.00 L212.3,213.00 L212.8,213.00 L213.3,213.00 L213.8,213.00 L214.3,213.00 L214.8,213.00 L215.3,213.00 L215.8,213.00 L216.3,213.00 L216.8,213.00 L217.3,213.00 L217.8,213.00 L218.3,213.00 L218.8,213.00 L219.3,213.00 L219.8,213.00 L220.3,213.00 L220.8,213.00 L221.3,213.00 L221.8,213.00 L222.3,213.00 L222.8,213.00 L223.3,213.00 L223.8,213.00 L224.3,213.00 L224.8,213.00 L225.3,213.00 L225.8,213.00 L226.3,213.00 L226.8,213.00 L227.3,213.00 L227.8,213.00 L228.3,213.00 L228.8,213.00 L229.3,213.00 L229.8,213.00 L230.3,213.00 L230.8,213.00 L231.3,213.00 L231.8,213.00 L232.3,213.00 L232.8,213.00 L233.3,213.00 L233.8,213.00 L234.2,214.8 Z" fill="#ff7000"/>
<path d="M30.8,214.8 L30.8,193.20 L31.3,193.20 L31.8,193.20 L32.3,193.20 L32.8,193.20 L33.3,193.20 L33.8,193.20 L34.3,193.20 L34.8,193.20 L35.3,193.20 L35.8,193.20 L36.3,193.20 L36.8,193.20 L37.3,193.20 L37.8,193.20 L38.3,193.20 L38.8,193.20 L39.3,193.20 L39.8,193.20 L40.3,193.20 L40.8,193.20 L41.3,193.20 L41.8,193.20 L42.3,193.20 L42.8,193.20 L43.3,193.20 L43.8,199.09 L44.3,208.68 L44.8,209.34 L45.3,209.72 L45.8,209.93 L46.3,210.09 L46.8,210.24 L47.3,210.36 L47.8,210.47 L48.3,210.56 L48.8,210.65 L49.3,210.72 L49.8,210.79 L50.3,210.85 L50.8,210.91 L51.3,210.97 L51.8,211.03 L52.3,211.10 L52.8,211.17 L53.3,211.25 L53.8,211.32 L54.3,211.40 L54.8,211.48 L55.3,211.55 L55.8,211.63 L56.3,211.70 L56.8,211.78 L57.3,211.85 L57.8,211.92 L58.3,211.99 L58.8,212.05 L59.3,212.11 L59.8,212.18 L60.3,212.24 L60.8,212.30 L61.3,212.36 L61.8,212.43 L62.3,212.50 L62.8,212.56 L63.3,212.63 L63.8,212.69 L64.3,212.75 L64.8,212.81 L65.3,212.86 L65.8,212.90 L66.3,212.94 L66.8,212.97 L67.3,212.99 L67.8,213.00 L68.3,213.00 L68.8,213.00 L69.3,213.00 L69.8,213.01 L70.3,213.01 L70.8,213.01 L71.3,213.01 L71.8,213.01 L72.3,213.01 L72.8,213.02 L73.3,213.02 L73.8,213.02 L74.3,213.02 L74.8,213.02 L75.3,213.02 L75.8,213.03 L76.3,213.03 L76.8,213.03 L77.3,213.03 L77.8,213.03 L78.3,213.03 L78.8,213.03 L79.3,213.04 L79.8,213.04 L80.3,213.04 L80.8,213.04 L81.3,213.04 L81.8,213.04 L82.3,213.05 L82.8,213.05 L83.3,213.05 L83.8,213.05 L84.3,213.05 L84.8,213.05 L85.3,213.05 L85.8,213.05 L86.3,213.06 L86.8,213.06 L87.3,213.06 L87.8,213.06 L88.3,213.06 L88.8,213.06 L89.3,213.06 L89.8,213.07 L90.3,213.07 L90.8,213.07 L91.3,213.07 L91.8,213.07 L92.3,213.07 L92.8,213.07 L93.3,213.07 L93.8,213.08 L94.3,213.08 L94.8,213.08 L95.3,213.08 L95.8,213.08 L96.3,213.08 L96.8,213.08 L97.3,213.08 L97.8,213.09 L98.3,213.09 L98.8,213.09 L99.3,213.09 L99.8,213.09 L100.3,213.09 L100.8,213.09 L101.3,213.09 L101.8,213.09 L102.3,213.10 L102.8,213.10 L103.3,213.10 L103.8,213.10 L104.3,213.10 L104.8,213.10 L105.3,213.10 L105.8,213.10 L106.3,213.10 L106.8,213.11 L107.3,213.11 L107.8,213.11 L108.3,213.11 L108.8,213.11 L109.3,213.11 L109.8,213.11 L110.3,213.11 L110.8,213.11 L111.3,213.11 L111.8,213.12 L112.3,213.12 L112.8,213.12 L113.3,213.12 L113.8,213.12 L114.3,213.12 L114.8,213.12 L115.3,213.12 L115.8,213.12 L116.3,213.12 L116.8,213.12 L117.3,213.13 L117.8,213.13 L118.3,213.13 L118.8,213.13 L119.3,213.13 L119.8,213.13 L120.3,213.13 L120.8,213.13 L121.3,213.13 L121.8,213.13 L122.3,213.13 L122.8,213.14 L123.3,213.14 L123.8,213.14 L124.3,213.14 L124.8,213.14 L125.3,213.14 L125.8,213.14 L126.3,213.14 L126.8,213.14 L127.3,213.14 L127.8,213.14 L128.3,213.14 L128.8,213.14 L129.3,213.15 L129.8,213.15 L130.3,213.15 L130.8,213.15 L131.3,213.15 L131.8,213.15 L132.3,213.15 L132.8,213.15 L133.3,213.15 L133.8,213.15 L134.3,213.15 L134.8,213.15 L135.3,213.15 L135.8,213.15 L136.3,213.15 L136.8,213.16 L137.3,213.16 L137.8,213.16 L138.3,213.16 L138.8,213.16 L139.3,213.16 L139.8,213.16 L140.3,213.16 L140.8,213.16 L141.3,213.16 L141.8,213.16 L142.3,213.16 L142.8,213.16 L143.3,213.16 L143.8,213.16 L144.3,213.16 L144.8,213.16 L145.3,213.17 L145.8,213.17 L146.3,213.17 L146.8,213.17 L147.3,213.17 L147.8,213.17 L148.3,213.17 L148.8,213.17 L149.3,213.17 L149.8,213.17 L150.3,213.17 L150.8,213.17 L151.3,213.17 L151.8,213.17 L152.3,213.17 L152.8,213.17 L153.3,213.17 L153.8,213.17 L154.3,213.17 L154.8,213.17 L155.3,213.17 L155.8,213.18 L156.3,213.18 L156.8,213.18 L157.3,213.18 L157.8,213.18 L158.3,213.18 L158.8,213.18 L159.3,213.18 L159.8,213.18 L160.3,213.18 L160.8,213.18 L161.3,213.18 L161.8,213.18 L162.3,213.18 L162.8,213.18 L163.3,213.18 L163.8,213.18 L164.3,213.18 L164.8,213.18 L165.3,213.18 L165.8,213.18 L166.3,213.18 L166.8,213.18 L167.3,213.18 L167.8,213.18 L168.3,213.18 L168.8,213.18 L169.3,213.19 L169.8,213.19 L170.3,213.19 L170.8,213.19 L171.3,213.19 L171.8,213.19 L172.3,213.19 L172.8,213.19 L173.3,213.19 L173.8,213.19 L174.3,213.19 L174.8,213.19 L175.3,213.19 L175.8,213.19 L176.3,213.19 L176.8,213.19 L177.3,213.19 L177.8,213.19 L178.3,213.19 L178.8,213.19 L179.3,213.19 L179.8,213.19 L180.3,213.19 L180.8,213.19 L181.3,213.19 L181.8,213.19 L182.3,213.19 L182.8,213.19 L183.3,213.19 L183.8,213.19 L184.3,213.19 L184.8,213.19 L185.3,213.19 L185.8,213.19 L186.3,213.19 L186.8,213.19 L187.3,213.19 L187.8,213.19 L188.3,213.19 L188.8,213.19 L189.3,213.19 L189.8,213.19 L190.3,213.19 L190.8,213.19 L191.3,213.20 L191.8,213.20 L192.3,213.20 L192.8,213.20 L193.3,213.20 L193.8,213.20 L194.3,213.20 L194.8,213.20 L195.3,213.20 L195.8,213.20 L196.3,213.20 L196.8,213.20 L197.3,213.20 L197.8,213.20 L198.3,213.20 L198.8,213.20 L199.3,213.20 L199.8,213.20 L200.3,213.20 L200.8,213.20 L201.3,213.20 L201.8,213.20 L202.3,213.20 L202.8,213.20 L203.3,213.20 L203.8,213.20 L204.3,213.20 L204.8,213.20 L205.3,213.20 L205.8,213.20 L206.3,213.20 L206.8,213.20 L207.3,213.20 L207.8,213.20 L208.3,213.20 L208.8,213.20 L209.3,213.20 L209.8,213.20 L210.3,213.20 L210.8,213.20 L211.3,213.20 L211.8,213.20 L212.3,213.20 L212.8,213.20 L213.3,213.20 L213.8,213.20 L214.3,213.20 L214.8,213.20 L215.3,213.20 L215.8,213.20 L216.3,213.20 L216.8,213.20 L217.3,213.20 L217.8,213.20 L218.3,213.20 L218.8,213.20 L219.3,213.20 L219.8,213.20 L220.3,213.20 L220.8,213.20 L221.3,213.20 L221.8,213.20 L222.3,213.20 L222.8,213.20 L223.3,213.20 L223.8,213.20 L224.3,213.20 L224.8,213.20 L225.3,213.20 L225.8,213.20 L226.3,213.20 L226.8,213.20 L227.3,213.20 L227.8,213.20 L228.3,213.20 L228.8,213.20 L229.3,213.20 L229.8,213.20 L230.3,213.20 L230.8,213.20 L231.3,213.20 L231.8,213.20 L232.3,213.20 L232.8,213.20 L233.3,213.20 L233.8,213.20 L234.2,214.8 Z" fill="#ff3000"/>
<path d="M30.8,214.8 L30.8,193.30 L31.3,193.30 L31.8,193.30 L32.3,193.30 L32.8,193.30 L33.3,193.30 L33.8,193.30 L34.3,193.30 L34.8,193.30 L35.3,193.30 L35.8,193.30 L36.3,193.30 L36.8,193.30 L37.3,193.30 L37.8,193.30 L38.3,193.30 L38.8,193.30 L39.3,193.30 L39.8,193.30 L40.3,193.30 L40.8,193.30 L41.3,193.30 L41.8,193.30 L42.3,193.30 L42.8,193.30 L43.3,193.30 L43.8,201.44 L44.3,210.07 L44.8,210.54 L45.3,210.80 L45.8,210.95 L46.3,211.08 L46.8,211.19 L47.3,211.29 L47.8,211.38 L48.3,211.46 L48.8,211.52 L49.3,211.58 L49.8,211.64 L50.3,211.69 L50.8,211.75 L51.3,211.81 L51.8,211.87 L52.3,211.94 L52.8,212.01 L53.3,212.08 L53.8,212.15 L54.3,212.22 L54.8,212.29 L55.3,212.36 L55.8,212.43 L56.3,212.49 L56.8,212.56 L57.3,212.62 L57.8,212.68 L58.3,212.74 L58.8,212.80 L59.3,212.86 L59.8,212.93 L60.3,213.00 L60.8,213.06 L61.3,213.12 L61.8,213.17 L62.3,213.22 L62.8,213.26 L63.3,213.28 L63.8,213.30 L64.3,213.30 L64.8,213.30 L65.3,213.30 L65.8,213.30 L66.3,213.30 L66.8,213.30 L67.3,213.31 L67.8,213.31 L68.3,213.31 L68.8,213.31 L69.3,213.31 L69.8,213.31 L70.3,213.31 L70.8,213.31 L71.3,213.31 L71.8,213.31 L72.3,213.31 L72.8,213.31 L73.3,213.32 L73.8,213.32 L74.3,213.32 L74.8,213.32 L75.3,213.32 L75.8,213.32 L76.3,213.32 L76.8,213.32 L77.3,213.32 L77.8,213.32 L78.3,213.32 L78.8,213.32 L79.3,213.32 L79.8,213.32 L80.3,213.33 L80.8,213.33 L81.3,213.33 L81.8,213.33 L82.3,213.33 L82.8,213.33 L83.3,213.33 L83.8,213.33 L84.3,213.33 L84.8,213.33 L85.3,213.33 L85.8,213.33 L86.3,213.33 L86.8,213.33 L87.3,213.33 L87.8,213.34 L88.3,213.34 L88.8,213.34 L89.3,213.34 L89.8,213.34 L90.3,213.34 L90.8,213.34 L91.3,213.34 L91.8,213.34 L92.3,213.34 L92.8,213.34 L93.3,213.34 L93.8,213.34 L94.3,213.34 L94.8,213.34 L95.3,213.34 L95.8,213.35 L96.3,213.35 L96.8,213.35 L97.3,213.35 L97.8,213.35 L98.3,213.35 L98.8,213.35 L99.3,213.35 L99.8,213.35 L100.3,213.35 L100.8,213.35 L101.3,213.35 L101.8,213.35 L102.3,213.35 L102.8,213.35 L103.3,213.35 L103.8,213.35 L104.3,213.35 L104.8,213.35 L105.3,213.36 L105.8,213.36 L106.3,213.36 L106.8,213.36 L107.3,213.36 L107.8,213.36 L108.3,213.36 L108.8,213.36 L109.3,213.36 L109.8,213.36 L110.3,213.36 L110.8,213.36 L111.3,213.36 L111.8,213.36 L112.3,213.36 L112.8,213.36 L113.3,213.36 L113.8,213.36 L114.3,213.36 L114.8,213.36 L115.3,213.36 L115.8,213.36 L116.3,213.37 L116.8,213.37 L117.3,213.37 L117.8,213.37 L118.3,213.37 L118.8,213.37 L119.3,213.37 L119.8,213.37 L120.3,213.37 L120.8,213.37 L121.3,213.37 L121.8,213.37 L122.3,213.37 L122.8,213.37 L123.3,213.37 L123.8,213.37 L124.3,213.37 L124.8,213.37 L125.3,213.37 L125.8,213.37 L126.3,213.37 L126.8,213.37 L127.3,213.37 L127.8,213.37 L128.3,213.37 L128.8,213.37 L129.3,213.38 L129.8,213.38 L130.3,213.38 L130.8,213.38 L131.3,213.38 L131.8,213.38 L132.3,213.38 L132.8,213.38 L133.3,213.38 L133.8,213.38 L134.3,213.38 L134.8,213.38 L135.3,213.38 L135.8,213.38 L136.3,213.38 L136.8,213.38 L137.3,213.38 L137.8,213.38 L138.3,213.38 L138.8,213.38 L139.3,213.38 L139.8,213.38 L140.3,213.38 L140.8,213.38 L141.3,213.38 L141.8,213.38 L142.3,213.38 L142.8,213.38 L143.3,213.38 L143.8,213.38 L144.3,213.38 L144.8,213.38 L145.3,213.38 L145.8,213.38 L146.3,213.39 L146.8,213.39 L147.3,213.39 L147.8,213.39 L148.3,213.39 L148.8,213.39 L149.3,213.39 L149.8,213.39 L150.3,213.39 L150.8,213.39 L151.3,213.39 L151.8,213.39 L152.3,213.39 L152.8,213.39 L153.3,213.39 L153.8,213.39 L154.3,213.39 L154.8,213.39 L155.3,213.39 L155.8,213.39 L156.3,213.39 L156.8,213.39 L157.3,213.39 L157.8,213.39 L158.3,213.39 L158.8,213.39 L159.3,213.39 L159.8,213.39 L160.3,213.39 L160.8,213.39 L161.3,213.39 L161.8,213.39 L162.3,213.39 L162.8,213.39 L163.3,213.39 L163.8,213.39 L164.3,213.39 L164.8,213.39 L165.3,213.39 L165.8,213.39 L166.3,213.39 L166.8,213.39 L167.3,213.39 L167.8,213.39 L168.3,213.39 L168.8,213.39 L169.3,213.39 L169.8,213.39 L170.3,213.39 L170.8,213.39 L171.3,213.39 L171.8,213.39 L172.3,213.39 L172.8,213.39 L173.3,213.39 L173.8,213.39 L174.3,213.39 L174.8,213.40 L175.3,213.40 L175.8,213.40 L176.3,213.40 L176.8,213.40 L177.3,213.40 L177.8,213.40 L178.3,213.40 L178.8,213.40 L179.3,213.40 L179.8,213.40 L180.3,213.40 L180.8,213.40 L181.3,213.40 L181.8,213.40 L182.3,213.40 L182.8,213.40 L183.3,213.40 L183.8,213.40 L184.3,213.40 L184.8,213.40 L185.3,213.40 L185.8,213.40 L186.3,213.40 L186.8,213.40 L187.3,213.40 L187.8,213.40 L188.3,213.40 L188.8,213.40 L189.3,213.40 L189.8,213.40 L190.3,213.40 L190.8,213.40 L191.3,213.40 L191.8,213.40 L192.3,213.40 L192.8,213.40 L193.3,213.40 L193.8,213.40 L194.3,213.40 L194.8,213.40 L195.3,213.40 L195.8,213.40 L196.3,213.40 L196.8,213.40 L197.3,213.40 L197.8,213.40 L198.3,213.40 L198.8,213.40 L199.3,213.40 L199.8,213.40 L200.3,213.40 L200.8,213.40 L201.3,213.40 L201.8,213.40 L202.3,213.40 L202.8,213.40 L203.3,213.40 L203.8,213.40 L204.3,213.40 L204.8,213.40 L205.3,213.40 L205.8,213.40 L206.3,213.40 L206.8,213.40 L207.3,213.40 L207.8,213.40 L208.3,213.40 L208.8,213.40 L209.3,213.40 L209.8,213.40 L210.3,213.40 L210.8,213.40 L211.3,213.40 L211.8,213.40 L212.3,213.40 L212.8,213.40 L213.3,213.40 L213.8,213.40 L214.3,213.40 L214.8,213.40 L215.3,213.40 L215.8,213.40 L216.3,213.40 L216.8,213.40 L217.3,213.40 L217.8,213.40 L218.3,213.40 L218.8,213.40 L219.3,213.40 L219.8,213.40 L220.3,213.40 L220.8,213.40 L221.3,213.40 L221.8,213.40 L222.3,213.40 L222.8,213.40 L223.3,213.40 L223.8,213.40 L224.3,213.40 L224.8,213.40 L225.3,213.40 L225.8,213.40 L226.3,213.40 L226.8,213.40 L227.3,213.40 L227.8,213.40 L228.3,213.40 L228.8,213.40 L229.3,213.40 L229.8,213.40 L230.3,213.40 L230.8,213.40 L231.3,213.40 L231.8,213.40 L232.3,213.40 L232.8,213.40 L233.3,213.40 L233.8,213.40 L234.2,214.8 Z" fill="#ff0000"/>
<rect x="30.8" y="212.8" width="203.4" height="65.2" fill="#ff0000"/>
<rect x="30.8" y="193.2" width="13.1" height="22.6" fill="url(#ribg)"/>
<rect x="221.3" y="193.4" width="12.9" height="22.6" fill="url(#ribg)"/>
<path d="M30.8,193.2 H43.9 V212.8 H221.3 V193.4 H234.2" fill="none" stroke="#ffe4dc" stroke-width="1.25"/>
</g></g>
<rect x="33.5" y="151.7" width="1.0" height="122.9" fill="#1a1a1a"/>
<rect x="33.5" y="273.6" width="197.7" height="1.1" fill="#140000"/>
<rect x="43.20" y="271.20" width="0.8" height="3.0" fill="#111"/><text x="43.60" y="281.30" font-size="8.00" text-anchor="middle"  >0</text><rect x="62.75" y="271.20" width="0.8" height="3.0" fill="#111"/><text x="63.15" y="281.30" font-size="8.00" text-anchor="middle"  >1</text><rect x="82.30" y="271.20" width="0.8" height="3.0" fill="#111"/><text x="82.70" y="281.30" font-size="8.00" text-anchor="middle"  >2</text><rect x="101.85" y="271.20" width="0.8" height="3.0" fill="#111"/><text x="102.25" y="281.30" font-size="8.00" text-anchor="middle"  >3</text><rect x="121.40" y="271.20" width="0.8" height="3.0" fill="#111"/><text x="121.80" y="281.30" font-size="8.00" text-anchor="middle"  >4</text><rect x="140.95" y="271.20" width="0.8" height="3.0" fill="#111"/><text x="141.35" y="281.30" font-size="8.00" text-anchor="middle"  >5</text><rect x="160.50" y="271.20" width="0.8" height="3.0" fill="#111"/><text x="160.90" y="281.30" font-size="8.00" text-anchor="middle"  >6</text><rect x="180.05" y="271.20" width="0.8" height="3.0" fill="#111"/><text x="180.45" y="281.30" font-size="8.00" text-anchor="middle"  >7</text><rect x="199.60" y="271.20" width="0.8" height="3.0" fill="#111"/><text x="200.00" y="281.30" font-size="8.00" text-anchor="middle"  >8</text><rect x="219.15" y="271.20" width="0.8" height="3.0" fill="#111"/><text x="219.55" y="281.30" font-size="8.00" text-anchor="middle"  >9</text><rect x="33.80" y="271.15" width="2.4" height="0.8" fill="#222"/><text x="31.40" y="274.86" font-size="8.00" text-anchor="end"  >-3</text><rect x="33.80" y="251.50" width="2.4" height="0.8" fill="#222"/><text x="31.40" y="254.06" font-size="8.00" text-anchor="end"  >-2</text><rect x="33.80" y="231.85" width="2.4" height="0.8" fill="#222"/><text x="31.40" y="235.86" font-size="8.00" text-anchor="end"  >-1</text><rect x="33.80" y="212.20" width="2.4" height="0.8" fill="#222"/><text x="31.40" y="214.86" font-size="8.00" text-anchor="end"  >0</text><rect x="33.80" y="192.55" width="2.4" height="0.8" fill="#222"/><text x="31.40" y="195.76" font-size="8.00" text-anchor="end"  >1</text><rect x="33.80" y="172.90" width="2.4" height="0.8" fill="#222"/><text x="31.40" y="177.96" font-size="8.00" text-anchor="end"  >2</text><rect x="33.80" y="153.25" width="2.4" height="0.8" fill="#222"/><text x="31.40" y="158.36" font-size="8.00" text-anchor="end"  >3</text>
<text x="129.30" y="291.80" font-size="10.50" text-anchor="middle" font-style="italic" >x/e</text>
<text transform="translate(22.8,212.0) rotate(-90)" font-size="10.5" text-anchor="middle" font-style="italic">y/e</text>
<text x="231.60" y="143.50" font-size="9.45" text-anchor="end"  >Conjugate heat transfer</text>
<rect x="238.00" y="206.80" width="4.70" height="2.40" fill="#ff0000"/><rect x="238.00" y="208.90" width="4.70" height="2.40" fill="#ff3000"/><rect x="238.00" y="211.00" width="4.70" height="2.40" fill="#ff6100"/><rect x="238.00" y="213.10" width="4.70" height="2.40" fill="#ff9100"/><rect x="238.00" y="215.20" width="4.70" height="2.40" fill="#ffc200"/><rect x="238.00" y="217.30" width="4.70" height="2.40" fill="#fff200"/><rect x="238.00" y="219.40" width="4.70" height="2.40" fill="#daff00"/><rect x="238.00" y="221.50" width="4.70" height="2.40" fill="#aaff00"/><rect x="238.00" y="223.60" width="4.70" height="2.40" fill="#79ff00"/><rect x="238.00" y="225.70" width="4.70" height="2.40" fill="#48ff00"/><rect x="238.00" y="227.80" width="4.70" height="2.40" fill="#18ff00"/><rect x="238.00" y="229.90" width="4.70" height="2.40" fill="#00ff18"/><rect x="238.00" y="232.00" width="4.70" height="2.40" fill="#00ff48"/><rect x="238.00" y="234.10" width="4.70" height="2.40" fill="#00ff79"/><rect x="238.00" y="236.20" width="4.70" height="2.40" fill="#00ffa9"/><rect x="238.00" y="238.30" width="4.70" height="2.40" fill="#00ffda"/><rect x="238.00" y="240.40" width="4.70" height="2.40" fill="#00f2ff"/><rect x="238.00" y="242.50" width="4.70" height="2.40" fill="#00c2ff"/><rect x="238.00" y="244.60" width="4.70" height="2.40" fill="#0091ff"/><rect x="238.00" y="246.70" width="4.70" height="2.40" fill="#0061ff"/><rect x="238.00" y="248.80" width="4.70" height="2.40" fill="#0030ff"/><rect x="238.00" y="250.90" width="4.70" height="2.40" fill="#0000ff"/>
<text x="244.80" y="211.30" font-size="7.10" text-anchor="start"  >0.95</text>
<text x="242.90" y="253.30" font-size="7.10" text-anchor="start"  >-0.05</text>
<text transform="translate(250.50,203.50) skewX(-14) scale(0.92,1)" font-size="11.00" text-anchor="middle" font-style="italic" font-family="'Liberation Serif', serif">Θ</text>
<text x="288.60" y="31.80" font-size="13.70" text-anchor="start"  >(b)</text>
<g clip-path="url(#cples)">
<rect x="345.5" y="11.0" width="153.8" height="140.2" fill="#0404fb"/>
<g filter="url(#bl)">
<path d="M450.4,36.0 L451.51,36.0 L451.95,68.0 Q452.06,77.10 457.06,77.10 L500.3,76.80 L500.3,81.8 L450.4,81.8 Z" fill="#00a8ff"/>
<path d="M450.4,36.0 L451.30,36.0 L451.66,68.0 Q451.75,77.80 456.75,77.80 L500.3,77.50 L500.3,81.8 L450.4,81.8 Z" fill="#00f0e0"/>
<path d="M450.4,36.0 L451.09,36.0 L451.37,68.0 Q451.44,78.50 456.44,78.50 L500.3,78.20 L500.3,81.8 L450.4,81.8 Z" fill="#30ff60"/>
<path d="M450.4,36.0 L450.88,36.0 L451.07,68.0 Q451.12,79.20 456.12,79.20 L500.3,78.90 L500.3,81.8 L450.4,81.8 Z" fill="#b0ff00"/>
<path d="M450.4,36.0 L450.70,36.0 L450.82,68.0 Q450.85,79.80 455.85,79.80 L500.3,79.50 L500.3,81.8 L450.4,81.8 Z" fill="#ffe000"/>
<path d="M450.4,36.0 L450.55,36.0 L450.61,68.0 Q450.62,80.30 455.62,80.30 L500.3,80.00 L500.3,81.8 L450.4,81.8 Z" fill="#ff9000"/>
<path d="M344.5,80.8 L393.6,80.8 Q395.8,80.8 395.8,78.6 L395.8,27.6 Q395.8,26.3 397.1,26.3 L449.1,26.3 Q450.4,26.3 450.4,27.6 L450.4,76.3 Q450.7,80.8 455.4,80.8 L500.3,80.8 L500.3,152.2 L344.5,152.2 Z" fill="none" stroke="#0090ff" stroke-width="1.7"/>
<path d="M344.5,80.8 L393.6,80.8 Q395.8,80.8 395.8,78.6 L395.8,27.6 Q395.8,26.3 397.1,26.3 L449.1,26.3 Q450.4,26.3 450.4,27.6 L450.4,76.3 Q450.7,80.8 455.4,80.8 L500.3,80.8 L500.3,152.2 L344.5,152.2 Z" fill="none" stroke="#00ffd0" stroke-width="0.9"/>
<path d="M344.5,80.8 L393.6,80.8 Q395.8,80.8 395.8,78.6 L395.8,27.6 Q395.8,26.3 397.1,26.3 L449.1,26.3 Q450.4,26.3 450.4,27.6 L450.4,76.3 Q450.7,80.8 455.4,80.8 L500.3,80.8 L500.3,152.2 L344.5,152.2 Z" fill="none" stroke="#80ff00" stroke-width="0.25"/>
</g>
<g clip-path="url(#cpsolid)">
<rect x="344.5" y="12.0" width="155.8" height="142.2" fill="#5cf010"/>
<g filter="url(#bl2)">
<path d="M339.5,26.7 L342.3,26.7 L363.5,47.7 L364.5,48.2 L395.5,48.2 L404.5,43.9 L412.5,40.8 L420.5,38.5 L424.5,37.7 L428.5,37.2 L434.5,36.9 L439.5,37.1 L445.5,37.9 L450.5,38.9 L491.5,38.9 L492.5,38.7 L504.6,26.7 L507.5,26.7 L507.5,157.7 L338.5,157.7 L338.5,26.7 L339.5,26.7Z" fill="#a6f40c"/>
<path d="M339.5,26.7 L342.1,26.7 L378.5,62.7 L379.5,63.0 L395.5,63.0 L403.5,60.1 L411.5,57.8 L420.5,55.9 L428.5,54.8 L434.5,54.5 L439.5,54.6 L445.5,55.1 L450.5,55.9 L474.5,55.9 L475.5,55.7 L504.8,26.7 L507.5,26.7 L507.5,157.7 L338.5,157.7 L338.5,26.7 L339.5,26.7Z" fill="#f2f400"/>
<path d="M339.5,26.7 L341.9,26.7 L375.5,60.1 L389.5,73.7 L390.5,73.9 L395.5,73.9 L400.5,72.7 L407.5,71.6 L424.5,69.3 L434.5,68.2 L442.5,67.9 L446.5,68.0 L450.5,68.4 L462.5,68.4 L463.5,67.7 L469.5,61.9 L504.9,26.7 L507.5,26.7 L507.5,157.7 L338.5,157.7 L338.5,26.7 L339.5,26.7Z" fill="#ffc600"/>
<path d="M339.5,26.7 L341.8,26.7 L390.5,75.4 L395.1,79.7 L395.5,80.4 L399.5,82.1 L403.5,83.2 L408.5,83.9 L413.5,84.1 L420.5,83.7 L428.5,82.6 L434.5,81.4 L445.1,78.7 L448.5,78.0 L449.5,78.1 L452.5,78.7 L454.5,77.0 L505.1,26.7 L507.5,26.7 L507.5,157.7 L338.5,157.7 L338.5,26.7 L339.5,26.7Z" fill="#ff8a00"/>
<path d="M339.5,26.7 L341.6,26.7 L372.5,57.7 L372.6,75.7 L379.2,76.7 L379.1,80.7 L380.4,83.7 L382.8,87.7 L386.3,91.7 L388.6,93.7 L391.5,95.8 L394.7,97.7 L398.5,99.4 L402.5,100.6 L406.5,101.4 L410.5,101.9 L414.5,102.0 L419.5,101.9 L425.5,101.1 L431.5,99.8 L436.5,98.2 L440.5,96.5 L443.5,95.0 L446.5,93.1 L450.5,90.2 L457.5,86.2 L459.5,84.9 L461.5,83.0 L463.3,80.7 L463.5,76.7 L457.5,76.1 L456.5,76.0 L456.4,75.7 L505.2,26.7 L507.5,26.7 L507.5,157.7 L338.5,157.7 L338.5,26.7 L339.5,26.7Z" fill="#ff4e00"/>
<path d="M504.5,27.6 L505.4,26.7 L507.5,26.7 L507.5,157.7 L338.5,157.7 L338.5,100.5 L345.5,102.7 L358.5,106.2 L363.5,107.8 L369.5,110.2 L381.5,115.7 L387.5,117.9 L393.5,119.6 L400.5,120.9 L405.5,121.4 L411.5,121.7 L417.5,121.5 L423.5,120.9 L429.5,120.0 L434.5,118.8 L439.5,117.3 L444.5,115.4 L456.5,109.6 L459.5,107.9 L461.5,106.6 L464.9,103.7 L468.1,100.7 L477.5,90.7 L481.5,86.7 L485.1,83.7 L489.7,80.7 L490.1,79.7 L490.1,76.7 L472.0,75.7 L472.0,60.7 L472.5,59.7 L504.5,27.6Z" fill="#ff0c04"/>
</g>
<g fill="none" stroke="#1a1200" stroke-width="0.55" stroke-opacity="0.9">
<path d="M418.0,150.0 L416.2,114.5 L415.3,82.6 L414.8,75.1 L413.8,67.6 L412.6,61.8 L411.2,55.9 L409.6,50.2 L407.6,44.5 L405.4,39.4 L403.0,34.5 L400.5,30.2 L397.6,26.1 M428.0,150.0 L426.4,136.1 L422.1,103.4 L419.0,73.5 L418.2,67.1 L417.1,60.7 L414.9,50.4 L412.2,41.3 L410.7,37.1 L408.9,32.9 L407.2,29.3 L405.3,25.8 M438.0,150.0 L436.7,142.1 L435.0,133.3 L428.6,105.0 L426.4,93.7 L424.7,83.3 L421.6,60.0 L419.6,48.7 L418.1,41.9 L416.5,36.1 L414.8,30.9 L412.8,25.8 M448.0,150.0 L446.2,141.7 L443.7,132.5 L440.8,123.0 L433.6,101.1 L431.6,94.4 L430.2,88.6 L429.0,82.7 L427.9,76.3 L425.1,53.0 L423.7,43.1 L421.9,33.7 L420.0,26.0 M459.0,150.0 L456.4,140.9 L453.1,131.4 L448.9,121.3 L438.3,98.0 L435.7,91.0 L433.8,84.8 L432.4,78.0 L431.3,70.5 L428.8,39.6 L427.2,25.7 M451.2,80.2 L451.9,81.0 L452.3,81.2 L453.3,81.4 L482.0,85.7 L491.3,87.4 L499.6,89.2 M450.7,64.2 L450.0,74.1 L449.9,78.1 L450.2,80.1 L450.8,80.9 L451.5,81.6 L453.4,82.3 L456.8,83.1 L474.4,86.9 L483.6,89.1 L491.8,91.3 L499.5,93.6 M450.7,56.6 L449.2,71.5 L448.9,75.5 L449.0,78.0 L449.2,79.5 L449.6,80.4 L450.5,81.6 L452.2,82.7 L455.4,83.9 L475.1,89.7 L482.7,92.0 L491.7,95.2 L499.6,98.3 M450.7,49.8 L450.1,55.8 L448.5,67.1 L448.0,73.6 L448.1,76.6 L448.4,79.1 L448.9,80.5 L450.0,82.2 L452.0,83.7 L456.0,85.6 L475.6,93.1 L485.8,97.3 L493.0,100.8 L499.6,104.3 M450.7,43.9 L450.0,49.9 L448.0,62.7 L447.2,71.2 L447.2,75.2 L447.5,78.2 L448.2,80.6 L449.2,82.3 L451.0,84.0 L454.4,86.1 L459.3,88.6 L474.8,95.6 L482.8,99.6 L491.6,104.5 L499.5,109.7 M450.7,35.2 L450.0,40.6 L448.4,48.5 L447.3,54.9 L446.5,61.3 L446.0,66.8 L445.8,72.3 L446.0,76.3 L446.7,79.7 L447.7,82.0 L448.8,83.6 L450.2,85.1 L452.1,86.7 L454.2,88.1 L458.5,90.7 L475.0,100.1 L480.5,103.6 L485.5,106.9 L492.6,112.3 L499.4,118.3 M450.7,27.2 L450.0,31.6 L448.2,39.4 L446.8,46.8 L445.6,54.7 L444.8,62.2 L444.5,68.6 L444.6,74.1 L445.2,78.6 L446.4,81.9 L447.3,83.6 L448.9,85.6 L450.6,87.4 L452.9,89.3 L457.3,92.6 L474.2,104.3 L479.7,108.5 L484.7,112.7 L488.8,116.4 L492.7,120.3 L496.3,124.4 L499.5,128.3 M448.4,26.1 L446.5,33.9 L445.0,42.3 L443.7,51.7 L443.0,60.6 L442.7,67.6 L442.9,73.6 L443.7,78.6 L444.9,82.4 L446.1,84.6 L447.5,86.6 L449.1,88.6 L451.1,90.7 L455.2,94.4 L466.7,104.0 L472.8,109.3 L478.5,114.8 L483.6,120.3 L488.4,126.1 L492.5,131.8 L496.1,137.8 L499.3,144.0 M444.8,26.2 L443.4,34.1 L442.2,43.0 L441.3,52.9 L440.9,61.9 L440.8,68.4 L441.2,73.9 L442.0,78.8 L443.2,82.6 L444.3,84.9 L445.5,87.1 L447.2,89.6 L449.1,91.9 L453.1,96.3 L464.1,107.3 L469.3,112.7 L474.8,119.1 L479.4,125.1 L483.9,131.7 L487.6,138.2 L490.9,145.0 L493.4,151.5 M439.2,73.5 L439.9,78.0 L440.9,81.9 L442.4,85.6 L444.2,89.1 L446.4,92.5 L449.3,96.5 L460.8,110.4 L465.5,116.2 L469.1,121.1 L472.4,126.0 L476.3,132.5 L479.6,138.7 L482.4,145.1 L484.8,151.6 M437.3,25.9 L436.5,46.8 L436.4,56.3 L436.6,63.8 L436.9,69.8 L437.4,74.8 L438.2,79.2 L439.3,83.1 L441.5,88.7 L444.9,94.8 L448.4,100.2 L460.5,117.4 L464.2,123.3 L467.5,128.9 L470.5,134.7 L473.0,140.2 L475.2,145.7 L477.1,151.4 M435.4,73.6 L436.1,78.0 L437.1,82.4 L438.4,86.7 L440.1,90.9 L444.0,98.4 L455.8,118.1 L461.6,128.7 L464.3,134.5 L466.7,140.1 L468.7,145.7 L470.5,151.4 M430.5,25.8 L431.2,35.8 L432.3,58.8 L433.0,67.8 L434.0,76.7 L435.6,84.0 L437.7,90.2 L440.6,97.1 L443.5,102.9 L452.6,120.1 L457.7,131.0 L459.8,136.1 L461.8,141.2 L463.5,146.5 L464.8,151.3 M347.8,80.8 L347.2,81.6 L345.4,84.6 M352.6,80.8 L351.9,81.5 L349.3,85.8 L345.3,93.3 M358.1,80.8 L357.4,81.5 L355.4,84.4 L351.5,90.8 L348.3,97.0 L345.4,103.4 M363.0,80.8 L361.6,82.2 L358.3,86.6 L355.9,90.4 L353.5,94.8 L351.2,99.3 L349.2,103.8 L347.3,108.5 L345.5,113.6 M368.4,80.8 L367.2,81.7 L365.6,83.6 L361.6,88.7 L358.1,94.2 L355.1,100.0 L352.2,106.4 L349.7,112.9 L347.4,120.0 L345.4,127.8 M373.4,80.8 L372.1,81.6 L369.3,84.4 L366.7,87.4 L364.3,90.6 L362.1,94.0 L360.1,97.4 L358.0,101.4 L356.1,105.5 L352.7,114.4 L349.8,124.0 L347.4,134.2 L345.5,145.0 M378.3,80.8 L376.5,81.7 L373.5,84.3 L370.7,87.2 L368.2,90.3 L365.6,94.0 L363.3,97.8 L361.2,101.8 L359.1,106.3 L357.2,111.0 L355.3,116.2 L353.7,121.4 L352.1,127.2 L349.6,138.9 L347.8,151.3 M383.2,80.8 L380.9,81.8 L378.0,83.8 L375.0,86.4 L372.3,89.3 L369.9,92.5 L367.4,96.2 L364.9,100.6 L362.7,105.1 L360.5,110.1 L358.6,115.3 L356.9,120.5 L355.3,126.3 L353.9,132.1 L352.7,138.5 L351.6,144.9 L350.8,151.4 M388.6,80.8 L385.7,81.7 L382.7,83.4 L379.9,85.5 L376.9,88.2 L374.3,91.2 L371.6,94.8 L369.0,99.0 L366.6,103.5 L364.4,108.5 L362.4,113.6 L360.4,119.3 L358.8,125.0 L357.3,131.4 L356.0,137.7 L354.8,144.6 L353.9,151.6 M393.0,80.8 L390.1,81.6 L386.5,83.3 L383.6,85.2 L380.5,87.8 L377.8,90.7 L375.0,94.3 L372.3,98.5 L369.9,102.8 L367.6,107.8 L365.5,112.9 L363.6,118.6 L361.9,124.4 L360.3,130.7 L358.9,137.5 L357.8,144.4 L356.9,151.4 M395.6,32.5 L396.2,33.9 L398.9,38.1 L401.2,42.5 L403.3,47.1 L405.3,52.2 L407.2,57.9 L408.6,63.2 L409.8,68.6 L410.5,73.5 L410.9,79.0 L410.9,85.0 L410.6,91.5 L409.4,108.9 L408.9,118.9 L408.6,132.9 L408.6,151.4 M395.6,39.0 L396.2,40.4 L398.6,44.8 L400.8,49.3 L402.7,53.9 L404.4,58.6 L405.8,63.4 L406.8,67.8 L407.6,72.2 L408.0,76.7 L408.1,81.7 L407.7,87.2 L404.7,108.9 L403.3,121.9 L402.5,135.4 L402.0,151.3 M395.6,45.5 L396.1,46.9 L398.3,51.4 L400.1,55.5 L401.7,59.7 L403.0,63.5 L404.0,67.4 L404.8,71.3 L405.3,75.3 L405.4,78.8 L405.2,82.8 L404.6,87.2 L400.2,107.2 L398.0,120.0 L396.4,134.5 L395.3,151.4 M395.6,52.5 L396.2,54.4 L399.3,61.8 L401.4,68.4 L402.2,71.9 L402.6,74.8 L402.8,77.8 L402.7,80.3 L402.3,83.3 L401.6,86.2 L395.5,104.7 L393.8,111.0 L392.3,117.8 L390.8,125.7 L389.7,133.6 L388.8,142.1 L388.1,151.6 M395.6,60.0 L396.2,61.9 L398.4,68.0 L399.5,72.4 L400.1,76.8 L400.2,78.8 L399.9,80.8 L399.3,83.2 L398.4,85.6 L393.1,96.3 L390.5,102.3 L388.2,108.4 L386.3,114.6 L384.2,122.8 L382.5,131.7 L381.2,141.1 L380.1,151.5 M395.6,67.0 L397.3,73.3 L397.8,75.7 L398.0,78.7 L397.8,80.7 L397.3,82.1 L396.3,83.8 L390.4,91.9 L386.7,97.8 L383.6,104.1 L380.8,111.1 L378.1,119.7 L375.7,129.4 L373.8,140.2 L372.5,151.6 M395.6,71.0 L396.9,77.9 L396.9,79.9 L396.4,81.3 L394.9,83.3 L390.7,87.6 L388.4,90.2 L386.2,92.9 L384.0,96.2 L381.7,100.1 L379.5,104.6 L377.5,109.2 L375.7,113.9 L373.3,122.0 L371.1,131.2 L369.3,141.1 L368.0,151.5 M395.6,74.0 L396.2,78.5 L396.1,79.4 L395.8,79.9 L394.8,81.0 L391.1,82.6 L387.3,84.9 L384.5,87.1 L382.0,89.5 L379.1,92.9 L376.5,96.6 L373.9,100.9 L371.5,105.8 L369.5,110.4 L367.6,115.5 L365.9,120.8 L364.3,126.6 L363.0,132.4 L361.8,138.8 L359.9,151.7"/>
</g>
<g fill="#141000"><circle cx="417.7" cy="143.5" r="0.55"/><circle cx="416.6" cy="125.0" r="0.55"/><circle cx="415.9" cy="106.1" r="0.55"/><circle cx="415.5" cy="86.6" r="0.55"/><circle cx="413.8" cy="67.6" r="0.55"/><circle cx="409.2" cy="49.2" r="0.55"/><circle cx="401.5" cy="31.9" r="0.55"/><circle cx="426.7" cy="138.6" r="0.55"/><circle cx="424.2" cy="119.7" r="0.55"/><circle cx="421.8" cy="100.9" r="0.55"/><circle cx="420.0" cy="82.0" r="0.55"/><circle cx="417.5" cy="63.1" r="0.55"/><circle cx="413.3" cy="44.6" r="0.55"/><circle cx="406.0" cy="27.1" r="0.55"/><circle cx="435.0" cy="133.3" r="0.55"/><circle cx="430.9" cy="114.7" r="0.55"/><circle cx="426.8" cy="96.2" r="0.55"/><circle cx="423.9" cy="77.4" r="0.55"/><circle cx="421.4" cy="58.6" r="0.55"/><circle cx="417.6" cy="39.9" r="0.55"/><circle cx="445.6" cy="139.3" r="0.55"/><circle cx="440.2" cy="121.1" r="0.55"/><circle cx="434.2" cy="103.0" r="0.55"/><circle cx="429.3" cy="84.7" r="0.55"/><circle cx="426.6" cy="65.9" r="0.55"/><circle cx="424.3" cy="47.0" r="0.55"/><circle cx="420.6" cy="28.4" r="0.55"/><circle cx="454.1" cy="134.2" r="0.55"/><circle cx="446.8" cy="116.7" r="0.55"/><circle cx="438.9" cy="99.4" r="0.55"/><circle cx="433.0" cy="81.4" r="0.55"/><circle cx="430.6" cy="62.6" r="0.55"/><circle cx="429.1" cy="43.6" r="0.55"/><circle cx="461.7" cy="82.7" r="0.55"/><circle cx="480.0" cy="85.4" r="0.55"/><circle cx="499.1" cy="89.1" r="0.55"/><circle cx="450.2" cy="80.1" r="0.55"/><circle cx="468.0" cy="85.5" r="0.55"/><circle cx="486.5" cy="89.8" r="0.55"/><circle cx="449.7" cy="67.0" r="0.55"/><circle cx="454.0" cy="83.4" r="0.55"/><circle cx="472.2" cy="88.8" r="0.55"/><circle cx="490.3" cy="94.6" r="0.55"/><circle cx="448.7" cy="65.2" r="0.55"/><circle cx="451.1" cy="83.1" r="0.55"/><circle cx="468.6" cy="90.4" r="0.55"/><circle cx="486.2" cy="97.6" r="0.55"/><circle cx="449.4" cy="53.8" r="0.55"/><circle cx="447.1" cy="72.7" r="0.55"/><circle cx="456.6" cy="87.3" r="0.55"/><circle cx="473.9" cy="95.2" r="0.55"/><circle cx="490.7" cy="104.0" r="0.55"/><circle cx="448.1" cy="50.4" r="0.55"/><circle cx="445.9" cy="68.8" r="0.55"/><circle cx="451.4" cy="86.1" r="0.55"/><circle cx="468.0" cy="96.1" r="0.55"/><circle cx="484.2" cy="106.1" r="0.55"/><circle cx="499.0" cy="117.9" r="0.55"/><circle cx="448.8" cy="36.5" r="0.55"/><circle cx="445.5" cy="55.2" r="0.55"/><circle cx="444.6" cy="74.1" r="0.55"/><circle cx="453.7" cy="90.0" r="0.55"/><circle cx="469.3" cy="100.8" r="0.55"/><circle cx="484.4" cy="112.4" r="0.55"/><circle cx="497.6" cy="125.9" r="0.55"/><circle cx="445.2" cy="40.8" r="0.55"/><circle cx="443.0" cy="59.6" r="0.55"/><circle cx="443.7" cy="78.6" r="0.55"/><circle cx="454.5" cy="93.8" r="0.55"/><circle cx="469.0" cy="106.0" r="0.55"/><circle cx="482.7" cy="119.2" r="0.55"/><circle cx="494.1" cy="134.3" r="0.55"/><circle cx="443.2" cy="35.0" r="0.55"/><circle cx="441.3" cy="53.9" r="0.55"/><circle cx="441.1" cy="72.9" r="0.55"/><circle cx="447.8" cy="90.4" r="0.55"/><circle cx="460.9" cy="104.1" r="0.55"/><circle cx="473.9" cy="118.0" r="0.55"/><circle cx="484.9" cy="133.4" r="0.55"/><circle cx="493.0" cy="150.6" r="0.55"/><circle cx="443.2" cy="87.4" r="0.55"/><circle cx="454.4" cy="102.7" r="0.55"/><circle cx="466.4" cy="117.4" r="0.55"/><circle cx="476.8" cy="133.3" r="0.55"/><circle cx="484.4" cy="150.7" r="0.55"/><circle cx="436.9" cy="34.8" r="0.55"/><circle cx="436.4" cy="53.8" r="0.55"/><circle cx="437.2" cy="72.8" r="0.55"/><circle cx="442.6" cy="90.9" r="0.55"/><circle cx="453.0" cy="106.7" r="0.55"/><circle cx="463.7" cy="122.5" r="0.55"/><circle cx="472.6" cy="139.2" r="0.55"/><circle cx="438.6" cy="87.2" r="0.55"/><circle cx="447.3" cy="104.0" r="0.55"/><circle cx="457.1" cy="120.3" r="0.55"/><circle cx="465.5" cy="137.3" r="0.55"/><circle cx="431.1" cy="34.3" r="0.55"/><circle cx="432.1" cy="53.3" r="0.55"/><circle cx="433.4" cy="72.2" r="0.55"/><circle cx="437.8" cy="90.7" r="0.55"/><circle cx="446.1" cy="107.8" r="0.55"/><circle cx="454.8" cy="124.6" r="0.55"/><circle cx="462.1" cy="142.2" r="0.55"/><circle cx="348.3" cy="87.5" r="0.55"/><circle cx="350.8" cy="92.1" r="0.55"/><circle cx="358.3" cy="86.6" r="0.55"/><circle cx="349.4" cy="103.4" r="0.55"/><circle cx="360.2" cy="90.8" r="0.55"/><circle cx="351.7" cy="107.7" r="0.55"/><circle cx="345.9" cy="125.8" r="0.55"/><circle cx="368.3" cy="85.5" r="0.55"/><circle cx="358.0" cy="101.4" r="0.55"/><circle cx="351.2" cy="119.2" r="0.55"/><circle cx="346.7" cy="137.6" r="0.55"/><circle cx="369.1" cy="89.1" r="0.55"/><circle cx="359.5" cy="105.4" r="0.55"/><circle cx="353.2" cy="123.3" r="0.55"/><circle cx="349.1" cy="141.9" r="0.55"/><circle cx="377.2" cy="84.4" r="0.55"/><circle cx="365.6" cy="99.3" r="0.55"/><circle cx="358.1" cy="116.7" r="0.55"/><circle cx="353.4" cy="134.6" r="0.55"/><circle cx="378.4" cy="86.8" r="0.55"/><circle cx="367.3" cy="102.1" r="0.55"/><circle cx="360.3" cy="119.7" r="0.55"/><circle cx="355.9" cy="138.2" r="0.55"/><circle cx="386.9" cy="83.1" r="0.55"/><circle cx="373.6" cy="96.3" r="0.55"/><circle cx="365.3" cy="113.4" r="0.55"/><circle cx="360.1" cy="131.7" r="0.55"/><circle cx="357.0" cy="150.4" r="0.55"/><circle cx="401.2" cy="42.5" r="0.55"/><circle cx="407.9" cy="60.3" r="0.55"/><circle cx="410.9" cy="79.0" r="0.55"/><circle cx="410.1" cy="98.0" r="0.55"/><circle cx="408.9" cy="116.9" r="0.55"/><circle cx="408.6" cy="135.9" r="0.55"/><circle cx="402.9" cy="54.3" r="0.55"/><circle cx="407.6" cy="72.7" r="0.55"/><circle cx="407.2" cy="91.6" r="0.55"/><circle cx="404.5" cy="110.4" r="0.55"/><circle cx="402.8" cy="129.4" r="0.55"/><circle cx="402.1" cy="148.3" r="0.55"/><circle cx="400.3" cy="56.0" r="0.55"/><circle cx="405.2" cy="74.3" r="0.55"/><circle cx="403.3" cy="93.1" r="0.55"/><circle cx="399.3" cy="111.7" r="0.55"/><circle cx="396.8" cy="130.5" r="0.55"/><circle cx="395.4" cy="149.4" r="0.55"/><circle cx="401.3" cy="68.0" r="0.55"/><circle cx="401.4" cy="86.7" r="0.55"/><circle cx="395.5" cy="104.7" r="0.55"/><circle cx="391.3" cy="123.3" r="0.55"/><circle cx="388.8" cy="142.1" r="0.55"/><circle cx="399.1" cy="70.4" r="0.55"/><circle cx="396.9" cy="88.7" r="0.55"/><circle cx="389.0" cy="106.0" r="0.55"/><circle cx="383.9" cy="124.3" r="0.55"/><circle cx="380.9" cy="143.0" r="0.55"/><circle cx="397.0" cy="82.5" r="0.55"/><circle cx="386.4" cy="98.3" r="0.55"/><circle cx="379.2" cy="115.8" r="0.55"/><circle cx="374.8" cy="134.3" r="0.55"/><circle cx="396.4" cy="81.3" r="0.55"/><circle cx="384.3" cy="95.8" r="0.55"/><circle cx="376.1" cy="112.9" r="0.55"/><circle cx="371.1" cy="131.2" r="0.55"/><circle cx="368.1" cy="150.0" r="0.55"/><circle cx="387.7" cy="84.6" r="0.55"/><circle cx="375.2" cy="98.7" r="0.55"/><circle cx="367.4" cy="116.0" r="0.55"/><circle cx="362.6" cy="134.4" r="0.55"/></g>
</g>
</g>
<rect x="346.2" y="12.0" width="0.8" height="138.2" fill="#202040"/>
<rect x="346.5" y="149.8" width="151.8" height="0.8" fill="#301000"/>
<text x="475.90" y="8.70" font-size="9.20" text-anchor="start"  >LES</text>
<rect x="509.20" y="54.10" width="5.30" height="2.39" fill="#ff0000"/><rect x="509.20" y="56.19" width="5.30" height="2.39" fill="#ff3000"/><rect x="509.20" y="58.28" width="5.30" height="2.39" fill="#ff6100"/><rect x="509.20" y="60.37" width="5.30" height="2.39" fill="#ff9100"/><rect x="509.20" y="62.46" width="5.30" height="2.39" fill="#ffc200"/><rect x="509.20" y="64.55" width="5.30" height="2.39" fill="#fff200"/><rect x="509.20" y="66.65" width="5.30" height="2.39" fill="#daff00"/><rect x="509.20" y="68.74" width="5.30" height="2.39" fill="#aaff00"/><rect x="509.20" y="70.83" width="5.30" height="2.39" fill="#79ff00"/><rect x="509.20" y="72.92" width="5.30" height="2.39" fill="#48ff00"/><rect x="509.20" y="75.01" width="5.30" height="2.39" fill="#18ff00"/><rect x="509.20" y="77.10" width="5.30" height="2.39" fill="#00ff18"/><rect x="509.20" y="79.19" width="5.30" height="2.39" fill="#00ff48"/><rect x="509.20" y="81.28" width="5.30" height="2.39" fill="#00ff79"/><rect x="509.20" y="83.37" width="5.30" height="2.39" fill="#00ffa9"/><rect x="509.20" y="85.46" width="5.30" height="2.39" fill="#00ffda"/><rect x="509.20" y="87.55" width="5.30" height="2.39" fill="#00f2ff"/><rect x="509.20" y="89.65" width="5.30" height="2.39" fill="#00c2ff"/><rect x="509.20" y="91.74" width="5.30" height="2.39" fill="#0091ff"/><rect x="509.20" y="93.83" width="5.30" height="2.39" fill="#0061ff"/><rect x="509.20" y="95.92" width="5.30" height="2.39" fill="#0030ff"/><rect x="509.20" y="98.01" width="5.30" height="2.39" fill="#0000ff"/>
<text x="515.90" y="58.40" font-size="7.10" text-anchor="start"  >0.95</text>
<text x="515.90" y="99.60" font-size="7.10" text-anchor="start"  >0.80</text>
<text transform="translate(521.00,50.90) skewX(-14) scale(0.92,1)" font-size="11.00" text-anchor="middle" font-style="italic" font-family="'Liberation Serif', serif">Θ</text>
<g clip-path="url(#cpexp)">
<g filter="url(#bl3)">
<rect x="341.8" y="236.0" width="165.1" height="79.6" fill="#aadc56"/>
<path d="M343.7,238.0 L409.2,238.0 L415.7,243.7 L418.7,245.9 L421.7,247.4 L424.7,248.0 L427.7,247.6 L429.7,246.8 L431.7,245.7 L434.7,243.4 L440.8,238.0 L505.7,238.0 L505.7,313.0 L342.7,313.0 L342.7,238.0 L343.7,238.0Z" fill="#b4df4c"/>
<path d="M343.7,238.0 L405.5,238.0 L417.7,248.2 L419.7,249.5 L421.7,250.4 L424.7,251.0 L427.7,250.6 L429.7,249.8 L431.7,248.7 L434.7,246.4 L444.5,238.0 L505.7,238.0 L505.7,313.0 L342.7,313.0 L342.7,238.0 L343.7,238.0Z" fill="#bfe141"/>
<path d="M343.7,238.0 L400.9,238.0 L403.7,239.7 L406.7,241.9 L414.7,248.9 L417.7,251.2 L419.7,252.4 L421.7,253.3 L424.7,253.9 L427.7,253.5 L429.7,252.7 L431.7,251.6 L434.7,249.4 L443.7,241.6 L449.1,238.0 L505.7,238.0 L505.7,313.0 L342.7,313.0 L342.7,238.0 L343.7,238.0Z" fill="#cce438"/>
<path d="M343.7,238.0 L392.1,238.0 L393.7,238.3 L397.7,239.5 L401.7,241.4 L406.7,244.9 L414.7,251.9 L417.7,254.2 L419.7,255.4 L421.7,256.2 L424.7,256.8 L426.7,256.6 L428.7,256.1 L432.7,253.9 L443.7,244.6 L446.7,242.4 L449.7,240.7 L452.6,238.0 L505.7,238.0 L505.7,313.0 L342.7,313.0 L342.7,238.0 L343.7,238.0Z" fill="#dae62f"/>
<path d="M455.7,238.3 L456.1,238.0 L505.7,238.0 L505.7,313.0 L342.7,313.0 L342.7,240.0 L381.7,240.1 L388.7,240.5 L393.7,241.3 L398.7,242.9 L403.7,245.7 L407.7,248.7 L415.7,255.6 L418.7,257.7 L421.7,259.1 L424.7,259.6 L426.7,259.5 L428.7,258.9 L432.7,256.8 L435.7,254.5 L443.7,247.6 L446.7,245.4 L449.7,243.7 L455.7,238.3Z" fill="#eaea27"/>
<path d="M459.7,238.4 L460.3,238.0 L505.7,238.0 L505.7,313.0 L342.7,313.0 L342.7,243.0 L381.7,243.1 L388.7,243.5 L393.7,244.3 L398.7,245.9 L403.7,248.7 L407.7,251.7 L414.7,257.7 L418.7,260.5 L420.7,261.5 L422.7,262.1 L425.7,262.3 L427.7,262.0 L429.7,261.3 L433.7,258.9 L444.7,249.8 L450.7,246.1 L453.7,243.0 L459.7,238.4Z" fill="#f6ea20"/>
<path d="M463.7,238.8 L465.0,238.0 L505.7,238.0 L505.7,313.0 L342.7,313.0 L342.7,246.0 L381.7,246.1 L388.7,246.5 L393.7,247.3 L398.7,248.9 L402.7,251.0 L406.7,253.9 L414.7,260.6 L418.7,263.3 L420.7,264.2 L422.7,264.8 L425.7,265.0 L427.7,264.7 L429.7,264.1 L433.7,261.8 L444.7,252.8 L447.7,250.8 L451.0,249.0 L456.7,243.6 L463.7,238.8Z" fill="#f9e11d"/>
<path d="M468.7,238.8 L470.1,238.0 L505.7,238.0 L505.7,313.0 L342.7,313.0 L342.7,249.0 L381.7,249.1 L388.7,249.5 L393.7,250.3 L398.7,251.9 L402.7,254.0 L406.7,256.8 L414.7,263.4 L418.7,266.0 L420.7,266.9 L422.7,267.4 L425.7,267.7 L427.7,267.4 L429.7,266.7 L433.7,264.5 L444.7,255.8 L447.7,253.8 L451.7,251.7 L455.7,247.8 L460.3,244.0 L468.7,238.8Z" fill="#fcd71b"/>
<path d="M473.7,239.0 L475.5,238.0 L505.7,238.0 L505.7,313.0 L342.7,313.0 L342.7,252.0 L381.7,252.1 L388.7,252.5 L393.7,253.3 L398.7,254.9 L402.7,257.0 L406.7,259.8 L414.7,266.1 L418.7,268.6 L422.7,270.0 L425.7,270.2 L427.7,269.9 L429.7,269.3 L433.7,267.2 L445.7,258.0 L452.7,254.1 L457.7,249.5 L463.7,244.9 L473.7,239.0Z" fill="#ffce18"/>
<path d="M479.7,238.7 L480.9,238.0 L505.7,238.0 L505.7,313.0 L342.7,313.0 L342.7,255.0 L380.7,255.1 L387.7,255.4 L392.7,256.1 L397.7,257.5 L402.7,259.9 L406.7,262.7 L414.7,268.8 L418.7,271.2 L422.7,272.5 L424.7,272.7 L426.7,272.6 L429.7,271.8 L433.7,269.8 L445.7,261.0 L449.7,258.6 L452.7,257.4 L458.7,252.0 L465.7,246.9 L470.1,244.0 L479.7,238.7Z" fill="#ffc216"/>
<path d="M484.7,238.9 L486.4,238.0 L505.7,238.0 L505.7,313.0 L342.7,313.0 L342.7,258.0 L380.7,258.1 L387.7,258.4 L392.7,259.1 L397.7,260.5 L401.7,262.3 L405.7,264.8 L414.7,271.4 L418.7,273.7 L422.7,274.9 L424.7,275.1 L426.7,275.0 L430.7,273.9 L434.7,271.8 L446.7,263.2 L449.7,261.6 L453.7,259.9 L459.7,254.7 L467.7,249.0 L475.5,244.0 L484.7,238.9Z" fill="#ffb614"/>
<path d="M490.7,238.6 L491.8,238.0 L505.7,238.0 L505.7,313.0 L342.7,313.0 L342.7,261.0 L380.7,261.1 L387.7,261.4 L392.7,262.1 L397.7,263.4 L401.7,265.2 L405.7,267.7 L414.7,274.0 L418.4,276.0 L422.7,277.3 L426.7,277.4 L429.7,276.7 L433.6,275.0 L446.7,266.1 L449.7,264.5 L453.7,263.0 L460.7,257.3 L467.7,252.4 L480.9,244.0 L490.7,238.6Z" fill="#ffaa11"/>
<path d="M495.7,238.9 L497.3,238.0 L505.7,238.0 L505.7,313.0 L342.7,313.0 L342.7,264.0 L380.7,264.1 L387.7,264.4 L392.7,265.1 L397.7,266.4 L401.7,268.1 L405.7,270.5 L413.9,276.0 L418.7,278.5 L421.7,279.4 L423.7,279.7 L427.7,279.6 L430.7,278.7 L433.7,277.4 L446.7,269.0 L450.7,267.0 L454.7,265.6 L460.7,260.7 L468.7,255.2 L486.4,244.0 L495.7,238.9Z" fill="#ff9f10"/>
<path d="M501.7,238.6 L502.7,238.0 L505.7,238.0 L505.7,313.0 L342.7,313.0 L342.7,267.0 L380.7,267.1 L387.7,267.4 L392.7,268.0 L397.7,269.3 L401.7,271.0 L405.7,273.3 L413.7,278.4 L418.7,280.9 L421.7,281.7 L423.7,282.0 L427.7,281.8 L430.7,281.1 L433.7,279.8 L447.7,271.3 L450.7,269.9 L455.7,268.2 L461.7,263.4 L470.7,257.3 L491.8,244.0 L501.7,238.6Z" fill="#ff9510"/>
<path d="M504.7,239.9 L505.7,239.4 L505.7,313.0 L342.7,313.0 L342.7,270.0 L379.7,270.1 L386.7,270.3 L391.7,270.8 L396.7,271.9 L400.7,273.4 L404.7,275.4 L414.0,281.0 L418.7,283.2 L421.7,284.0 L423.7,284.3 L425.7,284.3 L428.7,283.9 L431.7,283.0 L434.7,281.7 L444.7,275.8 L448.7,273.7 L451.7,272.5 L455.7,271.3 L462.7,266.1 L470.7,260.7 L497.3,244.0 L504.7,239.9Z" fill="#ff8b10"/>
<path d="M504.7,242.9 L505.7,242.4 L505.7,313.0 L342.7,313.0 L342.7,273.0 L379.7,273.1 L386.7,273.3 L391.7,273.8 L396.7,274.9 L400.7,276.3 L404.7,278.2 L413.7,283.3 L418.7,285.4 L421.7,286.2 L423.7,286.4 L425.7,286.5 L428.7,286.1 L431.7,285.3 L434.9,284.0 L448.7,276.5 L452.7,275.0 L456.7,274.0 L462.7,269.5 L469.7,264.8 L504.7,242.9Z" fill="#ff8210"/>
<path d="M505.7,245.6 L505.7,313.0 L342.7,313.0 L342.7,276.0 L379.7,276.1 L386.7,276.3 L391.7,276.8 L396.7,277.8 L400.7,279.1 L404.7,280.9 L413.7,285.7 L418.7,287.7 L423.7,288.6 L425.7,288.7 L428.7,288.3 L431.7,287.6 L434.7,286.4 L448.7,279.4 L451.7,278.3 L456.7,277.0 L457.7,276.6 L462.7,272.9 L469.7,268.2 L505.7,245.6Z" fill="#ff7910"/>
<path d="M505.7,249.0 L505.7,313.0 L342.7,313.0 L342.7,279.0 L379.7,279.1 L386.7,279.3 L391.7,279.7 L396.7,280.7 L400.7,281.9 L404.7,283.6 L413.7,288.1 L418.7,289.9 L423.7,290.8 L428.7,290.5 L431.7,289.8 L434.7,288.7 L445.7,283.5 L449.7,281.8 L453.7,280.6 L457.7,279.8 L470.7,270.9 L505.7,249.0Z" fill="#ff7010"/>
<path d="M505.7,252.4 L505.7,313.0 L342.7,313.0 L342.7,282.0 L379.7,282.1 L386.7,282.3 L391.7,282.7 L396.7,283.6 L400.7,284.8 L404.7,286.3 L413.7,290.4 L418.7,292.1 L421.7,292.7 L424.7,293.0 L429.7,292.5 L435.7,290.7 L445.7,286.2 L449.7,284.6 L453.7,283.5 L458.7,282.5 L470.7,274.3 L505.7,252.4Z" fill="#ff6710"/>
<path d="M505.7,255.8 L505.7,313.0 L342.7,313.0 L342.7,285.0 L379.7,285.0 L386.7,285.2 L391.7,285.6 L396.7,286.5 L400.7,287.6 L413.7,292.8 L418.7,294.3 L421.7,294.9 L424.7,295.1 L429.7,294.7 L435.7,293.0 L445.7,288.8 L449.7,287.4 L453.7,286.4 L458.7,285.6 L459.7,285.1 L471.7,277.1 L505.7,255.8Z" fill="#ff5e10"/>
<path d="M504.7,259.8 L505.7,259.2 L505.7,313.0 L342.7,313.0 L342.7,288.0 L379.7,288.0 L391.7,288.6 L396.7,289.3 L400.7,290.3 L413.7,295.1 L418.7,296.5 L421.7,297.0 L424.7,297.2 L429.7,296.8 L435.7,295.3 L449.7,290.2 L454.7,289.1 L459.7,288.4 L471.7,280.5 L504.7,259.8Z" fill="#fd5510"/>
<path d="M505.7,262.6 L505.7,313.0 L342.7,313.0 L342.7,291.0 L379.7,291.0 L390.7,291.4 L395.7,292.1 L400.7,293.1 L413.7,297.4 L418.7,298.7 L424.7,299.4 L430.7,298.8 L435.7,297.6 L449.7,293.0 L453.7,292.2 L460.7,291.2 L471.7,283.9 L505.7,262.6Z" fill="#fa4b10"/>
<path d="M504.7,266.7 L505.7,266.0 L505.7,313.0 L342.7,313.0 L342.7,294.0 L379.7,294.0 L390.7,294.4 L395.7,294.9 L400.7,295.9 L414.5,300.0 L419.7,301.1 L424.7,301.5 L430.7,301.1 L435.7,299.9 L449.7,295.8 L454.7,294.9 L460.7,294.3 L461.4,294.0 L504.7,266.7Z" fill="#f84210"/>
<path d="M505.7,269.4 L505.7,313.0 L342.7,313.0 L342.7,297.0 L379.7,297.0 L391.7,297.4 L396.7,298.0 L400.7,298.7 L417.7,303.0 L421.7,303.6 L424.7,303.7 L428.7,303.5 L433.7,302.7 L446.7,299.3 L451.7,298.2 L456.7,297.6 L461.7,297.2 L505.7,269.4Z" fill="#f63710"/>
<path d="M505.7,272.9 L505.7,313.0 L342.7,313.0 L342.7,300.0 L380.7,300.0 L392.7,300.4 L401.7,301.7 L417.7,305.3 L424.7,305.9 L428.7,305.8 L432.7,305.2 L446.7,302.0 L451.7,301.1 L462.5,300.0 L505.7,272.9Z" fill="#f22c10"/>
<path d="M504.7,276.9 L505.7,276.3 L505.7,313.0 L342.7,313.0 L342.7,303.0 L380.7,303.0 L392.7,303.4 L401.7,304.4 L417.7,307.6 L424.7,308.2 L428.7,308.0 L432.7,307.6 L446.7,304.7 L451.7,303.9 L462.7,303.1 L504.7,276.9Z" fill="#f02110"/>
<path d="M505.7,279.7 L505.7,313.0 L342.7,313.0 L342.7,306.0 L380.7,306.0 L392.7,306.3 L401.7,307.2 L417.7,310.0 L424.7,310.4 L432.7,309.9 L451.7,306.8 L463.7,306.1 L505.7,279.7Z" fill="#ed1b10"/>
<path d="M504.7,283.7 L505.7,283.1 L505.7,313.0 L342.7,313.0 L342.7,309.0 L380.7,309.0 L392.7,309.3 L401.7,310.0 L417.7,312.4 L424.7,312.8 L432.7,312.3 L451.7,309.7 L463.7,309.1 L464.7,308.8 L504.7,283.7Z" fill="#ea1a10"/>
<path d="M505.7,286.5 L505.7,313.0 L446.8,313.0 L454.7,312.3 L464.8,312.0 L505.7,286.5ZM343.7,312.0 L387.7,312.1 L395.7,312.4 L403.2,313.0 L342.7,313.0 L342.7,312.0 L343.7,312.0Z" fill="#e71810"/>
<path d="M505.7,289.9 L505.7,313.0 L468.8,313.0 L505.7,289.9Z" fill="#e41710"/>
<path d="M504.7,294.0 L505.7,293.3 L505.7,313.0 L474.3,313.0 L504.7,294.0Z" fill="#e11510"/>
<path d="M505.7,296.7 L505.7,313.0 L479.7,313.0 L505.7,296.7Z" fill="#de1310"/>
<path d="M504.7,300.8 L505.7,300.2 L505.7,313.0 L485.2,313.0 L504.7,300.8Z" fill="#db1210"/>
<path d="M505.7,303.6 L505.7,313.0 L490.6,313.0 L505.7,303.6Z" fill="#d81010"/>
<path d="M505.7,307.0 L505.7,313.0 L496.1,313.0 L505.7,307.0Z" fill="#d81010"/>
<path d="M505.7,310.4 L505.7,313.0 L501.5,313.0 L505.7,310.4Z" fill="#d81010"/>
<rect x="392.5" y="180.5" width="64.0" height="67.5" fill="url(#expg)"/>
</g>
<g fill="#06061a" fill-opacity="0.8" filter="url(#bl4)"><path d="M0,-2.5 L0.93,2.0 L-0.93,2.0 Z" transform="translate(397.3,188.4) rotate(2)"/><path d="M0,-2.5 L0.93,2.0 L-0.93,2.0 Z" transform="translate(401.4,189.1) rotate(-2)"/><path d="M0,-2.5 L0.93,2.0 L-0.93,2.0 Z" transform="translate(405.9,189.0) rotate(-6)"/><path d="M0,-2.5 L0.93,2.0 L-0.93,2.0 Z" transform="translate(411.0,188.2) rotate(-6)"/><path d="M0,-2.5 L0.93,2.0 L-0.93,2.0 Z" transform="translate(415.5,189.6) rotate(-5)"/><path d="M0,-2.5 L0.93,2.0 L-0.93,2.0 Z" transform="translate(419.7,189.2) rotate(6)"/><path d="M0,-2.5 L0.93,2.0 L-0.93,2.0 Z" transform="translate(424.7,188.8) rotate(7)"/><path d="M0,-2.5 L0.93,2.0 L-0.93,2.0 Z" transform="translate(428.4,189.6) rotate(-3)"/><path d="M0,-2.5 L0.93,2.0 L-0.93,2.0 Z" transform="translate(433.0,188.3) rotate(-3)"/><path d="M0,-2.5 L0.93,2.0 L-0.93,2.0 Z" transform="translate(438.6,188.4) rotate(1)"/><path d="M0,-2.5 L0.93,2.0 L-0.93,2.0 Z" transform="translate(442.8,188.8) rotate(1)"/><path d="M0,-2.5 L0.93,2.0 L-0.93,2.0 Z" transform="translate(446.4,188.2) rotate(-4)"/><path d="M0,-2.5 L0.93,2.0 L-0.93,2.0 Z" transform="translate(451.9,188.9) rotate(-3)"/><path d="M0,-2.5 L0.94,2.1 L-0.94,2.1 Z" transform="translate(399.9,193.2) rotate(-3)"/><path d="M0,-2.5 L0.94,2.1 L-0.94,2.1 Z" transform="translate(404.8,193.7) rotate(-4)"/><path d="M0,-2.5 L0.94,2.1 L-0.94,2.1 Z" transform="translate(408.9,193.3) rotate(5)"/><path d="M0,-2.5 L0.94,2.1 L-0.94,2.1 Z" transform="translate(413.7,192.9) rotate(7)"/><path d="M0,-2.5 L0.94,2.1 L-0.94,2.1 Z" transform="translate(417.2,193.2) rotate(4)"/><path d="M0,-2.5 L0.94,2.1 L-0.94,2.1 Z" transform="translate(421.7,193.3) rotate(-6)"/><path d="M0,-2.5 L0.94,2.1 L-0.94,2.1 Z" transform="translate(427.1,193.8) rotate(1)"/><path d="M0,-2.5 L0.94,2.1 L-0.94,2.1 Z" transform="translate(431.9,193.0) rotate(3)"/><path d="M0,-2.5 L0.94,2.1 L-0.94,2.1 Z" transform="translate(436.0,193.4) rotate(-1)"/><path d="M0,-2.5 L0.94,2.1 L-0.94,2.1 Z" transform="translate(440.8,194.1) rotate(-0)"/><path d="M0,-2.5 L0.94,2.1 L-0.94,2.1 Z" transform="translate(445.1,192.5) rotate(3)"/><path d="M0,-2.5 L0.94,2.1 L-0.94,2.1 Z" transform="translate(449.5,194.2) rotate(5)"/><path d="M0,-2.6 L0.96,2.1 L-0.96,2.1 Z" transform="translate(397.3,197.4) rotate(2)"/><path d="M0,-2.6 L0.96,2.1 L-0.96,2.1 Z" transform="translate(401.3,197.5) rotate(-5)"/><path d="M0,-2.6 L0.96,2.1 L-0.96,2.1 Z" transform="translate(406.0,196.8) rotate(4)"/><path d="M0,-2.6 L0.96,2.1 L-0.96,2.1 Z" transform="translate(410.5,197.1) rotate(-2)"/><path d="M0,-2.6 L0.96,2.1 L-0.96,2.1 Z" transform="translate(416.2,196.8) rotate(-1)"/><path d="M0,-2.6 L0.96,2.1 L-0.96,2.1 Z" transform="translate(420.2,198.3) rotate(4)"/><path d="M0,-2.6 L0.96,2.1 L-0.96,2.1 Z" transform="translate(425.2,197.2) rotate(-1)"/><path d="M0,-2.6 L0.96,2.1 L-0.96,2.1 Z" transform="translate(428.9,198.3) rotate(6)"/><path d="M0,-2.6 L0.96,2.1 L-0.96,2.1 Z" transform="translate(433.0,197.0) rotate(-4)"/><path d="M0,-2.6 L0.96,2.1 L-0.96,2.1 Z" transform="translate(437.7,197.6) rotate(1)"/><path d="M0,-2.6 L0.96,2.1 L-0.96,2.1 Z" transform="translate(442.2,196.7) rotate(-1)"/><path d="M0,-2.6 L0.96,2.1 L-0.96,2.1 Z" transform="translate(446.9,197.7) rotate(6)"/><path d="M0,-2.6 L0.96,2.1 L-0.96,2.1 Z" transform="translate(451.9,197.6) rotate(2)"/><path d="M0,-2.7 L0.98,2.2 L-0.98,2.2 Z" transform="translate(400.1,201.1) rotate(6)"/><path d="M0,-2.7 L0.98,2.2 L-0.98,2.2 Z" transform="translate(404.7,202.6) rotate(4)"/><path d="M0,-2.7 L0.98,2.2 L-0.98,2.2 Z" transform="translate(408.6,201.7) rotate(-6)"/><path d="M0,-2.7 L0.98,2.2 L-0.98,2.2 Z" transform="translate(413.5,201.1) rotate(-6)"/><path d="M0,-2.7 L0.98,2.2 L-0.98,2.2 Z" transform="translate(417.3,201.3) rotate(-2)"/><path d="M0,-2.7 L0.98,2.2 L-0.98,2.2 Z" transform="translate(421.6,201.0) rotate(-5)"/><path d="M0,-2.7 L0.98,2.2 L-0.98,2.2 Z" transform="translate(426.2,201.7) rotate(-7)"/><path d="M0,-2.7 L0.98,2.2 L-0.98,2.2 Z" transform="translate(431.9,202.1) rotate(-5)"/><path d="M0,-2.7 L0.98,2.2 L-0.98,2.2 Z" transform="translate(435.4,201.6) rotate(-2)"/><path d="M0,-2.7 L0.98,2.2 L-0.98,2.2 Z" transform="translate(439.7,202.5) rotate(7)"/><path d="M0,-2.7 L0.98,2.2 L-0.98,2.2 Z" transform="translate(444.7,201.9) rotate(-6)"/><path d="M0,-2.7 L0.98,2.2 L-0.98,2.2 Z" transform="translate(448.7,201.6) rotate(-3)"/><path d="M0,-2.7 L1.00,2.2 L-1.00,2.2 Z" transform="translate(398.1,205.6) rotate(-7)"/><path d="M0,-2.7 L1.00,2.2 L-1.00,2.2 Z" transform="translate(402.8,206.3) rotate(-5)"/><path d="M0,-2.7 L1.00,2.2 L-1.00,2.2 Z" transform="translate(406.7,205.3) rotate(0)"/><path d="M0,-2.7 L1.00,2.2 L-1.00,2.2 Z" transform="translate(411.9,206.9) rotate(3)"/><path d="M0,-2.7 L1.00,2.2 L-1.00,2.2 Z" transform="translate(415.2,206.0) rotate(-5)"/><path d="M0,-2.7 L1.00,2.2 L-1.00,2.2 Z" transform="translate(420.5,206.3) rotate(4)"/><path d="M0,-2.7 L1.00,2.2 L-1.00,2.2 Z" transform="translate(424.3,205.7) rotate(4)"/><path d="M0,-2.7 L1.00,2.2 L-1.00,2.2 Z" transform="translate(429.9,206.8) rotate(4)"/><path d="M0,-2.7 L1.00,2.2 L-1.00,2.2 Z" transform="translate(434.1,206.6) rotate(-4)"/><path d="M0,-2.7 L1.00,2.2 L-1.00,2.2 Z" transform="translate(438.1,205.9) rotate(-7)"/><path d="M0,-2.7 L1.00,2.2 L-1.00,2.2 Z" transform="translate(441.8,205.8) rotate(-3)"/><path d="M0,-2.7 L1.00,2.2 L-1.00,2.2 Z" transform="translate(447.4,207.0) rotate(-1)"/><path d="M0,-2.7 L1.00,2.2 L-1.00,2.2 Z" transform="translate(452.3,207.1) rotate(6)"/><path d="M0,-2.8 L1.02,2.3 L-1.02,2.3 Z" transform="translate(399.6,210.0) rotate(-4)"/><path d="M0,-2.8 L1.02,2.3 L-1.02,2.3 Z" transform="translate(403.8,210.0) rotate(2)"/><path d="M0,-2.8 L1.02,2.3 L-1.02,2.3 Z" transform="translate(409.4,211.1) rotate(-0)"/><path d="M0,-2.8 L1.02,2.3 L-1.02,2.3 Z" transform="translate(413.5,211.0) rotate(-6)"/><path d="M0,-2.8 L1.02,2.3 L-1.02,2.3 Z" transform="translate(418.1,211.2) rotate(4)"/><path d="M0,-2.8 L1.02,2.3 L-1.02,2.3 Z" transform="translate(422.7,210.5) rotate(-5)"/><path d="M0,-2.8 L1.02,2.3 L-1.02,2.3 Z" transform="translate(427.3,210.2) rotate(4)"/><path d="M0,-2.8 L1.02,2.3 L-1.02,2.3 Z" transform="translate(432.1,210.3) rotate(-1)"/><path d="M0,-2.8 L1.02,2.3 L-1.02,2.3 Z" transform="translate(436.5,210.9) rotate(-5)"/><path d="M0,-2.8 L1.02,2.3 L-1.02,2.3 Z" transform="translate(439.7,209.9) rotate(6)"/><path d="M0,-2.8 L1.02,2.3 L-1.02,2.3 Z" transform="translate(445.3,209.9) rotate(5)"/><path d="M0,-2.8 L1.02,2.3 L-1.02,2.3 Z" transform="translate(450.1,210.8) rotate(-2)"/><path d="M0,-2.8 L1.04,2.3 L-1.04,2.3 Z" transform="translate(397.7,214.1) rotate(-7)"/><path d="M0,-2.8 L1.04,2.3 L-1.04,2.3 Z" transform="translate(402.9,215.1) rotate(0)"/><path d="M0,-2.8 L1.04,2.3 L-1.04,2.3 Z" transform="translate(407.3,214.7) rotate(5)"/><path d="M0,-2.8 L1.04,2.3 L-1.04,2.3 Z" transform="translate(411.6,214.3) rotate(-3)"/><path d="M0,-2.8 L1.04,2.3 L-1.04,2.3 Z" transform="translate(415.3,214.3) rotate(1)"/><path d="M0,-2.8 L1.04,2.3 L-1.04,2.3 Z" transform="translate(419.7,214.7) rotate(-5)"/><path d="M0,-2.8 L1.04,2.3 L-1.04,2.3 Z" transform="translate(425.3,214.5) rotate(-1)"/><path d="M0,-2.8 L1.04,2.3 L-1.04,2.3 Z" transform="translate(429.2,215.5) rotate(-1)"/><path d="M0,-2.8 L1.04,2.3 L-1.04,2.3 Z" transform="translate(434.3,214.8) rotate(0)"/><path d="M0,-2.8 L1.04,2.3 L-1.04,2.3 Z" transform="translate(438.1,213.9) rotate(-1)"/><path d="M0,-2.8 L1.04,2.3 L-1.04,2.3 Z" transform="translate(442.1,213.9) rotate(4)"/><path d="M0,-2.8 L1.04,2.3 L-1.04,2.3 Z" transform="translate(446.6,214.8) rotate(3)"/><path d="M0,-2.8 L1.04,2.3 L-1.04,2.3 Z" transform="translate(451.7,214.5) rotate(0)"/><path d="M0,-2.9 L1.06,2.4 L-1.06,2.4 Z" transform="translate(399.9,219.6) rotate(-6)"/><path d="M0,-2.9 L1.06,2.4 L-1.06,2.4 Z" transform="translate(404.4,218.6) rotate(-3)"/><path d="M0,-2.9 L1.06,2.4 L-1.06,2.4 Z" transform="translate(409.2,219.1) rotate(1)"/><path d="M0,-2.9 L1.06,2.4 L-1.06,2.4 Z" transform="translate(413.7,219.8) rotate(-1)"/><path d="M0,-2.9 L1.06,2.4 L-1.06,2.4 Z" transform="translate(418.0,219.1) rotate(0)"/><path d="M0,-2.9 L1.06,2.4 L-1.06,2.4 Z" transform="translate(422.6,219.0) rotate(0)"/><path d="M0,-2.9 L1.06,2.4 L-1.06,2.4 Z" transform="translate(426.8,219.9) rotate(3)"/><path d="M0,-2.9 L1.06,2.4 L-1.06,2.4 Z" transform="translate(431.9,219.9) rotate(-3)"/><path d="M0,-2.9 L1.06,2.4 L-1.06,2.4 Z" transform="translate(435.9,219.9) rotate(5)"/><path d="M0,-2.9 L1.06,2.4 L-1.06,2.4 Z" transform="translate(439.7,218.4) rotate(-1)"/><path d="M0,-2.9 L1.06,2.4 L-1.06,2.4 Z" transform="translate(444.1,218.6) rotate(-6)"/><path d="M0,-2.9 L1.06,2.4 L-1.06,2.4 Z" transform="translate(449.6,219.6) rotate(6)"/><path d="M0,-3.0 L1.08,2.4 L-1.08,2.4 Z" transform="translate(397.0,223.8) rotate(2)"/><path d="M0,-3.0 L1.08,2.4 L-1.08,2.4 Z" transform="translate(401.5,224.1) rotate(7)"/><path d="M0,-3.0 L1.08,2.4 L-1.08,2.4 Z" transform="translate(406.2,224.2) rotate(-1)"/><path d="M0,-3.0 L1.08,2.4 L-1.08,2.4 Z" transform="translate(411.1,224.3) rotate(5)"/><path d="M0,-3.0 L1.08,2.4 L-1.08,2.4 Z" transform="translate(415.1,223.3) rotate(0)"/><path d="M0,-3.0 L1.08,2.4 L-1.08,2.4 Z" transform="translate(419.8,222.9) rotate(-3)"/><path d="M0,-3.0 L1.08,2.4 L-1.08,2.4 Z" transform="translate(425.0,222.5) rotate(1)"/><path d="M0,-3.0 L1.08,2.4 L-1.08,2.4 Z" transform="translate(429.0,222.5) rotate(-2)"/><path d="M0,-3.0 L1.08,2.4 L-1.08,2.4 Z" transform="translate(433.8,223.4) rotate(-6)"/><path d="M0,-3.0 L1.08,2.4 L-1.08,2.4 Z" transform="translate(438.9,223.9) rotate(7)"/><path d="M0,-3.0 L1.08,2.4 L-1.08,2.4 Z" transform="translate(442.0,223.0) rotate(-6)"/><path d="M0,-3.0 L1.08,2.4 L-1.08,2.4 Z" transform="translate(447.5,223.0) rotate(-5)"/><path d="M0,-3.0 L1.08,2.4 L-1.08,2.4 Z" transform="translate(451.5,224.1) rotate(4)"/><path d="M0,-3.0 L1.10,2.5 L-1.10,2.5 Z" transform="translate(399.4,227.1) rotate(6)"/><path d="M0,-3.0 L1.10,2.5 L-1.10,2.5 Z" transform="translate(404.4,228.1) rotate(-6)"/><path d="M0,-3.0 L1.10,2.5 L-1.10,2.5 Z" transform="translate(408.1,228.0) rotate(-1)"/><path d="M0,-3.0 L1.10,2.5 L-1.10,2.5 Z" transform="translate(412.6,228.5) rotate(2)"/><path d="M0,-3.0 L1.10,2.5 L-1.10,2.5 Z" transform="translate(418.3,227.0) rotate(5)"/><path d="M0,-3.0 L1.10,2.5 L-1.10,2.5 Z" transform="translate(421.6,228.4) rotate(-1)"/><path d="M0,-3.0 L1.10,2.5 L-1.10,2.5 Z" transform="translate(426.5,227.8) rotate(6)"/><path d="M0,-3.0 L1.10,2.5 L-1.10,2.5 Z" transform="translate(430.9,227.0) rotate(0)"/><path d="M0,-3.0 L1.10,2.5 L-1.10,2.5 Z" transform="translate(435.4,227.0) rotate(-5)"/><path d="M0,-3.0 L1.10,2.5 L-1.10,2.5 Z" transform="translate(439.6,227.2) rotate(-3)"/><path d="M0,-3.0 L1.10,2.5 L-1.10,2.5 Z" transform="translate(444.5,228.2) rotate(-3)"/><path d="M0,-3.0 L1.10,2.5 L-1.10,2.5 Z" transform="translate(449.3,227.1) rotate(-2)"/><path d="M0,-3.1 L1.12,2.5 L-1.12,2.5 Z" transform="translate(396.8,231.6) rotate(-7)"/><path d="M0,-3.1 L1.12,2.5 L-1.12,2.5 Z" transform="translate(402.5,232.1) rotate(-4)"/><path d="M0,-3.1 L1.12,2.5 L-1.12,2.5 Z" transform="translate(406.6,232.8) rotate(-6)"/><path d="M0,-3.1 L1.12,2.5 L-1.12,2.5 Z" transform="translate(411.6,231.9) rotate(-0)"/><path d="M0,-3.1 L1.12,2.5 L-1.12,2.5 Z" transform="translate(416.1,231.8) rotate(0)"/><path d="M0,-3.1 L1.12,2.5 L-1.12,2.5 Z" transform="translate(420.4,232.9) rotate(-2)"/><path d="M0,-3.1 L1.12,2.5 L-1.12,2.5 Z" transform="translate(425.1,232.4) rotate(2)"/><path d="M0,-3.1 L1.12,2.5 L-1.12,2.5 Z" transform="translate(428.9,231.7) rotate(-6)"/><path d="M0,-3.1 L1.12,2.5 L-1.12,2.5 Z" transform="translate(433.0,231.2) rotate(3)"/><path d="M0,-3.1 L1.12,2.5 L-1.12,2.5 Z" transform="translate(437.7,231.4) rotate(-6)"/><path d="M0,-3.1 L1.12,2.5 L-1.12,2.5 Z" transform="translate(443.1,232.7) rotate(2)"/><path d="M0,-3.1 L1.12,2.5 L-1.12,2.5 Z" transform="translate(446.8,231.5) rotate(-3)"/><path d="M0,-3.1 L1.12,2.5 L-1.12,2.5 Z" transform="translate(451.5,231.4) rotate(-1)"/><path d="M0,-3.1 L1.14,2.6 L-1.14,2.6 Z" transform="translate(399.4,237.1) rotate(7)"/><path d="M0,-3.1 L1.14,2.6 L-1.14,2.6 Z" transform="translate(404.4,235.8) rotate(7)"/><path d="M0,-3.1 L1.14,2.6 L-1.14,2.6 Z" transform="translate(408.5,236.0) rotate(-7)"/><path d="M0,-3.1 L1.14,2.6 L-1.14,2.6 Z" transform="translate(413.1,236.3) rotate(0)"/><path d="M0,-3.1 L1.14,2.6 L-1.14,2.6 Z" transform="translate(417.3,236.3) rotate(-7)"/><path d="M0,-3.1 L1.14,2.6 L-1.14,2.6 Z" transform="translate(421.9,235.6) rotate(-1)"/><path d="M0,-3.1 L1.14,2.6 L-1.14,2.6 Z" transform="translate(426.1,235.4) rotate(-3)"/><path d="M0,-3.1 L1.14,2.6 L-1.14,2.6 Z" transform="translate(430.9,236.5) rotate(0)"/><path d="M0,-3.1 L1.14,2.6 L-1.14,2.6 Z" transform="translate(436.2,236.6) rotate(3)"/><path d="M0,-3.1 L1.14,2.6 L-1.14,2.6 Z" transform="translate(440.9,236.1) rotate(-2)"/><path d="M0,-3.1 L1.14,2.6 L-1.14,2.6 Z" transform="translate(445.6,235.7) rotate(3)"/><path d="M0,-3.1 L1.14,2.6 L-1.14,2.6 Z" transform="translate(449.5,235.5) rotate(5)"/><path d="M0,-3.2 L1.16,2.6 L-1.16,2.6 Z" transform="translate(398.2,240.8) rotate(3)"/><path d="M0,-3.2 L1.16,2.6 L-1.16,2.6 Z" transform="translate(402.6,240.0) rotate(0)"/><path d="M0,-3.2 L1.16,2.6 L-1.16,2.6 Z" transform="translate(406.6,241.2) rotate(4)"/><path d="M0,-3.2 L1.16,2.6 L-1.16,2.6 Z" transform="translate(411.6,240.8) rotate(5)"/><path d="M0,-3.2 L1.16,2.6 L-1.16,2.6 Z" transform="translate(415.9,240.9) rotate(-4)"/><path d="M0,-3.2 L1.16,2.6 L-1.16,2.6 Z" transform="translate(419.3,239.9) rotate(-2)"/><path d="M0,-3.2 L1.16,2.6 L-1.16,2.6 Z" transform="translate(424.0,241.2) rotate(1)"/><path d="M0,-3.2 L1.16,2.6 L-1.16,2.6 Z" transform="translate(429.3,240.8) rotate(3)"/><path d="M0,-3.2 L1.16,2.6 L-1.16,2.6 Z" transform="translate(433.6,239.7) rotate(4)"/><path d="M0,-3.2 L1.16,2.6 L-1.16,2.6 Z" transform="translate(438.5,240.6) rotate(0)"/><path d="M0,-3.2 L1.16,2.6 L-1.16,2.6 Z" transform="translate(442.9,239.8) rotate(3)"/><path d="M0,-3.2 L1.16,2.6 L-1.16,2.6 Z" transform="translate(446.7,239.8) rotate(-3)"/><path d="M0,-3.2 L1.16,2.6 L-1.16,2.6 Z" transform="translate(452.0,240.1) rotate(3)"/><path d="M0,-3.3 L1.18,2.7 L-1.18,2.7 Z" transform="translate(400.6,244.9) rotate(-2)"/><path d="M0,-3.3 L1.18,2.7 L-1.18,2.7 Z" transform="translate(404.3,245.2) rotate(4)"/><path d="M0,-3.3 L1.18,2.7 L-1.18,2.7 Z" transform="translate(409.0,245.2) rotate(-6)"/><path d="M0,-3.3 L1.18,2.7 L-1.18,2.7 Z" transform="translate(412.7,244.5) rotate(3)"/><path d="M0,-3.3 L1.18,2.7 L-1.18,2.7 Z" transform="translate(417.5,245.0) rotate(-7)"/><path d="M0,-3.3 L1.18,2.7 L-1.18,2.7 Z" transform="translate(421.6,244.5) rotate(2)"/><path d="M0,-3.3 L1.18,2.7 L-1.18,2.7 Z" transform="translate(427.1,245.2) rotate(-3)"/><path d="M0,-3.3 L1.18,2.7 L-1.18,2.7 Z" transform="translate(431.3,244.8) rotate(-0)"/><path d="M0,-3.3 L1.18,2.7 L-1.18,2.7 Z" transform="translate(435.2,245.6) rotate(-4)"/><path d="M0,-3.3 L1.18,2.7 L-1.18,2.7 Z" transform="translate(441.1,245.7) rotate(-7)"/><path d="M0,-3.3 L1.18,2.7 L-1.18,2.7 Z" transform="translate(444.7,245.5) rotate(7)"/><path d="M0,-3.3 L1.18,2.7 L-1.18,2.7 Z" transform="translate(449.2,244.5) rotate(-4)"/></g><g fill="#14060a" fill-opacity="0.7" filter="url(#bl4)"><path d="M0,-1.7 L0.74,1.4 L-0.74,1.4 Z" transform="translate(349.8,248.0) rotate(33)"/><path d="M0,-1.7 L0.75,1.4 L-0.75,1.4 Z" transform="translate(354.8,247.9) rotate(32)"/><path d="M0,-1.7 L0.77,1.4 L-0.77,1.4 Z" transform="translate(360.4,249.3) rotate(32)"/><path d="M0,-1.8 L0.78,1.5 L-0.78,1.5 Z" transform="translate(365.4,249.1) rotate(31)"/><path d="M0,-1.8 L0.81,1.5 L-0.81,1.5 Z" transform="translate(371.8,249.2) rotate(30)"/><path d="M0,-1.9 L0.83,1.6 L-0.83,1.6 Z" transform="translate(377.9,248.0) rotate(30)"/><path d="M0,-2.0 L0.86,1.7 L-0.86,1.7 Z" transform="translate(383.9,248.5) rotate(29)"/><path d="M0,-2.1 L0.89,1.7 L-0.89,1.7 Z" transform="translate(388.0,247.6) rotate(27)"/><path d="M0,-2.2 L0.93,1.8 L-0.93,1.8 Z" transform="translate(394.6,248.4) rotate(25)"/><path d="M0,-2.3 L0.96,1.9 L-0.96,1.9 Z" transform="translate(399.9,247.9) rotate(23)"/><path d="M0,-2.4 L0.99,2.0 L-0.99,2.0 Z" transform="translate(405.7,248.2) rotate(20)"/><path d="M0,-2.5 L1.02,2.1 L-1.02,2.1 Z" transform="translate(412.3,247.6) rotate(15)"/><path d="M0,-2.6 L1.04,2.1 L-1.04,2.1 Z" transform="translate(417.9,249.1) rotate(9)"/><path d="M0,-2.6 L1.05,2.1 L-1.05,2.1 Z" transform="translate(422.4,249.3) rotate(1)"/><path d="M0,-2.6 L1.05,2.1 L-1.05,2.1 Z" transform="translate(429.2,249.2) rotate(-7)"/><path d="M0,-2.6 L1.04,2.1 L-1.04,2.1 Z" transform="translate(434.1,248.3) rotate(-14)"/><path d="M0,-2.5 L1.02,2.1 L-1.02,2.1 Z" transform="translate(440.0,249.4) rotate(-19)"/><path d="M0,-2.4 L0.99,2.0 L-0.99,2.0 Z" transform="translate(446.1,248.2) rotate(-22)"/><path d="M0,-2.3 L0.96,1.9 L-0.96,1.9 Z" transform="translate(451.5,248.1) rotate(-25)"/><path d="M0,-2.2 L0.93,1.8 L-0.93,1.8 Z" transform="translate(456.5,247.8) rotate(-27)"/><path d="M0,-2.1 L0.89,1.7 L-0.89,1.7 Z" transform="translate(463.6,248.1) rotate(-28)"/><path d="M0,-2.0 L0.86,1.7 L-0.86,1.7 Z" transform="translate(469.5,248.0) rotate(-29)"/><path d="M0,-1.9 L0.83,1.6 L-0.83,1.6 Z" transform="translate(474.0,248.5) rotate(-30)"/><path d="M0,-1.8 L0.81,1.5 L-0.81,1.5 Z" transform="translate(479.5,248.3) rotate(-31)"/><path d="M0,-1.8 L0.78,1.5 L-0.78,1.5 Z" transform="translate(486.6,249.2) rotate(-32)"/><path d="M0,-1.7 L0.77,1.4 L-0.77,1.4 Z" transform="translate(492.1,248.7) rotate(-32)"/><path d="M0,-1.7 L0.75,1.4 L-0.75,1.4 Z" transform="translate(497.9,249.3) rotate(-32)"/><path d="M0,-1.7 L0.75,1.4 L-0.75,1.4 Z" transform="translate(351.8,253.8) rotate(31)"/><path d="M0,-1.7 L0.76,1.4 L-0.76,1.4 Z" transform="translate(356.6,253.8) rotate(30)"/><path d="M0,-1.7 L0.77,1.4 L-0.77,1.4 Z" transform="translate(363.0,253.9) rotate(30)"/><path d="M0,-1.8 L0.79,1.5 L-0.79,1.5 Z" transform="translate(369.1,253.0) rotate(29)"/><path d="M0,-1.9 L0.81,1.5 L-0.81,1.5 Z" transform="translate(373.7,254.2) rotate(28)"/><path d="M0,-1.9 L0.83,1.6 L-0.83,1.6 Z" transform="translate(379.5,253.3) rotate(27)"/><path d="M0,-2.0 L0.86,1.7 L-0.86,1.7 Z" transform="translate(385.6,253.0) rotate(25)"/><path d="M0,-2.1 L0.89,1.7 L-0.89,1.7 Z" transform="translate(392.0,254.3) rotate(24)"/><path d="M0,-2.2 L0.92,1.8 L-0.92,1.8 Z" transform="translate(396.9,253.7) rotate(22)"/><path d="M0,-2.3 L0.95,1.9 L-0.95,1.9 Z" transform="translate(402.6,253.5) rotate(19)"/><path d="M0,-2.4 L0.98,2.0 L-0.98,2.0 Z" transform="translate(408.5,252.8) rotate(15)"/><path d="M0,-2.5 L1.00,2.0 L-1.00,2.0 Z" transform="translate(413.8,252.9) rotate(10)"/><path d="M0,-2.5 L1.02,2.1 L-1.02,2.1 Z" transform="translate(420.8,253.4) rotate(4)"/><path d="M0,-2.5 L1.02,2.1 L-1.02,2.1 Z" transform="translate(425.3,254.1) rotate(-2)"/><path d="M0,-2.5 L1.02,2.1 L-1.02,2.1 Z" transform="translate(432.4,253.3) rotate(-8)"/><path d="M0,-2.5 L1.00,2.0 L-1.00,2.0 Z" transform="translate(436.6,252.8) rotate(-13)"/><path d="M0,-2.4 L0.98,2.0 L-0.98,2.0 Z" transform="translate(442.2,253.1) rotate(-17)"/><path d="M0,-2.3 L0.96,1.9 L-0.96,1.9 Z" transform="translate(447.9,252.9) rotate(-21)"/><path d="M0,-2.2 L0.93,1.8 L-0.93,1.8 Z" transform="translate(453.9,253.5) rotate(-23)"/><path d="M0,-2.1 L0.90,1.7 L-0.90,1.7 Z" transform="translate(460.7,253.8) rotate(-25)"/><path d="M0,-2.0 L0.87,1.7 L-0.87,1.7 Z" transform="translate(465.5,253.2) rotate(-26)"/><path d="M0,-1.9 L0.84,1.6 L-0.84,1.6 Z" transform="translate(471.4,253.2) rotate(-28)"/><path d="M0,-1.9 L0.81,1.5 L-0.81,1.5 Z" transform="translate(476.8,252.6) rotate(-29)"/><path d="M0,-1.8 L0.79,1.5 L-0.79,1.5 Z" transform="translate(482.4,254.2) rotate(-29)"/><path d="M0,-1.7 L0.77,1.4 L-0.77,1.4 Z" transform="translate(487.8,253.4) rotate(-30)"/><path d="M0,-1.7 L0.76,1.4 L-0.76,1.4 Z" transform="translate(494.4,254.1) rotate(-31)"/><path d="M0,-1.7 L0.75,1.4 L-0.75,1.4 Z" transform="translate(499.4,253.0) rotate(-31)"/><path d="M0,-1.6 L0.74,1.3 L-0.74,1.3 Z" transform="translate(348.5,258.1) rotate(30)"/><path d="M0,-1.7 L0.75,1.4 L-0.75,1.4 Z" transform="translate(354.6,259.1) rotate(29)"/><path d="M0,-1.7 L0.76,1.4 L-0.76,1.4 Z" transform="translate(361.0,259.0) rotate(28)"/><path d="M0,-1.8 L0.77,1.4 L-0.77,1.4 Z" transform="translate(365.2,257.5) rotate(28)"/><path d="M0,-1.8 L0.79,1.5 L-0.79,1.5 Z" transform="translate(372.2,259.0) rotate(27)"/><path d="M0,-1.9 L0.81,1.5 L-0.81,1.5 Z" transform="translate(377.5,258.5) rotate(25)"/><path d="M0,-2.0 L0.84,1.6 L-0.84,1.6 Z" transform="translate(382.3,258.1) rotate(24)"/><path d="M0,-2.0 L0.87,1.7 L-0.87,1.7 Z" transform="translate(389.7,258.9) rotate(22)"/><path d="M0,-2.1 L0.89,1.7 L-0.89,1.7 Z" transform="translate(395.2,259.2) rotate(20)"/><path d="M0,-2.2 L0.92,1.8 L-0.92,1.8 Z" transform="translate(399.8,257.6) rotate(18)"/><path d="M0,-2.3 L0.95,1.9 L-0.95,1.9 Z" transform="translate(405.4,258.3) rotate(14)"/><path d="M0,-2.4 L0.97,1.9 L-0.97,1.9 Z" transform="translate(412.0,259.1) rotate(11)"/><path d="M0,-2.4 L0.99,2.0 L-0.99,2.0 Z" transform="translate(417.8,258.6) rotate(6)"/><path d="M0,-2.4 L0.99,2.0 L-0.99,2.0 Z" transform="translate(423.6,258.2) rotate(1)"/><path d="M0,-2.4 L0.99,2.0 L-0.99,2.0 Z" transform="translate(428.9,257.5) rotate(-4)"/><path d="M0,-2.4 L0.99,2.0 L-0.99,2.0 Z" transform="translate(435.0,257.8) rotate(-9)"/><path d="M0,-2.4 L0.97,1.9 L-0.97,1.9 Z" transform="translate(441.0,258.6) rotate(-13)"/><path d="M0,-2.3 L0.95,1.9 L-0.95,1.9 Z" transform="translate(445.5,257.6) rotate(-17)"/><path d="M0,-2.2 L0.92,1.8 L-0.92,1.8 Z" transform="translate(451.2,258.5) rotate(-19)"/><path d="M0,-2.1 L0.89,1.7 L-0.89,1.7 Z" transform="translate(457.7,257.6) rotate(-22)"/><path d="M0,-2.0 L0.87,1.7 L-0.87,1.7 Z" transform="translate(462.2,258.3) rotate(-24)"/><path d="M0,-2.0 L0.84,1.6 L-0.84,1.6 Z" transform="translate(468.8,258.1) rotate(-25)"/><path d="M0,-1.9 L0.81,1.5 L-0.81,1.5 Z" transform="translate(473.9,258.5) rotate(-26)"/><path d="M0,-1.8 L0.79,1.5 L-0.79,1.5 Z" transform="translate(479.2,257.9) rotate(-27)"/><path d="M0,-1.8 L0.77,1.4 L-0.77,1.4 Z" transform="translate(485.7,259.1) rotate(-28)"/><path d="M0,-1.7 L0.76,1.4 L-0.76,1.4 Z" transform="translate(491.8,259.0) rotate(-29)"/><path d="M0,-1.7 L0.75,1.4 L-0.75,1.4 Z" transform="translate(497.2,257.8) rotate(-29)"/><path d="M0,-1.7 L0.74,1.4 L-0.74,1.4 Z" transform="translate(351.2,264.0) rotate(28)"/><path d="M0,-1.7 L0.75,1.4 L-0.75,1.4 Z" transform="translate(357.8,262.9) rotate(27)"/><path d="M0,-1.7 L0.76,1.4 L-0.76,1.4 Z" transform="translate(362.2,263.2) rotate(26)"/><path d="M0,-1.8 L0.78,1.4 L-0.78,1.4 Z" transform="translate(369.1,263.1) rotate(25)"/><path d="M0,-1.8 L0.80,1.5 L-0.80,1.5 Z" transform="translate(374.1,263.5) rotate(24)"/><path d="M0,-1.9 L0.82,1.5 L-0.82,1.5 Z" transform="translate(381.0,262.7) rotate(23)"/><path d="M0,-2.0 L0.84,1.6 L-0.84,1.6 Z" transform="translate(385.1,262.9) rotate(21)"/><path d="M0,-2.0 L0.87,1.7 L-0.87,1.7 Z" transform="translate(391.5,263.5) rotate(19)"/><path d="M0,-2.1 L0.89,1.7 L-0.89,1.7 Z" transform="translate(396.8,263.7) rotate(17)"/><path d="M0,-2.2 L0.92,1.8 L-0.92,1.8 Z" transform="translate(403.4,263.2) rotate(14)"/><path d="M0,-2.3 L0.94,1.9 L-0.94,1.9 Z" transform="translate(408.2,264.0) rotate(11)"/><path d="M0,-2.3 L0.96,1.9 L-0.96,1.9 Z" transform="translate(414.1,263.8) rotate(7)"/><path d="M0,-2.4 L0.97,1.9 L-0.97,1.9 Z" transform="translate(419.6,262.7) rotate(3)"/><path d="M0,-2.4 L0.97,1.9 L-0.97,1.9 Z" transform="translate(426.3,262.8) rotate(-1)"/><path d="M0,-2.4 L0.97,1.9 L-0.97,1.9 Z" transform="translate(432.3,263.2) rotate(-6)"/><path d="M0,-2.3 L0.96,1.9 L-0.96,1.9 Z" transform="translate(436.6,262.7) rotate(-10)"/><path d="M0,-2.3 L0.94,1.9 L-0.94,1.9 Z" transform="translate(442.8,263.5) rotate(-13)"/><path d="M0,-2.2 L0.92,1.8 L-0.92,1.8 Z" transform="translate(449.4,262.6) rotate(-16)"/><path d="M0,-2.1 L0.89,1.7 L-0.89,1.7 Z" transform="translate(454.1,262.7) rotate(-19)"/><path d="M0,-2.0 L0.87,1.7 L-0.87,1.7 Z" transform="translate(460.9,262.6) rotate(-21)"/><path d="M0,-2.0 L0.84,1.6 L-0.84,1.6 Z" transform="translate(464.9,262.4) rotate(-22)"/><path d="M0,-1.9 L0.82,1.5 L-0.82,1.5 Z" transform="translate(471.2,263.9) rotate(-24)"/><path d="M0,-1.8 L0.80,1.5 L-0.80,1.5 Z" transform="translate(477.8,263.6) rotate(-25)"/><path d="M0,-1.8 L0.78,1.4 L-0.78,1.4 Z" transform="translate(483.7,264.0) rotate(-26)"/><path d="M0,-1.7 L0.76,1.4 L-0.76,1.4 Z" transform="translate(488.2,262.6) rotate(-27)"/><path d="M0,-1.7 L0.75,1.4 L-0.75,1.4 Z" transform="translate(495.0,263.6) rotate(-28)"/><path d="M0,-1.7 L0.74,1.4 L-0.74,1.4 Z" transform="translate(499.1,263.5) rotate(-28)"/><path d="M0,-1.6 L0.74,1.3 L-0.74,1.3 Z" transform="translate(348.8,267.9) rotate(27)"/><path d="M0,-1.7 L0.75,1.4 L-0.75,1.4 Z" transform="translate(354.4,267.5) rotate(26)"/><path d="M0,-1.7 L0.75,1.4 L-0.75,1.4 Z" transform="translate(359.5,267.7) rotate(25)"/><path d="M0,-1.7 L0.77,1.4 L-0.77,1.4 Z" transform="translate(365.8,268.9) rotate(24)"/><path d="M0,-1.8 L0.78,1.4 L-0.78,1.4 Z" transform="translate(371.1,268.9) rotate(23)"/><path d="M0,-1.8 L0.80,1.5 L-0.80,1.5 Z" transform="translate(377.0,267.8) rotate(22)"/><path d="M0,-1.9 L0.82,1.5 L-0.82,1.5 Z" transform="translate(383.8,268.7) rotate(20)"/><path d="M0,-2.0 L0.84,1.6 L-0.84,1.6 Z" transform="translate(388.8,267.3) rotate(19)"/><path d="M0,-2.0 L0.87,1.7 L-0.87,1.7 Z" transform="translate(394.6,267.9) rotate(16)"/><path d="M0,-2.1 L0.89,1.7 L-0.89,1.7 Z" transform="translate(401.1,267.5) rotate(14)"/><path d="M0,-2.2 L0.91,1.8 L-0.91,1.8 Z" transform="translate(405.8,268.8) rotate(11)"/><path d="M0,-2.2 L0.93,1.8 L-0.93,1.8 Z" transform="translate(410.9,267.9) rotate(8)"/><path d="M0,-2.3 L0.94,1.9 L-0.94,1.9 Z" transform="translate(418.0,268.6) rotate(4)"/><path d="M0,-2.3 L0.95,1.9 L-0.95,1.9 Z" transform="translate(422.3,267.3) rotate(1)"/><path d="M0,-2.3 L0.95,1.9 L-0.95,1.9 Z" transform="translate(428.0,268.9) rotate(-3)"/><path d="M0,-2.3 L0.94,1.9 L-0.94,1.9 Z" transform="translate(434.1,268.5) rotate(-7)"/><path d="M0,-2.2 L0.93,1.8 L-0.93,1.8 Z" transform="translate(440.9,267.8) rotate(-10)"/><path d="M0,-2.2 L0.91,1.8 L-0.91,1.8 Z" transform="translate(445.5,268.9) rotate(-13)"/><path d="M0,-2.1 L0.89,1.7 L-0.89,1.7 Z" transform="translate(451.8,267.7) rotate(-16)"/><path d="M0,-2.0 L0.87,1.7 L-0.87,1.7 Z" transform="translate(457.7,267.8) rotate(-18)"/><path d="M0,-2.0 L0.84,1.6 L-0.84,1.6 Z" transform="translate(462.6,267.2) rotate(-20)"/><path d="M0,-1.9 L0.82,1.6 L-0.82,1.6 Z" transform="translate(469.2,268.8) rotate(-21)"/><path d="M0,-1.8 L0.80,1.5 L-0.80,1.5 Z" transform="translate(474.6,268.9) rotate(-23)"/><path d="M0,-1.8 L0.78,1.5 L-0.78,1.5 Z" transform="translate(479.2,267.6) rotate(-24)"/><path d="M0,-1.7 L0.77,1.4 L-0.77,1.4 Z" transform="translate(485.8,268.9) rotate(-25)"/><path d="M0,-1.7 L0.75,1.4 L-0.75,1.4 Z" transform="translate(492.3,267.9) rotate(-26)"/><path d="M0,-1.7 L0.75,1.4 L-0.75,1.4 Z" transform="translate(496.8,268.0) rotate(-27)"/><path d="M0,-1.6 L0.74,1.3 L-0.74,1.3 Z" transform="translate(351.7,273.8) rotate(25)"/><path d="M0,-1.7 L0.75,1.4 L-0.75,1.4 Z" transform="translate(356.8,273.5) rotate(25)"/><path d="M0,-1.7 L0.76,1.4 L-0.76,1.4 Z" transform="translate(363.5,273.6) rotate(24)"/><path d="M0,-1.7 L0.77,1.4 L-0.77,1.4 Z" transform="translate(369.3,273.2) rotate(22)"/><path d="M0,-1.8 L0.78,1.5 L-0.78,1.5 Z" transform="translate(374.2,272.7) rotate(21)"/><path d="M0,-1.8 L0.80,1.5 L-0.80,1.5 Z" transform="translate(380.0,273.5) rotate(20)"/><path d="M0,-1.9 L0.82,1.6 L-0.82,1.6 Z" transform="translate(385.1,272.5) rotate(18)"/><path d="M0,-2.0 L0.84,1.6 L-0.84,1.6 Z" transform="translate(392.1,272.5) rotate(16)"/><path d="M0,-2.0 L0.86,1.7 L-0.86,1.7 Z" transform="translate(396.5,272.2) rotate(14)"/><path d="M0,-2.1 L0.89,1.7 L-0.89,1.7 Z" transform="translate(403.1,272.7) rotate(11)"/><path d="M0,-2.2 L0.90,1.8 L-0.90,1.8 Z" transform="translate(409.6,273.7) rotate(9)"/><path d="M0,-2.2 L0.92,1.8 L-0.92,1.8 Z" transform="translate(415.3,272.6) rotate(6)"/><path d="M0,-2.2 L0.93,1.8 L-0.93,1.8 Z" transform="translate(419.4,272.3) rotate(2)"/><path d="M0,-2.2 L0.93,1.8 L-0.93,1.8 Z" transform="translate(425.8,273.4) rotate(-1)"/><path d="M0,-2.2 L0.93,1.8 L-0.93,1.8 Z" transform="translate(431.4,272.5) rotate(-4)"/><path d="M0,-2.2 L0.92,1.8 L-0.92,1.8 Z" transform="translate(437.1,273.2) rotate(-7)"/><path d="M0,-2.2 L0.91,1.8 L-0.91,1.8 Z" transform="translate(443.2,273.4) rotate(-10)"/><path d="M0,-2.1 L0.89,1.7 L-0.89,1.7 Z" transform="translate(449.2,273.3) rotate(-13)"/><path d="M0,-2.0 L0.87,1.7 L-0.87,1.7 Z" transform="translate(453.6,273.6) rotate(-15)"/><path d="M0,-2.0 L0.84,1.6 L-0.84,1.6 Z" transform="translate(459.6,273.1) rotate(-17)"/><path d="M0,-1.9 L0.82,1.6 L-0.82,1.6 Z" transform="translate(465.5,273.4) rotate(-19)"/><path d="M0,-1.8 L0.80,1.5 L-0.80,1.5 Z" transform="translate(470.9,272.5) rotate(-21)"/><path d="M0,-1.8 L0.79,1.5 L-0.79,1.5 Z" transform="translate(476.6,272.4) rotate(-22)"/><path d="M0,-1.7 L0.77,1.4 L-0.77,1.4 Z" transform="translate(483.5,273.1) rotate(-23)"/><path d="M0,-1.7 L0.76,1.4 L-0.76,1.4 Z" transform="translate(488.2,272.8) rotate(-24)"/><path d="M0,-1.7 L0.75,1.4 L-0.75,1.4 Z" transform="translate(495.1,273.0) rotate(-25)"/><path d="M0,-1.6 L0.74,1.3 L-0.74,1.3 Z" transform="translate(499.4,273.6) rotate(-26)"/><path d="M0,-1.6 L0.74,1.3 L-0.74,1.3 Z" transform="translate(349.3,278.8) rotate(25)"/><path d="M0,-1.6 L0.74,1.3 L-0.74,1.3 Z" transform="translate(354.0,277.9) rotate(24)"/><path d="M0,-1.7 L0.75,1.4 L-0.75,1.4 Z" transform="translate(361.0,278.5) rotate(23)"/><path d="M0,-1.7 L0.76,1.4 L-0.76,1.4 Z" transform="translate(366.8,277.1) rotate(22)"/><path d="M0,-1.7 L0.77,1.4 L-0.77,1.4 Z" transform="translate(371.4,277.2) rotate(20)"/><path d="M0,-1.8 L0.79,1.5 L-0.79,1.5 Z" transform="translate(376.9,278.8) rotate(19)"/><path d="M0,-1.8 L0.80,1.5 L-0.80,1.5 Z" transform="translate(383.3,278.7) rotate(17)"/><path d="M0,-1.9 L0.82,1.6 L-0.82,1.6 Z" transform="translate(388.7,278.6) rotate(16)"/><path d="M0,-2.0 L0.84,1.6 L-0.84,1.6 Z" transform="translate(394.5,277.5) rotate(14)"/><path d="M0,-2.0 L0.86,1.7 L-0.86,1.7 Z" transform="translate(400.8,278.7) rotate(11)"/><path d="M0,-2.1 L0.88,1.7 L-0.88,1.7 Z" transform="translate(405.3,278.1) rotate(9)"/><path d="M0,-2.1 L0.90,1.7 L-0.90,1.7 Z" transform="translate(411.9,277.4) rotate(6)"/><path d="M0,-2.2 L0.91,1.8 L-0.91,1.8 Z" transform="translate(417.2,277.3) rotate(3)"/><path d="M0,-2.2 L0.91,1.8 L-0.91,1.8 Z" transform="translate(422.6,277.5) rotate(0)"/><path d="M0,-2.2 L0.91,1.8 L-0.91,1.8 Z" transform="translate(429.0,278.2) rotate(-3)"/><path d="M0,-2.2 L0.91,1.8 L-0.91,1.8 Z" transform="translate(434.0,277.0) rotate(-5)"/><path d="M0,-2.1 L0.90,1.7 L-0.90,1.7 Z" transform="translate(439.9,278.2) rotate(-8)"/><path d="M0,-2.1 L0.88,1.7 L-0.88,1.7 Z" transform="translate(445.3,277.6) rotate(-11)"/><path d="M0,-2.0 L0.86,1.7 L-0.86,1.7 Z" transform="translate(451.1,278.4) rotate(-13)"/><path d="M0,-2.0 L0.84,1.6 L-0.84,1.6 Z" transform="translate(457.4,277.1) rotate(-15)"/><path d="M0,-1.9 L0.82,1.6 L-0.82,1.6 Z" transform="translate(462.3,277.7) rotate(-17)"/><path d="M0,-1.8 L0.80,1.5 L-0.80,1.5 Z" transform="translate(468.8,278.2) rotate(-19)"/><path d="M0,-1.8 L0.79,1.5 L-0.79,1.5 Z" transform="translate(473.7,277.3) rotate(-20)"/><path d="M0,-1.7 L0.77,1.4 L-0.77,1.4 Z" transform="translate(480.5,277.7) rotate(-21)"/><path d="M0,-1.7 L0.76,1.4 L-0.76,1.4 Z" transform="translate(485.4,277.6) rotate(-22)"/><path d="M0,-1.7 L0.75,1.4 L-0.75,1.4 Z" transform="translate(492.3,277.6) rotate(-23)"/><path d="M0,-1.6 L0.74,1.3 L-0.74,1.3 Z" transform="translate(497.3,277.6) rotate(-24)"/><path d="M0,-1.6 L0.74,1.3 L-0.74,1.3 Z" transform="translate(351.5,283.5) rotate(23)"/><path d="M0,-1.7 L0.74,1.4 L-0.74,1.4 Z" transform="translate(358.3,282.6) rotate(22)"/><path d="M0,-1.7 L0.75,1.4 L-0.75,1.4 Z" transform="translate(362.6,283.2) rotate(21)"/><path d="M0,-1.7 L0.76,1.4 L-0.76,1.4 Z" transform="translate(368.3,281.9) rotate(20)"/><path d="M0,-1.8 L0.77,1.4 L-0.77,1.4 Z" transform="translate(375.2,282.7) rotate(19)"/><path d="M0,-1.8 L0.79,1.5 L-0.79,1.5 Z" transform="translate(380.8,282.6) rotate(17)"/><path d="M0,-1.8 L0.81,1.5 L-0.81,1.5 Z" transform="translate(386.6,282.7) rotate(15)"/><path d="M0,-1.9 L0.82,1.6 L-0.82,1.6 Z" transform="translate(391.0,281.9) rotate(14)"/><path d="M0,-2.0 L0.84,1.6 L-0.84,1.6 Z" transform="translate(397.4,283.1) rotate(12)"/><path d="M0,-2.0 L0.86,1.7 L-0.86,1.7 Z" transform="translate(403.7,282.1) rotate(9)"/><path d="M0,-2.1 L0.88,1.7 L-0.88,1.7 Z" transform="translate(408.9,282.6) rotate(7)"/><path d="M0,-2.1 L0.89,1.7 L-0.89,1.7 Z" transform="translate(414.4,282.2) rotate(4)"/><path d="M0,-2.1 L0.90,1.7 L-0.90,1.7 Z" transform="translate(419.7,282.8) rotate(2)"/><path d="M0,-2.1 L0.90,1.7 L-0.90,1.7 Z" transform="translate(426.6,282.1) rotate(-1)"/><path d="M0,-2.1 L0.90,1.7 L-0.90,1.7 Z" transform="translate(431.5,283.3) rotate(-4)"/><path d="M0,-2.1 L0.89,1.7 L-0.89,1.7 Z" transform="translate(438.0,282.3) rotate(-6)"/><path d="M0,-2.1 L0.88,1.7 L-0.88,1.7 Z" transform="translate(442.2,283.6) rotate(-9)"/><path d="M0,-2.0 L0.86,1.7 L-0.86,1.7 Z" transform="translate(449.5,282.8) rotate(-11)"/><path d="M0,-2.0 L0.84,1.6 L-0.84,1.6 Z" transform="translate(453.5,283.6) rotate(-13)"/><path d="M0,-1.9 L0.83,1.6 L-0.83,1.6 Z" transform="translate(459.8,283.5) rotate(-15)"/><path d="M0,-1.9 L0.81,1.5 L-0.81,1.5 Z" transform="translate(465.9,283.4) rotate(-17)"/><path d="M0,-1.8 L0.79,1.5 L-0.79,1.5 Z" transform="translate(470.8,283.3) rotate(-18)"/><path d="M0,-1.8 L0.78,1.4 L-0.78,1.4 Z" transform="translate(476.6,282.6) rotate(-19)"/><path d="M0,-1.7 L0.76,1.4 L-0.76,1.4 Z" transform="translate(483.4,283.4) rotate(-21)"/><path d="M0,-1.7 L0.75,1.4 L-0.75,1.4 Z" transform="translate(487.9,282.3) rotate(-22)"/><path d="M0,-1.7 L0.74,1.4 L-0.74,1.4 Z" transform="translate(494.0,282.8) rotate(-23)"/><path d="M0,-1.6 L0.74,1.3 L-0.74,1.3 Z" transform="translate(499.7,282.1) rotate(-24)"/><path d="M0,-1.6 L0.73,1.3 L-0.73,1.3 Z" transform="translate(348.5,288.1) rotate(22)"/><path d="M0,-1.6 L0.74,1.3 L-0.74,1.3 Z" transform="translate(355.4,286.9) rotate(22)"/><path d="M0,-1.7 L0.75,1.4 L-0.75,1.4 Z" transform="translate(360.5,288.2) rotate(20)"/><path d="M0,-1.7 L0.75,1.4 L-0.75,1.4 Z" transform="translate(365.3,288.3) rotate(19)"/><path d="M0,-1.7 L0.76,1.4 L-0.76,1.4 Z" transform="translate(371.1,287.9) rotate(18)"/><path d="M0,-1.8 L0.78,1.4 L-0.78,1.4 Z" transform="translate(377.6,287.9) rotate(17)"/><path d="M0,-1.8 L0.79,1.5 L-0.79,1.5 Z" transform="translate(382.9,287.6) rotate(15)"/><path d="M0,-1.9 L0.81,1.5 L-0.81,1.5 Z" transform="translate(389.0,287.6) rotate(14)"/><path d="M0,-1.9 L0.82,1.6 L-0.82,1.6 Z" transform="translate(394.9,287.6) rotate(12)"/><path d="M0,-2.0 L0.84,1.6 L-0.84,1.6 Z" transform="translate(400.2,286.8) rotate(10)"/><path d="M0,-2.0 L0.86,1.6 L-0.86,1.6 Z" transform="translate(406.2,287.7) rotate(8)"/><path d="M0,-2.0 L0.87,1.7 L-0.87,1.7 Z" transform="translate(411.2,288.2) rotate(5)"/><path d="M0,-2.1 L0.88,1.7 L-0.88,1.7 Z" transform="translate(417.9,287.6) rotate(3)"/><path d="M0,-2.1 L0.88,1.7 L-0.88,1.7 Z" transform="translate(422.5,287.7) rotate(0)"/><path d="M0,-2.1 L0.88,1.7 L-0.88,1.7 Z" transform="translate(428.1,287.0) rotate(-2)"/><path d="M0,-2.1 L0.88,1.7 L-0.88,1.7 Z" transform="translate(434.4,287.0) rotate(-4)"/><path d="M0,-2.0 L0.87,1.7 L-0.87,1.7 Z" transform="translate(440.1,287.7) rotate(-7)"/><path d="M0,-2.0 L0.86,1.6 L-0.86,1.6 Z" transform="translate(445.1,287.9) rotate(-9)"/><path d="M0,-2.0 L0.84,1.6 L-0.84,1.6 Z" transform="translate(450.8,288.1) rotate(-11)"/><path d="M0,-1.9 L0.82,1.6 L-0.82,1.6 Z" transform="translate(457.8,287.7) rotate(-13)"/><path d="M0,-1.9 L0.81,1.5 L-0.81,1.5 Z" transform="translate(462.2,287.7) rotate(-15)"/><path d="M0,-1.8 L0.79,1.5 L-0.79,1.5 Z" transform="translate(468.5,288.5) rotate(-16)"/><path d="M0,-1.8 L0.78,1.4 L-0.78,1.4 Z" transform="translate(473.7,288.3) rotate(-18)"/><path d="M0,-1.7 L0.76,1.4 L-0.76,1.4 Z" transform="translate(481.0,288.1) rotate(-19)"/><path d="M0,-1.7 L0.75,1.4 L-0.75,1.4 Z" transform="translate(486.4,287.1) rotate(-20)"/><path d="M0,-1.7 L0.75,1.4 L-0.75,1.4 Z" transform="translate(492.4,287.7) rotate(-21)"/><path d="M0,-1.6 L0.74,1.3 L-0.74,1.3 Z" transform="translate(498.0,288.4) rotate(-22)"/><path d="M0,-1.6 L0.74,1.3 L-0.74,1.3 Z" transform="translate(351.1,293.1) rotate(21)"/><path d="M0,-1.6 L0.74,1.3 L-0.74,1.3 Z" transform="translate(358.2,291.8) rotate(20)"/><path d="M0,-1.7 L0.75,1.4 L-0.75,1.4 Z" transform="translate(362.8,293.1) rotate(19)"/><path d="M0,-1.7 L0.76,1.4 L-0.76,1.4 Z" transform="translate(368.2,293.3) rotate(18)"/><path d="M0,-1.7 L0.77,1.4 L-0.77,1.4 Z" transform="translate(374.1,293.2) rotate(16)"/><path d="M0,-1.8 L0.78,1.4 L-0.78,1.4 Z" transform="translate(379.6,292.6) rotate(15)"/><path d="M0,-1.8 L0.79,1.5 L-0.79,1.5 Z" transform="translate(386.7,292.1) rotate(14)"/><path d="M0,-1.9 L0.81,1.5 L-0.81,1.5 Z" transform="translate(391.2,292.6) rotate(12)"/><path d="M0,-1.9 L0.82,1.6 L-0.82,1.6 Z" transform="translate(397.0,291.8) rotate(10)"/><path d="M0,-1.9 L0.84,1.6 L-0.84,1.6 Z" transform="translate(402.4,292.0) rotate(8)"/><path d="M0,-2.0 L0.85,1.6 L-0.85,1.6 Z" transform="translate(409.5,292.9) rotate(6)"/><path d="M0,-2.0 L0.86,1.7 L-0.86,1.7 Z" transform="translate(415.1,292.0) rotate(4)"/><path d="M0,-2.0 L0.87,1.7 L-0.87,1.7 Z" transform="translate(420.6,291.9) rotate(2)"/><path d="M0,-2.0 L0.87,1.7 L-0.87,1.7 Z" transform="translate(425.9,292.8) rotate(-1)"/><path d="M0,-2.0 L0.87,1.7 L-0.87,1.7 Z" transform="translate(431.2,293.3) rotate(-3)"/><path d="M0,-2.0 L0.86,1.7 L-0.86,1.7 Z" transform="translate(437.3,292.7) rotate(-5)"/><path d="M0,-2.0 L0.85,1.6 L-0.85,1.6 Z" transform="translate(443.6,291.9) rotate(-7)"/><path d="M0,-2.0 L0.84,1.6 L-0.84,1.6 Z" transform="translate(449.5,292.8) rotate(-9)"/><path d="M0,-1.9 L0.82,1.6 L-0.82,1.6 Z" transform="translate(454.1,293.1) rotate(-11)"/><path d="M0,-1.9 L0.81,1.5 L-0.81,1.5 Z" transform="translate(459.6,293.5) rotate(-13)"/><path d="M0,-1.8 L0.79,1.5 L-0.79,1.5 Z" transform="translate(465.8,292.3) rotate(-15)"/><path d="M0,-1.8 L0.78,1.4 L-0.78,1.4 Z" transform="translate(471.9,292.5) rotate(-16)"/><path d="M0,-1.7 L0.77,1.4 L-0.77,1.4 Z" transform="translate(476.5,293.0) rotate(-17)"/><path d="M0,-1.7 L0.76,1.4 L-0.76,1.4 Z" transform="translate(482.0,293.2) rotate(-19)"/><path d="M0,-1.7 L0.75,1.4 L-0.75,1.4 Z" transform="translate(488.1,292.9) rotate(-20)"/><path d="M0,-1.6 L0.74,1.3 L-0.74,1.3 Z" transform="translate(495.1,292.8) rotate(-21)"/><path d="M0,-1.6 L0.74,1.3 L-0.74,1.3 Z" transform="translate(500.2,292.3) rotate(-22)"/><path d="M0,-1.6 L0.73,1.3 L-0.73,1.3 Z" transform="translate(348.1,296.7) rotate(21)"/><path d="M0,-1.6 L0.74,1.3 L-0.74,1.3 Z" transform="translate(354.1,297.7) rotate(20)"/><path d="M0,-1.6 L0.74,1.3 L-0.74,1.3 Z" transform="translate(360.3,297.5) rotate(19)"/><path d="M0,-1.7 L0.75,1.4 L-0.75,1.4 Z" transform="translate(366.8,296.8) rotate(17)"/><path d="M0,-1.7 L0.76,1.4 L-0.76,1.4 Z" transform="translate(371.3,297.8) rotate(16)"/><path d="M0,-1.7 L0.77,1.4 L-0.77,1.4 Z" transform="translate(376.6,296.6) rotate(15)"/><path d="M0,-1.8 L0.78,1.4 L-0.78,1.4 Z" transform="translate(382.9,296.8) rotate(13)"/><path d="M0,-1.8 L0.79,1.5 L-0.79,1.5 Z" transform="translate(388.6,297.0) rotate(12)"/><path d="M0,-1.9 L0.81,1.5 L-0.81,1.5 Z" transform="translate(394.8,297.7) rotate(10)"/><path d="M0,-1.9 L0.82,1.6 L-0.82,1.6 Z" transform="translate(399.8,297.7) rotate(8)"/><path d="M0,-1.9 L0.83,1.6 L-0.83,1.6 Z" transform="translate(406.0,296.8) rotate(6)"/><path d="M0,-2.0 L0.85,1.6 L-0.85,1.6 Z" transform="translate(412.5,297.0) rotate(4)"/><path d="M0,-2.0 L0.85,1.6 L-0.85,1.6 Z" transform="translate(416.8,296.8) rotate(2)"/><path d="M0,-2.0 L0.86,1.6 L-0.86,1.6 Z" transform="translate(423.3,298.2) rotate(0)"/><path d="M0,-2.0 L0.86,1.6 L-0.86,1.6 Z" transform="translate(429.3,297.3) rotate(-2)"/><path d="M0,-2.0 L0.85,1.6 L-0.85,1.6 Z" transform="translate(434.1,296.6) rotate(-4)"/><path d="M0,-2.0 L0.85,1.6 L-0.85,1.6 Z" transform="translate(440.5,297.6) rotate(-6)"/><path d="M0,-1.9 L0.83,1.6 L-0.83,1.6 Z" transform="translate(445.6,297.8) rotate(-8)"/><path d="M0,-1.9 L0.82,1.6 L-0.82,1.6 Z" transform="translate(451.5,298.3) rotate(-10)"/><path d="M0,-1.9 L0.81,1.5 L-0.81,1.5 Z" transform="translate(457.7,297.0) rotate(-11)"/><path d="M0,-1.8 L0.79,1.5 L-0.79,1.5 Z" transform="translate(463.7,296.7) rotate(-13)"/><path d="M0,-1.8 L0.78,1.4 L-0.78,1.4 Z" transform="translate(468.8,297.3) rotate(-14)"/><path d="M0,-1.7 L0.77,1.4 L-0.77,1.4 Z" transform="translate(473.9,296.7) rotate(-16)"/><path d="M0,-1.7 L0.76,1.4 L-0.76,1.4 Z" transform="translate(480.6,296.6) rotate(-17)"/><path d="M0,-1.7 L0.75,1.4 L-0.75,1.4 Z" transform="translate(485.9,298.3) rotate(-18)"/><path d="M0,-1.6 L0.74,1.3 L-0.74,1.3 Z" transform="translate(490.9,297.0) rotate(-19)"/><path d="M0,-1.6 L0.74,1.3 L-0.74,1.3 Z" transform="translate(497.4,297.5) rotate(-20)"/><path d="M0,-1.6 L0.73,1.3 L-0.73,1.3 Z" transform="translate(352.0,303.0) rotate(19)"/><path d="M0,-1.6 L0.74,1.3 L-0.74,1.3 Z" transform="translate(356.8,302.1) rotate(18)"/><path d="M0,-1.7 L0.74,1.4 L-0.74,1.4 Z" transform="translate(362.7,301.6) rotate(17)"/><path d="M0,-1.7 L0.75,1.4 L-0.75,1.4 Z" transform="translate(369.5,302.9) rotate(16)"/><path d="M0,-1.7 L0.76,1.4 L-0.76,1.4 Z" transform="translate(374.9,301.5) rotate(15)"/><path d="M0,-1.7 L0.77,1.4 L-0.77,1.4 Z" transform="translate(380.8,302.8) rotate(13)"/><path d="M0,-1.8 L0.78,1.5 L-0.78,1.5 Z" transform="translate(385.8,302.8) rotate(12)"/><path d="M0,-1.8 L0.79,1.5 L-0.79,1.5 Z" transform="translate(391.5,301.9) rotate(10)"/><path d="M0,-1.9 L0.81,1.5 L-0.81,1.5 Z" transform="translate(396.6,301.9) rotate(9)"/><path d="M0,-1.9 L0.82,1.5 L-0.82,1.5 Z" transform="translate(402.2,302.1) rotate(7)"/><path d="M0,-1.9 L0.83,1.6 L-0.83,1.6 Z" transform="translate(409.1,302.8) rotate(5)"/><path d="M0,-2.0 L0.84,1.6 L-0.84,1.6 Z" transform="translate(415.0,302.8) rotate(3)"/><path d="M0,-2.0 L0.84,1.6 L-0.84,1.6 Z" transform="translate(419.7,302.5) rotate(1)"/><path d="M0,-2.0 L0.85,1.6 L-0.85,1.6 Z" transform="translate(425.7,302.9) rotate(-1)"/><path d="M0,-2.0 L0.84,1.6 L-0.84,1.6 Z" transform="translate(431.5,302.0) rotate(-3)"/><path d="M0,-2.0 L0.84,1.6 L-0.84,1.6 Z" transform="translate(437.5,303.2) rotate(-4)"/><path d="M0,-1.9 L0.83,1.6 L-0.83,1.6 Z" transform="translate(442.4,303.1) rotate(-6)"/><path d="M0,-1.9 L0.82,1.5 L-0.82,1.5 Z" transform="translate(447.7,302.0) rotate(-8)"/><path d="M0,-1.9 L0.81,1.5 L-0.81,1.5 Z" transform="translate(453.8,302.8) rotate(-10)"/><path d="M0,-1.8 L0.80,1.5 L-0.80,1.5 Z" transform="translate(460.8,302.8) rotate(-11)"/><path d="M0,-1.8 L0.78,1.5 L-0.78,1.5 Z" transform="translate(465.4,303.1) rotate(-13)"/><path d="M0,-1.7 L0.77,1.4 L-0.77,1.4 Z" transform="translate(471.1,301.9) rotate(-14)"/><path d="M0,-1.7 L0.76,1.4 L-0.76,1.4 Z" transform="translate(477.8,302.6) rotate(-16)"/><path d="M0,-1.7 L0.75,1.4 L-0.75,1.4 Z" transform="translate(483.1,302.7) rotate(-17)"/><path d="M0,-1.7 L0.74,1.4 L-0.74,1.4 Z" transform="translate(489.4,302.3) rotate(-18)"/><path d="M0,-1.6 L0.74,1.3 L-0.74,1.3 Z" transform="translate(494.8,302.8) rotate(-19)"/><path d="M0,-1.6 L0.73,1.3 L-0.73,1.3 Z" transform="translate(500.5,302.3) rotate(-20)"/><path d="M0,-1.6 L0.73,1.3 L-0.73,1.3 Z" transform="translate(349.4,307.4) rotate(19)"/><path d="M0,-1.6 L0.74,1.3 L-0.74,1.3 Z" transform="translate(354.4,306.8) rotate(18)"/><path d="M0,-1.6 L0.74,1.3 L-0.74,1.3 Z" transform="translate(360.6,306.5) rotate(17)"/><path d="M0,-1.7 L0.75,1.4 L-0.75,1.4 Z" transform="translate(366.8,306.7) rotate(16)"/><path d="M0,-1.7 L0.75,1.4 L-0.75,1.4 Z" transform="translate(370.9,306.6) rotate(15)"/><path d="M0,-1.7 L0.76,1.4 L-0.76,1.4 Z" transform="translate(378.3,307.0) rotate(13)"/><path d="M0,-1.7 L0.77,1.4 L-0.77,1.4 Z" transform="translate(382.6,306.5) rotate(12)"/><path d="M0,-1.8 L0.78,1.5 L-0.78,1.5 Z" transform="translate(388.1,307.6) rotate(10)"/><path d="M0,-1.8 L0.79,1.5 L-0.79,1.5 Z" transform="translate(394.8,307.7) rotate(9)"/><path d="M0,-1.8 L0.81,1.5 L-0.81,1.5 Z" transform="translate(400.7,306.5) rotate(7)"/><path d="M0,-1.9 L0.82,1.5 L-0.82,1.5 Z" transform="translate(406.2,307.1) rotate(6)"/><path d="M0,-1.9 L0.83,1.6 L-0.83,1.6 Z" transform="translate(412.3,307.9) rotate(4)"/><path d="M0,-1.9 L0.83,1.6 L-0.83,1.6 Z" transform="translate(418.1,306.5) rotate(2)"/><path d="M0,-1.9 L0.84,1.6 L-0.84,1.6 Z" transform="translate(423.8,308.0) rotate(0)"/><path d="M0,-1.9 L0.84,1.6 L-0.84,1.6 Z" transform="translate(429.6,306.6) rotate(-2)"/><path d="M0,-1.9 L0.83,1.6 L-0.83,1.6 Z" transform="translate(434.0,306.6) rotate(-3)"/><path d="M0,-1.9 L0.83,1.6 L-0.83,1.6 Z" transform="translate(439.4,307.9) rotate(-5)"/><path d="M0,-1.9 L0.82,1.5 L-0.82,1.5 Z" transform="translate(446.5,307.5) rotate(-7)"/><path d="M0,-1.9 L0.81,1.5 L-0.81,1.5 Z" transform="translate(452.2,307.5) rotate(-8)"/><path d="M0,-1.8 L0.79,1.5 L-0.79,1.5 Z" transform="translate(456.9,306.6) rotate(-10)"/><path d="M0,-1.8 L0.78,1.5 L-0.78,1.5 Z" transform="translate(462.3,307.8) rotate(-11)"/><path d="M0,-1.7 L0.77,1.4 L-0.77,1.4 Z" transform="translate(468.2,307.0) rotate(-13)"/><path d="M0,-1.7 L0.76,1.4 L-0.76,1.4 Z" transform="translate(474.3,306.4) rotate(-14)"/><path d="M0,-1.7 L0.75,1.4 L-0.75,1.4 Z" transform="translate(479.7,306.9) rotate(-15)"/><path d="M0,-1.7 L0.75,1.4 L-0.75,1.4 Z" transform="translate(486.2,307.1) rotate(-17)"/><path d="M0,-1.6 L0.74,1.3 L-0.74,1.3 Z" transform="translate(491.2,308.1) rotate(-18)"/><path d="M0,-1.6 L0.74,1.3 L-0.74,1.3 Z" transform="translate(497.2,307.9) rotate(-19)"/></g><g fill="#06061a" fill-opacity="0.8" filter="url(#bl4)"><path d="M0,-2.4 L1.10,2.0 L-1.10,2.0 Z" transform="translate(396.4,187.0) rotate(0)"/><path d="M0,-2.4 L1.20,2.0 L-1.20,2.0 Z" transform="translate(452.5,187.0) rotate(0)"/><path d="M0,-2.2 L0.90,1.8 L-0.90,1.8 Z" transform="translate(397.7,188.3) rotate(0)"/><path d="M0,-2.2 L0.90,1.8 L-0.90,1.8 Z" transform="translate(451.1,188.3) rotate(0)"/><path d="M0,-2.4 L1.10,2.0 L-1.10,2.0 Z" transform="translate(396.4,189.3) rotate(0)"/><path d="M0,-2.4 L1.20,2.0 L-1.20,2.0 Z" transform="translate(452.5,189.3) rotate(0)"/><path d="M0,-2.2 L0.90,1.8 L-0.90,1.8 Z" transform="translate(397.7,190.6) rotate(0)"/><path d="M0,-2.2 L0.90,1.8 L-0.90,1.8 Z" transform="translate(451.1,190.6) rotate(0)"/><path d="M0,-2.4 L1.10,2.0 L-1.10,2.0 Z" transform="translate(396.4,191.6) rotate(0)"/><path d="M0,-2.4 L1.20,2.0 L-1.20,2.0 Z" transform="translate(452.5,191.6) rotate(0)"/><path d="M0,-2.2 L0.90,1.8 L-0.90,1.8 Z" transform="translate(397.7,192.9) rotate(0)"/><path d="M0,-2.2 L0.90,1.8 L-0.90,1.8 Z" transform="translate(451.1,192.9) rotate(0)"/><path d="M0,-2.4 L1.10,2.0 L-1.10,2.0 Z" transform="translate(396.4,193.9) rotate(0)"/><path d="M0,-2.4 L1.20,2.0 L-1.20,2.0 Z" transform="translate(452.5,193.9) rotate(0)"/><path d="M0,-2.2 L0.90,1.8 L-0.90,1.8 Z" transform="translate(397.7,195.2) rotate(0)"/><path d="M0,-2.2 L0.90,1.8 L-0.90,1.8 Z" transform="translate(451.1,195.2) rotate(0)"/><path d="M0,-2.4 L1.10,2.0 L-1.10,2.0 Z" transform="translate(396.4,196.2) rotate(0)"/><path d="M0,-2.4 L1.20,2.0 L-1.20,2.0 Z" transform="translate(452.5,196.2) rotate(0)"/><path d="M0,-2.2 L0.90,1.8 L-0.90,1.8 Z" transform="translate(397.7,197.5) rotate(0)"/><path d="M0,-2.2 L0.90,1.8 L-0.90,1.8 Z" transform="translate(451.1,197.5) rotate(0)"/><path d="M0,-2.4 L1.10,2.0 L-1.10,2.0 Z" transform="translate(396.4,198.5) rotate(0)"/><path d="M0,-2.4 L1.20,2.0 L-1.20,2.0 Z" transform="translate(452.5,198.5) rotate(0)"/><path d="M0,-2.2 L0.90,1.8 L-0.90,1.8 Z" transform="translate(397.7,199.8) rotate(0)"/><path d="M0,-2.2 L0.90,1.8 L-0.90,1.8 Z" transform="translate(451.1,199.8) rotate(0)"/><path d="M0,-2.4 L1.10,2.0 L-1.10,2.0 Z" transform="translate(396.4,200.8) rotate(0)"/><path d="M0,-2.4 L1.20,2.0 L-1.20,2.0 Z" transform="translate(452.5,200.8) rotate(0)"/><path d="M0,-2.2 L0.90,1.8 L-0.90,1.8 Z" transform="translate(397.7,202.1) rotate(0)"/><path d="M0,-2.2 L0.90,1.8 L-0.90,1.8 Z" transform="translate(451.1,202.1) rotate(0)"/><path d="M0,-2.4 L1.10,2.0 L-1.10,2.0 Z" transform="translate(396.4,203.1) rotate(0)"/><path d="M0,-2.4 L1.20,2.0 L-1.20,2.0 Z" transform="translate(452.5,203.1) rotate(0)"/><path d="M0,-2.2 L0.90,1.8 L-0.90,1.8 Z" transform="translate(397.7,204.4) rotate(0)"/><path d="M0,-2.2 L0.90,1.8 L-0.90,1.8 Z" transform="translate(451.1,204.4) rotate(0)"/><path d="M0,-2.4 L1.10,2.0 L-1.10,2.0 Z" transform="translate(396.4,205.4) rotate(0)"/><path d="M0,-2.4 L1.20,2.0 L-1.20,2.0 Z" transform="translate(452.5,205.4) rotate(0)"/><path d="M0,-2.2 L0.90,1.8 L-0.90,1.8 Z" transform="translate(397.7,206.7) rotate(0)"/><path d="M0,-2.2 L0.90,1.8 L-0.90,1.8 Z" transform="translate(451.1,206.7) rotate(0)"/><path d="M0,-2.4 L1.10,2.0 L-1.10,2.0 Z" transform="translate(396.4,207.7) rotate(0)"/><path d="M0,-2.4 L1.20,2.0 L-1.20,2.0 Z" transform="translate(452.5,207.7) rotate(0)"/><path d="M0,-2.2 L0.90,1.8 L-0.90,1.8 Z" transform="translate(397.7,209.0) rotate(0)"/><path d="M0,-2.2 L0.90,1.8 L-0.90,1.8 Z" transform="translate(451.1,209.0) rotate(0)"/><path d="M0,-2.4 L1.10,2.0 L-1.10,2.0 Z" transform="translate(396.4,210.0) rotate(0)"/><path d="M0,-2.4 L1.20,2.0 L-1.20,2.0 Z" transform="translate(452.5,210.0) rotate(0)"/><path d="M0,-2.2 L0.90,1.8 L-0.90,1.8 Z" transform="translate(397.7,211.3) rotate(0)"/><path d="M0,-2.2 L0.90,1.8 L-0.90,1.8 Z" transform="translate(451.1,211.3) rotate(0)"/><path d="M0,-2.4 L1.10,2.0 L-1.10,2.0 Z" transform="translate(396.4,212.3) rotate(0)"/><path d="M0,-2.4 L1.20,2.0 L-1.20,2.0 Z" transform="translate(452.5,212.3) rotate(0)"/><path d="M0,-2.2 L0.90,1.8 L-0.90,1.8 Z" transform="translate(397.7,213.6) rotate(0)"/><path d="M0,-2.2 L0.90,1.8 L-0.90,1.8 Z" transform="translate(451.1,213.6) rotate(0)"/><path d="M0,-2.4 L1.10,2.0 L-1.10,2.0 Z" transform="translate(396.4,214.6) rotate(0)"/><path d="M0,-2.4 L1.20,2.0 L-1.20,2.0 Z" transform="translate(452.5,214.6) rotate(0)"/><path d="M0,-2.2 L0.90,1.8 L-0.90,1.8 Z" transform="translate(397.7,215.9) rotate(0)"/><path d="M0,-2.2 L0.90,1.8 L-0.90,1.8 Z" transform="translate(451.1,215.9) rotate(0)"/><path d="M0,-2.4 L1.10,2.0 L-1.10,2.0 Z" transform="translate(396.4,216.9) rotate(0)"/><path d="M0,-2.4 L1.20,2.0 L-1.20,2.0 Z" transform="translate(452.5,216.9) rotate(0)"/><path d="M0,-2.2 L0.90,1.8 L-0.90,1.8 Z" transform="translate(397.7,218.2) rotate(0)"/><path d="M0,-2.2 L0.90,1.8 L-0.90,1.8 Z" transform="translate(451.1,218.2) rotate(0)"/><path d="M0,-2.4 L1.10,2.0 L-1.10,2.0 Z" transform="translate(396.4,219.2) rotate(0)"/><path d="M0,-2.4 L1.20,2.0 L-1.20,2.0 Z" transform="translate(452.5,219.2) rotate(0)"/><path d="M0,-2.2 L0.90,1.8 L-0.90,1.8 Z" transform="translate(397.7,220.5) rotate(0)"/><path d="M0,-2.2 L0.90,1.8 L-0.90,1.8 Z" transform="translate(451.1,220.5) rotate(0)"/><path d="M0,-2.4 L1.10,2.0 L-1.10,2.0 Z" transform="translate(396.4,221.5) rotate(0)"/><path d="M0,-2.4 L1.20,2.0 L-1.20,2.0 Z" transform="translate(452.5,221.5) rotate(0)"/><path d="M0,-2.2 L0.90,1.8 L-0.90,1.8 Z" transform="translate(397.7,222.8) rotate(0)"/><path d="M0,-2.2 L0.90,1.8 L-0.90,1.8 Z" transform="translate(451.1,222.8) rotate(0)"/><path d="M0,-2.4 L1.10,2.0 L-1.10,2.0 Z" transform="translate(396.4,223.8) rotate(0)"/><path d="M0,-2.4 L1.20,2.0 L-1.20,2.0 Z" transform="translate(452.5,223.8) rotate(0)"/><path d="M0,-2.2 L0.90,1.8 L-0.90,1.8 Z" transform="translate(397.7,225.1) rotate(0)"/><path d="M0,-2.2 L0.90,1.8 L-0.90,1.8 Z" transform="translate(451.1,225.1) rotate(0)"/><path d="M0,-2.4 L1.10,2.0 L-1.10,2.0 Z" transform="translate(396.4,226.1) rotate(0)"/><path d="M0,-2.4 L1.20,2.0 L-1.20,2.0 Z" transform="translate(452.5,226.1) rotate(0)"/><path d="M0,-2.2 L0.90,1.8 L-0.90,1.8 Z" transform="translate(397.7,227.4) rotate(0)"/><path d="M0,-2.2 L0.90,1.8 L-0.90,1.8 Z" transform="translate(451.1,227.4) rotate(0)"/><path d="M0,-2.4 L1.10,2.0 L-1.10,2.0 Z" transform="translate(396.4,228.4) rotate(0)"/><path d="M0,-2.4 L1.20,2.0 L-1.20,2.0 Z" transform="translate(452.5,228.4) rotate(0)"/><path d="M0,-2.2 L0.90,1.8 L-0.90,1.8 Z" transform="translate(397.7,229.7) rotate(0)"/><path d="M0,-2.2 L0.90,1.8 L-0.90,1.8 Z" transform="translate(451.1,229.7) rotate(0)"/><path d="M0,-2.4 L1.10,2.0 L-1.10,2.0 Z" transform="translate(396.4,230.7) rotate(0)"/><path d="M0,-2.4 L1.20,2.0 L-1.20,2.0 Z" transform="translate(452.5,230.7) rotate(0)"/><path d="M0,-2.2 L0.90,1.8 L-0.90,1.8 Z" transform="translate(397.7,232.0) rotate(0)"/><path d="M0,-2.2 L0.90,1.8 L-0.90,1.8 Z" transform="translate(451.1,232.0) rotate(0)"/><path d="M0,-2.4 L1.10,2.0 L-1.10,2.0 Z" transform="translate(396.4,233.0) rotate(0)"/><path d="M0,-2.4 L1.20,2.0 L-1.20,2.0 Z" transform="translate(452.5,233.0) rotate(0)"/><path d="M0,-2.2 L0.90,1.8 L-0.90,1.8 Z" transform="translate(397.7,234.3) rotate(0)"/><path d="M0,-2.2 L0.90,1.8 L-0.90,1.8 Z" transform="translate(451.1,234.3) rotate(0)"/><path d="M0,-2.4 L1.10,2.0 L-1.10,2.0 Z" transform="translate(396.4,235.3) rotate(0)"/><path d="M0,-2.4 L1.20,2.0 L-1.20,2.0 Z" transform="translate(452.5,235.3) rotate(0)"/><path d="M0,-2.2 L0.90,1.8 L-0.90,1.8 Z" transform="translate(397.7,236.6) rotate(0)"/><path d="M0,-2.2 L0.90,1.8 L-0.90,1.8 Z" transform="translate(451.1,236.6) rotate(0)"/><path d="M0,-2.4 L1.10,2.0 L-1.10,2.0 Z" transform="translate(396.4,237.6) rotate(0)"/><path d="M0,-2.4 L1.20,2.0 L-1.20,2.0 Z" transform="translate(452.5,237.6) rotate(0)"/><path d="M0,-2.2 L0.90,1.8 L-0.90,1.8 Z" transform="translate(397.7,238.9) rotate(0)"/><path d="M0,-2.2 L0.90,1.8 L-0.90,1.8 Z" transform="translate(451.1,238.9) rotate(0)"/><path d="M0,-2.4 L1.10,2.0 L-1.10,2.0 Z" transform="translate(396.4,239.9) rotate(0)"/><path d="M0,-2.4 L1.20,2.0 L-1.20,2.0 Z" transform="translate(452.5,239.9) rotate(0)"/><path d="M0,-2.2 L0.90,1.8 L-0.90,1.8 Z" transform="translate(397.7,241.2) rotate(0)"/><path d="M0,-2.2 L0.90,1.8 L-0.90,1.8 Z" transform="translate(451.1,241.2) rotate(0)"/><path d="M0,-2.4 L1.10,2.0 L-1.10,2.0 Z" transform="translate(396.4,242.2) rotate(0)"/><path d="M0,-2.4 L1.20,2.0 L-1.20,2.0 Z" transform="translate(452.5,242.2) rotate(0)"/><path d="M0,-2.2 L0.90,1.8 L-0.90,1.8 Z" transform="translate(397.7,243.5) rotate(0)"/><path d="M0,-2.2 L0.90,1.8 L-0.90,1.8 Z" transform="translate(451.1,243.5) rotate(0)"/><path d="M0,-2.4 L1.10,2.0 L-1.10,2.0 Z" transform="translate(396.4,244.5) rotate(0)"/><path d="M0,-2.4 L1.20,2.0 L-1.20,2.0 Z" transform="translate(452.5,244.5) rotate(0)"/><path d="M0,-2.2 L0.90,1.8 L-0.90,1.8 Z" transform="translate(397.7,245.8) rotate(0)"/><path d="M0,-2.2 L0.90,1.8 L-0.90,1.8 Z" transform="translate(451.1,245.8) rotate(0)"/><path d="M0,-1.4 L0.75,1.2 L-0.75,1.2 Z" transform="translate(397.0,186.5) rotate(0)"/><path d="M0,-1.4 L0.75,1.2 L-0.75,1.2 Z" transform="translate(399.6,186.5) rotate(0)"/><path d="M0,-1.4 L0.75,1.2 L-0.75,1.2 Z" transform="translate(402.2,186.5) rotate(0)"/><path d="M0,-1.4 L0.75,1.2 L-0.75,1.2 Z" transform="translate(404.8,186.5) rotate(0)"/><path d="M0,-1.4 L0.75,1.2 L-0.75,1.2 Z" transform="translate(407.4,186.5) rotate(0)"/><path d="M0,-1.4 L0.75,1.2 L-0.75,1.2 Z" transform="translate(410.0,186.5) rotate(0)"/><path d="M0,-1.4 L0.75,1.2 L-0.75,1.2 Z" transform="translate(412.6,186.5) rotate(0)"/><path d="M0,-1.4 L0.75,1.2 L-0.75,1.2 Z" transform="translate(415.2,186.5) rotate(0)"/><path d="M0,-1.4 L0.75,1.2 L-0.75,1.2 Z" transform="translate(417.8,186.5) rotate(0)"/><path d="M0,-1.4 L0.75,1.2 L-0.75,1.2 Z" transform="translate(420.4,186.5) rotate(0)"/><path d="M0,-1.4 L0.75,1.2 L-0.75,1.2 Z" transform="translate(423.0,186.5) rotate(0)"/><path d="M0,-1.4 L0.75,1.2 L-0.75,1.2 Z" transform="translate(425.6,186.5) rotate(0)"/><path d="M0,-1.4 L0.75,1.2 L-0.75,1.2 Z" transform="translate(428.2,186.5) rotate(0)"/><path d="M0,-1.4 L0.75,1.2 L-0.75,1.2 Z" transform="translate(430.8,186.5) rotate(0)"/><path d="M0,-1.4 L0.75,1.2 L-0.75,1.2 Z" transform="translate(433.4,186.5) rotate(0)"/><path d="M0,-1.4 L0.75,1.2 L-0.75,1.2 Z" transform="translate(436.0,186.5) rotate(0)"/><path d="M0,-1.4 L0.75,1.2 L-0.75,1.2 Z" transform="translate(438.6,186.5) rotate(0)"/><path d="M0,-1.4 L0.75,1.2 L-0.75,1.2 Z" transform="translate(441.2,186.5) rotate(0)"/><path d="M0,-1.4 L0.75,1.2 L-0.75,1.2 Z" transform="translate(443.8,186.5) rotate(0)"/><path d="M0,-1.4 L0.75,1.2 L-0.75,1.2 Z" transform="translate(446.4,186.5) rotate(0)"/><path d="M0,-1.4 L0.75,1.2 L-0.75,1.2 Z" transform="translate(449.0,186.5) rotate(0)"/><path d="M0,-1.4 L0.75,1.2 L-0.75,1.2 Z" transform="translate(451.6,186.5) rotate(0)"/><path d="M0,-1.1 L0.60,0.9 L-0.60,0.9 Z" transform="translate(348.1,244.9) rotate(0)"/><path d="M0,-1.1 L0.60,0.9 L-0.60,0.9 Z" transform="translate(350.4,244.9) rotate(0)"/><path d="M0,-1.1 L0.60,0.9 L-0.60,0.9 Z" transform="translate(353.7,244.9) rotate(0)"/><path d="M0,-1.1 L0.60,0.9 L-0.60,0.9 Z" transform="translate(356.6,244.9) rotate(0)"/><path d="M0,-1.1 L0.60,0.9 L-0.60,0.9 Z" transform="translate(359.9,244.9) rotate(0)"/><path d="M0,-1.1 L0.60,0.9 L-0.60,0.9 Z" transform="translate(362.3,244.9) rotate(0)"/><path d="M0,-1.1 L0.60,0.9 L-0.60,0.9 Z" transform="translate(365.6,244.9) rotate(0)"/><path d="M0,-1.1 L0.60,0.9 L-0.60,0.9 Z" transform="translate(368.3,244.9) rotate(0)"/><path d="M0,-1.1 L0.60,0.9 L-0.60,0.9 Z" transform="translate(370.9,244.9) rotate(0)"/><path d="M0,-1.1 L0.60,0.9 L-0.60,0.9 Z" transform="translate(374.5,244.9) rotate(0)"/><path d="M0,-1.1 L0.60,0.9 L-0.60,0.9 Z" transform="translate(376.6,244.9) rotate(0)"/><path d="M0,-1.1 L0.60,0.9 L-0.60,0.9 Z" transform="translate(380.2,244.9) rotate(0)"/><path d="M0,-1.1 L0.60,0.9 L-0.60,0.9 Z" transform="translate(382.5,244.9) rotate(0)"/><path d="M0,-1.1 L0.60,0.9 L-0.60,0.9 Z" transform="translate(385.2,244.9) rotate(0)"/><path d="M0,-1.1 L0.60,0.9 L-0.60,0.9 Z" transform="translate(388.3,244.9) rotate(0)"/><path d="M0,-1.1 L0.60,0.9 L-0.60,0.9 Z" transform="translate(391.8,244.9) rotate(0)"/><path d="M0,-1.1 L0.60,0.9 L-0.60,0.9 Z" transform="translate(394.9,244.9) rotate(0)"/><path d="M0,-1.1 L0.60,0.9 L-0.60,0.9 Z" transform="translate(454.8,244.9) rotate(0)"/><path d="M0,-1.1 L0.60,0.9 L-0.60,0.9 Z" transform="translate(458.2,244.9) rotate(0)"/><path d="M0,-1.1 L0.60,0.9 L-0.60,0.9 Z" transform="translate(461.1,244.9) rotate(0)"/><path d="M0,-1.1 L0.60,0.9 L-0.60,0.9 Z" transform="translate(464.3,244.9) rotate(0)"/><path d="M0,-1.1 L0.60,0.9 L-0.60,0.9 Z" transform="translate(466.6,244.9) rotate(0)"/><path d="M0,-1.1 L0.60,0.9 L-0.60,0.9 Z" transform="translate(469.8,244.9) rotate(0)"/><path d="M0,-1.1 L0.60,0.9 L-0.60,0.9 Z" transform="translate(472.5,244.9) rotate(0)"/><path d="M0,-1.1 L0.60,0.9 L-0.60,0.9 Z" transform="translate(475.9,244.9) rotate(0)"/><path d="M0,-1.1 L0.60,0.9 L-0.60,0.9 Z" transform="translate(478.3,244.9) rotate(0)"/><path d="M0,-1.1 L0.60,0.9 L-0.60,0.9 Z" transform="translate(481.8,244.9) rotate(0)"/><path d="M0,-1.1 L0.60,0.9 L-0.60,0.9 Z" transform="translate(484.1,244.9) rotate(0)"/><path d="M0,-1.1 L0.60,0.9 L-0.60,0.9 Z" transform="translate(486.9,244.9) rotate(0)"/><path d="M0,-1.1 L0.60,0.9 L-0.60,0.9 Z" transform="translate(490.3,244.9) rotate(0)"/><path d="M0,-1.1 L0.60,0.9 L-0.60,0.9 Z" transform="translate(493.0,244.9) rotate(0)"/><path d="M0,-1.1 L0.60,0.9 L-0.60,0.9 Z" transform="translate(495.5,244.9) rotate(0)"/><path d="M0,-1.1 L0.60,0.9 L-0.60,0.9 Z" transform="translate(498.9,244.9) rotate(0)"/></g>
<rect x="395.5" y="186.5" width="1.9" height="59.5" fill="#0a0a10" fill-opacity="0.8"/>
<rect x="451.3" y="186.5" width="2.2" height="59.5" fill="#0a0a10" fill-opacity="0.8"/>
<path d="M394.0,245.5 L395.2,228.0 L398.7,230.0 L402.0,246.5 Z" fill="#08080e" fill-opacity="0.85" filter="url(#bl4)"/>
<path d="M455.5,245.5 L453.8,232.0 L450.5,233.0 L447.5,246.5 Z" fill="#08080e" fill-opacity="0.85" filter="url(#bl4)"/>
</g>
<text x="470.60" y="181.10" font-size="9.30" text-anchor="start"  >Exp.</text>
<text x="495.00" y="206.10" font-size="9.12" text-anchor="start"  >Temperature</text>
<rect x="511.0" y="215.7" width="5.6" height="47.8" fill="url(#jetg)"/>
<text x="518.40" y="219.20" font-size="7.00" text-anchor="start"  >326K</text>
<text x="518.40" y="266.00" font-size="7.00" text-anchor="start"  >316K</text>
</svg>
</body></html>
